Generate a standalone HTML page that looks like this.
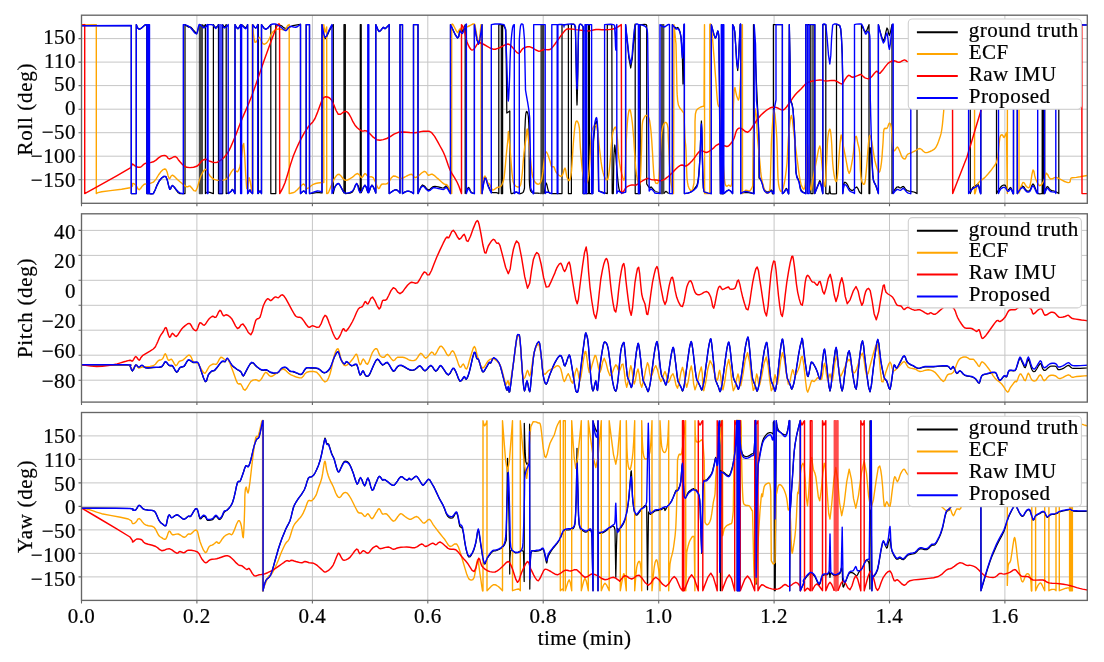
<!DOCTYPE html><html><head><meta charset="utf-8"><title>plot</title><style>html,body{margin:0;padding:0;background:#fff}svg{display:block;filter:blur(0.3px)}text{font-family:"Liberation Serif",serif;fill:#000;stroke:#000;stroke-width:0.22px;font-size:21px;letter-spacing:0.45px}</style></head><body>
<svg width="1104" height="662" viewBox="0 0 1104 662">
<rect width="1104" height="662" fill="#fff"/>
<clipPath id="c0"><rect x="81.5" y="15.2" width="1005.8" height="188.1"/></clipPath>
<path d="M81.5 15.2 V203.3 M196.9 15.2 V203.3 M312.4 15.2 V203.3 M427.8 15.2 V203.3 M543.2 15.2 V203.3 M658.7 15.2 V203.3 M774.1 15.2 V203.3 M889.5 15.2 V203.3 M1004.9 15.2 V203.3 M81.5 38.6 H1087.3 M81.5 62.1 H1087.3 M81.5 85.6 H1087.3 M81.5 109.2 H1087.3 M81.5 132.7 H1087.3 M81.5 156.2 H1087.3 M81.5 179.7 H1087.3" stroke="#c6c6c6" stroke-width="1.0" fill="none"/>
<g clip-path="url(#c0)">
<polyline points="81.7,25.7 131.3,25.5 131.3,193.6 136.3,193.6 136.3,24.6 136.9,26.2 137.9,28.2 139.2,29.3 141.1,28.4 143.3,26.5 145.0,25.0 146.0,24.6 146.5,24.6 146.8,24.6 146.8,193.6 147.5,193.6 148.6,193.6 149.7,193.6 150.8,193.8 151.9,193.8 153.3,193.6 155.1,190.0 157.1,185.1 159.2,181.0 161.4,178.3 163.8,176.4 165.8,176.5 167.3,180.1 168.6,185.6 169.7,189.3 170.6,188.9 171.4,186.6 172.5,185.5 174.3,187.4 176.4,190.4 178.3,192.8 179.9,193.6 181.3,193.6 182.5,193.6 183.6,193.7 184.4,193.6 185.0,193.6 185.0,24.6 185.9,25.3 187.1,26.3 188.3,27.0 189.1,27.0 189.7,26.8 190.8,27.3 192.7,29.3 195.0,32.0 196.7,34.0" fill="none" stroke="#000000" stroke-width="1.25" stroke-linejoin="round"/>
<polyline points="196.7,34.0 199.4,24.6 199.4,193.6 200.3,193.6 200.3,24.6 201.2,24.6 201.2,193.6 202.4,193.6 202.4,24.6" fill="none" stroke="#000000" stroke-width="1.25" stroke-linejoin="round" stroke-opacity="0.72"/>
<polyline points="202.4,24.6 202.8,25.2 203.4,26.1 204.0,26.5 204.5,26.1 205.0,25.2 205.4,24.6 205.4,193.6 206.0,193.1 206.8,192.4 208.0,192.0 209.8,192.4 211.9,193.1 213.4,193.6 213.4,24.6 214.0,25.6 214.9,26.9 215.8,27.5 216.8,26.9 217.8,25.6 218.5,24.6 218.5,193.6 222.7,193.6 222.7,24.6 223.2,25.4 223.8,26.5 224.5,27.0 225.1,26.5 225.8,25.4 226.2,24.6 226.2,193.6 227.6,193.1 229.5,192.3 231.0,191.5 231.7,190.6 232.0,189.7 232.5,189.5 233.4,190.6 234.3,192.3 235.0,193.6 235.0,24.6 235.7,26.0 236.8,27.8 237.9,28.7 238.9,27.7 239.8,25.7 241.0,24.6 242.5,25.3 244.2,26.9 245.6,27.7 246.5,27.0 247.2,25.6 247.6,24.6 247.6,193.6 248.3,192.5 249.2,190.9 250.0,190.0 250.4,190.3 250.7,191.2 251.0,192.0 251.5,192.6 252.2,193.2 252.6,193.6 252.6,24.6 253.4,25.7 254.6,27.2 255.7,28.0 256.7,27.2 257.6,25.7 258.3,24.6 258.3,193.6 258.7,192.7 259.4,191.6 260.0,191.0 260.6,191.6 261.1,192.7 261.5,193.6 261.5,24.6 262.6,26.2 264.2,28.3 265.8,29.3 267.6,28.3 269.5,26.2 270.8,24.6 270.8,193.6 275.8,193.6 275.8,24.6 277.2,24.8 279.1,25.0 281.0,25.5 282.5,26.6 284.0,27.9 285.8,28.5 288.0,27.9 290.5,26.7 293.0,25.7 295.8,25.1 298.5,24.6 300.5,24.3 300.5,193.6 301.4,192.7 302.6,191.6 303.7,191.0 304.7,191.6 305.6,192.7 306.2,193.6 306.2,24.6 309.5,24.6 309.5,193.6 311.7,193.3 314.8,192.8 317.5,192.5 319.4,192.6 321.0,192.8 322.0,193.0 322.0,24.6 322.7,29.1 323.8,35.2 325.0,38.8 326.3,37.8 327.8,34.3 329.2,31.0 330.7,28.5 332.2,26.2 333.3,24.6 333.3,193.6 333.7,191.7 334.3,189.1 335.0,186.8 336.0,185.2 337.2,184.0 338.3,183.5 339.2,184.0 339.9,185.2 340.8,186.8 341.9,188.9 343.1,191.3 344.0,193.0 344.0,24.6 345.3,24.6 345.3,193.6 347.3,193.4 350.1,193.1 352.5,192.0 354.1,189.0 355.5,185.3 356.7,183.5 358.1,185.6 359.4,189.7 360.3,192.7 360.3,24.6 361.2,24.6 361.2,192.7 362.2,190.2 363.6,186.9 365.0,185.2 366.1,187.1 367.2,190.8 368.3,192.7 369.5,190.7 370.7,187.1 372.0,185.2 373.4,187.0 374.8,190.4 375.8,193.0 375.8,24.6 376.7,26.8 377.9,29.8 379.2,31.5 380.6,30.7 382.1,28.7 383.3,27.3 384.0,27.6 384.3,28.4 385.0,28.7 386.4,27.6 388.0,25.9 389.2,24.6 389.2,193.6 391.0,192.3 393.5,190.6 395.8,189.7 397.5,190.4 399.0,191.9 400.0,193.0 400.0,24.6 402.5,24.6 402.5,193.6 403.6,192.9 405.2,191.9 406.7,191.3 408.1,191.2 409.5,191.4 410.8,191.8 411.9,192.4 412.9,193.1 413.5,193.6 413.5,24.6 418.0,24.6 418.0,193.6 419.1,190.9 420.7,187.2 422.5,185.0 424.4,186.0 426.4,188.5 428.3,190.0 430.0,189.3 431.7,187.7 433.3,186.5 435.0,186.3 436.6,186.5 438.3,186.8 440.1,187.3 441.9,187.8 443.5,188.0 444.6,187.3 445.5,186.2 446.5,186.0 447.7,187.6 449.0,190.0 450.0,192.0 450.4,192.9 450.5,193.3 450.5,193.6 450.5,24.6 452.5,28.9 455.2,34.6 457.5,38.0 458.7,36.7 459.4,33.0 460.0,30.0 460.6,28.7 461.1,28.0 461.5,28.0 461.9,29.3 462.3,31.3 462.8,32.0 463.6,30.1 464.5,26.9 465.2,24.6 465.2,193.6 466.1,191.6 467.3,189.0 468.5,187.5 469.4,188.3 470.1,190.3 471.0,192.0 472.2,192.8 473.5,193.3 474.4,193.6 474.4,24.6 475.5,31.1 477.0,39.7 478.5,44.0 479.8,39.7 481.1,31.1 482.0,24.6 482.0,193.6 482.8,188.4 483.9,181.3 485.0,177.0 486.0,177.9 487.0,181.5 488.0,185.0 489.0,187.6 490.1,190.2 491.3,192.0 492.8,192.6 494.5,192.5 496.0,192.5 497.2,192.9 498.1,193.3 498.8,193.6 498.8,24.6 501.3,24.6 501.3,193.6 502.6,193.6 502.6,24.6 502.8,24.5 503.1,24.5 503.5,25.0 504.2,26.5 505.2,28.5 505.8,30.0 506.5,80.0 506.8,113.0 509.8,111.0 509.9,179.0 510.1,182.7 510.4,187.9 510.8,191.8 511.1,193.3 511.4,193.7 512.0,193.6 513.2,193.2 514.6,192.4 516.0,192.0 517.0,192.4 518.0,193.1 519.0,193.6 520.4,193.6 521.8,193.2 523.0,192.5 523.7,191.1 524.2,189.3 524.5,188.0 524.9,129.0 525.1,125.3 525.3,120.2 525.6,116.0 525.9,113.5 526.3,112.0 526.7,111.5 527.2,112.0 527.8,113.5 528.3,116.0 528.6,120.5 528.9,126.0 529.0,130.0 529.3,179.0 529.4,181.5 529.6,185.0 529.9,188.0 530.3,190.0 530.8,191.4 532.0,192.5 534.4,193.1 537.5,193.2 539.7,193.3" fill="none" stroke="#000000" stroke-width="1.25" stroke-linejoin="round"/>
<polyline points="539.7,193.3 541.0,193.6 541.0,24.6 541.9,24.6 541.9,193.6 542.8,193.6 542.8,24.6 543.7,24.6 543.7,193.6 544.2,193.6" fill="none" stroke="#000000" stroke-width="1.25" stroke-linejoin="round" stroke-opacity="0.75"/>
<polyline points="544.2,193.6 544.7,190.1 545.4,185.5 546.2,183.0 546.9,184.8 547.8,188.8 548.7,192.0 549.7,193.1 550.8,193.5 552.5,193.6 555.6,193.7 559.3,193.7 562.0,193.6 562.0,24.6 568.4,24.6 568.4,193.6 571.4,193.6 571.4,24.6 572.3,24.3 573.5,24.1 574.5,24.6 575.0,26.8 575.3,29.8 575.5,32.0 576.5,85.0 576.6,91.7 576.8,100.6 577.0,105.0 577.2,100.6 577.4,91.7 577.6,85.0 578.5,32.0 578.7,29.9 579.0,27.1 579.4,25.0 580.0,24.3 580.8,24.3 581.5,24.6 582.1,25.3 582.6,26.3 583.0,27.0 583.0,193.6 588.4,193.6 588.4,24.6 589.4,24.6 589.4,193.6 592.8,193.6 593.5,142.0 593.8,138.1 594.3,132.7 594.8,128.0 595.3,124.6 595.9,122.0 596.4,121.0 596.8,121.9 597.2,124.4 597.5,128.0 597.7,133.6 597.9,140.2 598.0,145.0 598.6,191.0 607.3,193.6 607.3,24.6 611.8,24.6 612.2,193.6 613.3,193.6 613.8,160.0 614.0,154.8 614.4,148.0 614.8,145.0 615.3,149.0 615.9,156.8 616.5,165.0 617.2,173.1 618.0,181.6 618.8,188.0 619.7,191.1 620.7,192.1 621.8,192.5 623.1,192.7 624.6,192.3 625.6,192.0 625.6,24.6 627.0,39.0 628.9,58.2 630.7,68.0 632.2,59.2 633.7,40.9 634.7,27.0 635.1,24.0 635.2,24.0 635.2,24.6 635.2,193.6 640.2,193.6 640.2,24.6 642.0,24.5 644.4,24.4 646.2,24.6 646.7,25.3 646.7,26.3 646.7,27.0 646.7,184.0 647.5,185.2 648.7,186.9 649.7,188.0 650.2,187.9 650.6,187.1 651.2,187.0 652.3,188.1 653.7,189.8 654.7,191.0" fill="none" stroke="#000000" stroke-width="1.25" stroke-linejoin="round"/>
<polyline points="654.7,191.0 661.5,193.6 661.5,24.6 662.3,24.6 662.3,193.6 663.0,193.6 663.0,24.6 663.8,24.6 663.8,193.6" fill="none" stroke="#000000" stroke-width="1.25" stroke-linejoin="round" stroke-opacity="0.72"/>
<polyline points="663.8,193.6 664.4,192.9 665.2,191.9 666.0,191.4 666.6,191.7 667.2,192.4 668.0,193.0 669.5,193.3 671.2,193.5 672.4,193.6 672.4,24.6 673.4,25.6 674.8,27.0 676.0,28.0 676.9,27.9 677.6,27.5 678.4,28.0 679.3,29.9 680.2,32.8 681.0,37.0 681.6,43.9 682.1,52.1 682.4,58.0 683.0,84.0 684.0,24.6 684.4,24.6 684.4,193.6 685.9,193.4 688.0,193.1 690.0,192.4 691.8,191.3 693.5,189.8 695.0,188.0 696.2,186.5 697.1,184.8 698.0,181.0 698.8,174.4 699.4,165.7 700.0,156.0 700.5,142.4 701.0,127.7 701.4,121.0 701.8,128.3 702.1,143.5 702.4,158.0 702.7,169.5 703.0,180.2 703.4,188.0 704.0,191.5 704.7,192.1 705.8,192.4 707.6,193.1 709.8,193.4 711.3,193.6 711.3,24.6 712.4,28.8 713.9,34.5 715.3,38.0 716.3,36.7 717.1,33.2 717.8,31.0 718.3,32.0 718.6,34.3 718.8,36.0 719.8,100.0 720.4,193.6 721.2,193.7 722.4,193.8 723.8,193.6 725.4,192.4 727.2,190.8 728.8,190.0 730.3,190.8 731.7,192.4 732.6,193.6 732.6,24.6 733.1,25.4 733.9,27.0 734.8,32.0 735.7,45.7 736.7,62.8 737.7,70.5 738.6,59.8 739.5,39.6 740.2,24.6 740.5,24.0 740.6,24.0 740.7,24.6 740.7,193.6 741.9,193.2 743.6,192.7 745.7,192.4 748.4,192.7 751.4,193.2 753.5,193.6 753.5,24.6 753.7,26.7 754.0,30.5 754.5,40.0 755.4,59.4 756.5,84.3 757.5,106.0 758.2,121.6 758.7,133.8 759.0,142.0 759.0,178.0 759.6,178.6 760.6,179.5 761.5,181.0 762.3,183.5 763.1,186.5 764.0,189.0 765.0,190.6 766.2,191.6 767.4,192.0 768.8,191.5 770.3,190.4 771.4,190.0 772.0,190.9 772.2,192.5 772.4,193.6 772.8,193.8 773.1,193.7 773.4,193.6 773.4,24.6 782.4,24.6 782.4,193.6 782.8,193.4 783.3,193.1 784.0,192.4 784.8,190.9 785.6,189.2 786.4,188.4 787.2,189.6 787.9,191.9 788.4,193.6 788.6,193.8 788.7,193.8 788.7,193.6 789.3,24.6 790.2,70.0 790.4,100.0 791.1,101.5 792.1,104.0 793.0,109.0 793.7,118.0 794.4,129.6 795.0,141.0 795.3,152.2 795.6,163.3 796.0,172.0 796.9,176.6 798.0,178.8 799.0,181.0 799.6,184.2 800.2,187.4 801.0,190.0 802.6,191.7 804.5,192.9 805.8,193.6 805.8,24.6 810.8,24.6 810.8,193.6 813.0,193.6 813.0,24.6 814.8,24.6 814.8,193.6 815.9,190.5 817.5,186.3 818.8,183.0 819.4,181.3 819.8,180.7 820.3,181.5 821.2,185.0 822.1,190.0 822.8,193.6 822.8,24.6 825.8,24.6 825.8,193.6 826.0,193.6 826.3,193.6 826.8,193.6 827.5,193.8 828.3,193.8 829.0,193.6 829.4,191.1 829.6,187.7 829.8,186.0 829.9,187.7 830.0,191.1 830.6,193.6 832.4,193.8 834.8,193.8 836.5,193.6 836.5,24.6 836.7,24.4 837.1,24.3 837.7,24.6 838.6,25.0 839.7,25.8 840.7,29.0 841.4,36.7 841.9,46.8 842.2,54.0 842.7,80.0 842.7,193.6 843.1,190.4 843.6,186.1 844.2,183.0 844.9,182.2 845.8,182.6 846.7,183.5 847.7,185.1 848.7,187.3 849.7,189.0 850.7,189.9 851.6,190.4 852.7,190.4 854.0,189.3 855.4,187.7 856.7,187.0 857.8,188.3 858.8,190.6 859.7,192.4 860.5,193.2 861.1,193.4 861.5,193.6 861.5,24.6 862.6,27.1 864.1,30.4 865.5,32.0 866.8,30.4 868.1,27.1 869.0,24.6 869.0,193.6 869.8,193.6 870.0,148.0 870.2,147.9 870.6,148.1 871.0,150.0 871.5,155.0 871.9,161.9 872.4,168.0 872.7,172.7 873.0,176.7 873.4,180.0 874.2,182.4 875.1,184.1 876.0,186.0 876.9,188.7 877.8,191.6 878.4,193.6 878.4,24.6 879.7,29.9 881.7,37.1 883.4,41.0 884.7,38.1 885.9,31.9 887.0,28.0 887.9,29.6 888.6,33.5 889.4,35.4 890.3,32.7 891.3,28.1 892.0,24.6 892.0,193.6 893.4,191.6 895.3,188.9 897.0,187.0 898.3,186.9 899.4,187.6 900.4,188.0 901.4,187.5 902.4,186.7 903.4,186.5 904.4,187.5 905.5,189.1 907.0,190.5 909.2,191.2 911.8,191.6 914.0,192.0 915.4,192.6 916.4,193.2 917.0,193.6 917.0,24.6 970.3,24.6 970.3,193.6 970.8,192.1 971.5,189.9 972.5,188.0 973.8,186.7 975.3,185.7 976.6,185.0 977.3,184.4 977.8,184.0 978.3,184.5 979.0,186.6 979.7,189.6 980.3,192.0 980.6,193.0 980.7,193.4 980.8,193.6 980.8,24.6 996.5,24.6 996.5,193.6 997.6,191.7 999.2,189.1 1000.7,187.0 1002.1,185.7 1003.5,185.0 1004.8,185.0 1006.0,186.4 1007.0,188.6 1008.0,190.0 1009.0,189.4 1009.8,188.0 1010.7,187.5 1011.6,189.1 1012.4,191.7 1013.0,193.6 1013.3,193.8 1013.4,193.8 1013.5,193.6 1013.5,24.6 1017.3,24.6 1017.3,193.6 1018.6,191.2 1020.5,187.9 1022.3,186.0 1023.8,186.8 1025.1,188.9 1026.4,190.5 1027.6,191.1 1028.7,191.1 1029.8,190.5 1030.9,188.3 1031.9,185.4 1033.0,184.0 1034.2,185.5 1035.4,188.5 1036.4,191.0 1037.1,192.3 1037.7,193.1 1038.5,193.6 1039.8,193.8 1041.2,193.7 1042.2,193.6 1042.2,24.6 1043.0,24.6 1043.0,193.6 1043.8,193.6 1043.8,24.6 1044.7,24.6 1044.7,193.6 1045.3,191.4 1046.2,188.3 1047.2,186.5 1048.2,187.0 1049.2,188.6 1050.5,190.0 1052.1,190.6 1053.9,191.0 1055.5,191.5 1056.8,192.2 1058.0,193.0 1058.8,193.6 1058.8,24.6 1087.3,25.0" fill="none" stroke="#000000" stroke-width="1.25" stroke-linejoin="round"/>
<polyline points="81.7,25.0 96.3,24.6 96.3,193.6 96.9,193.2 98.0,192.6 101.7,191.8 110.4,190.6 121.6,189.2 130.0,187.7 132.5,186.1 132.5,184.5 132.5,183.5 133.5,183.5 134.7,184.2 135.8,185.2 136.9,186.9 137.9,188.8 139.2,189.7 140.6,188.5 142.2,186.2 144.2,184.3 147.0,183.7 150.2,183.4 153.3,182.2 156.0,179.1 158.5,175.0 160.8,171.8 162.7,169.9 164.3,169.0 165.8,169.3 167.1,172.0 168.1,175.9 169.2,178.5 170.2,178.0 171.1,176.0 172.5,175.2 174.7,176.7 177.4,179.4 180.0,181.8 182.4,183.8 184.7,185.6 186.7,186.8 188.0,186.7 188.8,186.1 190.0,186.0 191.8,188.0 193.8,190.6 195.8,191.0 197.5,187.2 199.2,181.1 200.8,176.0 202.5,172.7 204.2,170.2 205.8,169.3 207.2,170.6 208.4,173.5 210.0,176.0 211.9,177.8 214.1,179.3 216.7,180.2 219.9,180.4 223.5,180.1 226.7,178.8 229.2,175.8 231.4,171.9 233.3,169.3 234.9,169.7 236.3,171.4 237.5,171.8 238.7,170.0 239.8,166.9 240.8,162.7 241.8,154.7 242.7,145.5 243.7,143.5 244.7,155.8 245.7,175.3 246.7,188.5 247.6,188.1 248.4,181.6 249.2,177.7 250.1,180.7 251.0,186.5 251.7,191.0 252.1,192.8 252.2,193.3 252.3,193.6 252.3,24.6 252.9,30.0 253.9,37.4 255.0,42.3 256.3,41.9 257.8,39.0 259.2,37.3 260.4,38.6 261.5,41.2 262.5,43.2 263.4,44.0 264.1,44.2 265.0,44.0 266.0,43.4 267.1,42.3 268.3,40.7 269.6,38.1 270.9,34.9 272.5,32.3 274.3,30.7 276.2,29.6 278.3,29.0 280.6,29.1 283.0,29.7 285.0,29.8 286.2,28.7 286.9,27.0 287.5,25.7 288.2,25.1 288.8,24.8 289.2,24.6 289.2,193.6 290.7,193.3 292.8,192.8 295.0,191.8 297.3,189.7 299.7,187.2 301.7,185.2 302.8,184.3 303.5,184.0 304.2,184.3 305.1,185.6 306.2,187.5 307.5,188.5 309.2,187.6 311.2,185.8 313.3,184.3 315.6,183.5 317.9,183.0 320.0,182.7 321.6,182.5 322.9,182.5 323.8,182.5 323.8,24.6 324.1,27.0 324.5,30.2 325.0,32.0 325.6,31.1 326.2,28.8 326.7,27.0 326.7,193.6 327.1,193.6 327.6,193.4 328.3,192.7 329.0,191.2 329.8,189.2 330.8,186.8 332.1,183.8 333.5,180.4 335.0,177.7 336.3,175.8 337.7,174.5 339.2,174.3 341.0,175.9 342.9,178.5 345.0,180.2 347.2,180.1 349.5,179.0 351.7,177.7 353.8,176.1 355.7,174.3 357.5,173.5 359.1,174.6 360.4,176.6 361.7,177.7 362.9,176.6 363.9,174.7 365.0,173.5 366.0,174.1 367.1,175.6 368.3,176.8 369.8,176.9 371.6,176.8 373.3,177.7 375.0,181.1 376.8,185.6 378.3,188.5 379.5,188.1 380.4,186.0 381.7,184.3 383.5,184.0 385.5,184.1 387.5,183.5 389.4,181.1 391.2,178.0 393.3,176.0 395.7,176.3 398.4,177.7 400.8,178.5 402.9,178.0 404.9,177.0 406.7,176.0 408.5,175.2 410.1,174.5 411.7,174.3 413.0,175.4 414.1,177.1 415.8,177.7 418.4,175.9 421.6,173.0 424.2,171.3 425.9,172.0 427.1,173.9 428.3,175.2 429.6,175.0 430.9,174.3 432.5,174.3 434.9,175.9 437.6,178.4 440.0,180.5 441.6,182.0 442.9,183.1 444.0,184.0 445.1,184.4 446.0,184.5 447.0,185.0 448.0,186.4 449.1,188.3 450.0,190.0 450.7,191.4 451.3,192.7 451.7,193.6 451.7,24.6 451.9,24.3 452.3,24.0 453.0,24.5 454.3,27.0 456.0,30.4 457.5,32.5 458.3,32.1 458.8,30.5 460.0,29.0 462.4,28.1 465.4,27.3 468.0,26.5 470.0,25.5 471.7,24.6 473.0,24.0 473.8,24.0 474.3,24.0 475.0,25.0 476.1,31.1 477.4,39.1 478.5,43.0 479.5,38.9 480.4,30.7 481.0,24.6 481.0,193.6 481.4,190.4 481.9,185.9 482.5,182.0 483.3,179.1 484.2,176.9 485.0,176.0 485.7,177.3 486.3,179.9 487.0,182.0 487.8,182.8 488.6,183.2 489.5,184.0 490.4,186.0 491.4,188.5 492.5,190.0 493.9,189.8 495.5,188.6 497.0,187.5 498.4,187.2 499.8,186.9 501.0,186.0 502.1,184.3 503.1,181.8 504.0,178.0 504.7,172.2 505.4,165.1 506.0,158.0 506.7,150.8 507.5,143.7 508.0,138.0 508.2,134.4 508.3,132.2 508.4,131.5 508.6,132.6 508.8,135.1 509.0,138.0 509.3,140.5 509.6,143.4 510.0,148.0 510.6,155.7 511.3,165.1 512.0,173.0 512.6,178.0 513.1,181.4 514.0,184.0 515.5,186.0 517.4,187.0 519.0,187.0 520.0,186.1 520.8,184.2 521.5,180.0 522.4,172.0 523.2,161.9 524.0,153.0 524.7,146.9 525.4,142.1 526.0,138.0 526.5,133.9 526.8,130.4 527.2,129.0 527.6,130.6 527.9,134.3 528.3,138.0 528.6,140.7 529.0,143.5 529.5,148.0 530.2,155.8 531.1,165.3 532.0,173.0 532.9,177.4 533.9,180.1 535.0,182.0 536.3,183.5 537.7,184.2 539.0,184.0 540.1,183.1 541.1,181.3 542.0,178.0 542.9,171.9 543.7,164.1 544.5,158.0 545.1,154.4 545.7,152.4 546.5,152.0 547.6,154.0 548.9,157.7 550.0,161.0 550.6,163.3 551.0,165.2 551.5,166.5 552.3,166.9 553.2,166.7 554.0,167.0 554.6,168.4 555.2,170.2 556.0,172.0 557.2,173.6 558.7,175.1 560.0,176.0 560.9,176.3 561.7,176.0 562.5,175.0 563.4,172.5 564.2,169.4 565.0,168.0 565.7,170.0 566.3,173.8 567.0,177.0 567.8,179.1 568.7,180.5 569.5,180.5 570.2,178.8 570.9,175.6 571.5,171.0 572.0,164.3 572.5,156.1 573.0,148.0 573.6,140.0 574.3,132.0 575.0,126.0 575.7,122.6 576.3,121.1 577.0,121.0 577.8,122.0 578.7,124.3 579.4,128.0 579.8,133.6 580.0,140.6 580.4,148.0 581.0,155.9 581.7,164.1 582.4,171.0 583.2,176.0 584.1,179.6 585.0,182.0 585.8,183.3 586.6,183.4 587.4,182.0 588.1,179.0 588.8,174.4 589.4,168.0 590.0,158.4 590.5,147.0 591.0,138.0 591.4,133.3 591.8,130.9 592.4,129.0 593.5,126.8 594.8,125.2 596.0,125.0 596.8,126.9 597.4,130.1 598.0,134.0 598.5,138.1 598.9,142.7 599.4,148.0 600.2,154.6 601.1,161.9 602.0,168.0 603.0,172.4 604.0,175.7 605.0,178.0 606.0,179.5 607.1,179.9 608.0,178.5 608.7,174.9 609.4,169.5 610.0,163.0 610.7,154.8 611.3,145.5 612.0,138.0 612.7,133.5 613.3,130.8 614.0,129.0 614.7,127.6 615.4,127.1 616.0,128.0 616.5,130.8 617.0,135.1 617.5,140.0 617.9,145.6 618.2,151.9 618.8,158.0 619.7,163.9 620.7,169.6 621.8,174.0 622.9,177.8 623.9,180.2 624.8,178.0 625.4,167.9 625.9,153.0 626.3,140.0 626.8,131.0 627.3,123.7 627.8,118.0 628.4,113.5 629.0,110.5 629.7,109.4 630.4,110.6 631.0,113.7 631.7,118.0 632.4,123.5 633.0,130.2 633.7,138.0 634.3,147.8 635.0,158.7 635.7,168.0 636.5,174.7 637.4,179.7 638.2,183.0 638.9,185.0 639.6,185.2 640.2,182.0 640.7,173.4 641.1,161.3 641.5,150.0 641.7,140.5 641.9,131.7 642.2,125.0 642.7,121.2 643.3,119.3 644.0,118.0 644.8,116.5 645.7,115.5 646.7,115.4 647.7,116.2 648.8,117.8 649.7,121.0 650.4,125.8 651.1,132.1 651.7,140.0 652.4,150.9 653.1,163.4 653.7,173.0 654.1,177.4 654.3,178.9 654.7,180.0 655.2,181.7 655.8,183.1 656.5,183.4 657.3,183.5 658.2,182.5 659.0,178.0 659.7,166.9 660.4,152.1 661.0,140.0 661.6,133.2 662.3,129.0 663.0,126.0 664.0,123.7 665.0,122.5 666.0,122.4 666.8,123.3 667.5,125.3 668.0,128.0 668.2,130.7 668.2,134.2 668.4,140.0 668.9,150.2 669.4,162.8 670.0,173.0 670.5,178.7 670.9,182.0 671.4,185.0 672.1,188.4 672.9,191.5 673.5,193.6 674.0,24.6 676.0,44.0 677.0,91.0 677.2,94.9 677.6,100.3 678.4,105.0 679.8,108.0 681.6,110.1 683.0,112.0 683.6,112.9 683.8,113.4 684.0,116.0 684.3,122.4 684.7,130.7 685.0,138.0 685.3,142.1 685.7,145.2 686.0,150.0 686.3,158.8 686.6,169.4 687.0,178.0 687.6,182.9 688.2,185.9 689.0,188.0 690.0,189.8 691.0,190.7 692.0,190.5 692.8,188.5 693.5,185.3 694.0,183.0 695.0,138.0 695.0,131.1 695.0,121.6 695.4,114.0 696.3,110.5 697.6,109.0 699.0,108.0 700.7,107.0 702.7,106.4 704.0,106.0 704.5,24.6 704.6,193.6 709.8,193.6 709.8,24.6 710.1,24.0 710.5,24.0 711.3,25.0 712.7,40.4 714.4,61.9 715.8,80.0 716.6,91.0 717.2,98.5 717.8,104.0 718.6,106.4 719.5,106.9 720.3,110.0 720.9,117.9 721.4,128.5 722.0,140.0 722.7,153.2 723.5,167.3 724.3,178.0 725.0,183.2 725.6,185.1 726.3,186.0 727.1,186.2 728.0,185.5 728.8,185.0 729.5,185.5 730.2,186.2 730.8,186.4 731.2,185.5 731.6,184.1 731.8,183.0 732.5,140.0 732.9,124.8 733.5,104.0 734.2,89.5 735.0,87.6 735.8,92.1 736.7,96.0 737.5,98.3 738.4,100.1 739.2,97.5 740.0,87.8 740.8,73.8 741.5,60.0 741.9,46.7 742.2,33.7 742.4,24.6 742.5,193.6 743.3,192.6 744.5,191.2 745.7,190.3 747.0,190.4 748.4,191.0 749.7,191.0 750.9,189.6 752.0,187.5 752.7,186.0 753.3,140.0 753.9,129.7 754.7,116.0 755.5,109.0 756.2,114.6 756.8,126.8 757.5,138.0 758.2,145.3 758.8,151.7 759.5,158.0 760.1,164.9 760.7,171.9 761.5,178.0 762.6,183.3 763.8,187.7 765.0,191.0 766.1,192.7 767.1,193.3 768.0,193.0 768.8,192.8 769.4,191.8 770.0,188.0 770.4,179.5 770.7,168.2 771.0,158.0 771.2,150.9 771.3,144.9 771.6,138.0 772.3,127.2 773.1,115.5 774.0,110.0 775.0,114.7 776.0,125.7 776.8,138.0 777.3,151.5 777.6,166.3 778.0,178.0 778.6,184.5 779.3,187.9 780.0,190.0 780.7,191.3 781.3,191.3 782.0,190.4 782.8,189.0 783.6,186.7 784.4,183.0 785.3,177.5 786.2,170.5 787.0,163.0 787.5,154.9 787.9,146.3 788.4,138.0 789.3,128.6 790.3,119.5 791.4,115.4 792.4,119.7 793.4,129.0 794.4,138.0 795.3,144.8 796.1,151.3 797.0,158.0 798.0,165.7 799.0,173.6 800.0,180.0 801.0,184.2 802.1,186.9 803.0,188.4 803.8,189.2 804.4,188.7 805.0,186.0 805.5,179.7 806.0,171.1 806.4,163.0 806.8,155.1 807.1,147.6 807.4,144.0 807.7,146.7 807.9,153.2 808.2,160.0 808.4,166.1 808.6,172.4 809.0,178.0 809.6,183.3 810.3,187.9 811.0,190.0 811.6,188.2 812.3,183.9 813.0,179.0 813.9,174.1 814.9,168.6 816.0,163.0 817.3,156.1 818.6,149.2 819.8,146.0 820.6,149.0 821.2,155.9 821.8,163.0 822.5,170.1 823.2,177.6 823.8,183.0 824.3,185.7 824.8,186.4 825.3,184.0 825.8,177.1 826.3,167.2 826.8,158.0 827.1,150.5 827.4,143.6 827.8,138.0 828.4,133.5 829.1,130.3 829.8,129.0 830.3,130.1 830.8,133.1 831.3,138.0 831.8,145.5 832.2,154.8 832.7,163.0 833.3,169.2 834.0,174.3 834.7,178.0 835.4,180.5 836.1,181.6 836.7,181.0 837.2,178.1 837.7,173.4 838.2,168.0 838.7,161.6 839.2,154.4 839.7,148.0 840.2,142.4 840.7,137.5 841.2,135.0 841.6,135.9 842.1,139.0 842.7,143.0 843.6,147.5 844.6,152.7 845.7,158.0 846.8,164.2 848.0,170.5 849.2,173.4 850.4,170.6 851.6,164.4 852.7,158.0 853.5,152.0 854.1,145.8 854.7,141.0 855.2,138.1 855.7,136.6 856.2,136.3 856.7,137.6 857.2,140.1 857.7,143.0 858.4,145.5 859.1,148.4 859.7,153.0 860.1,160.9 860.4,170.5 861.0,178.0 862.1,182.2 863.4,184.3 864.5,184.0 865.3,180.6 865.9,174.8 866.5,168.0 867.2,159.7 867.9,150.4 868.5,143.0 869.0,138.6 869.5,136.1 870.0,135.3 870.6,136.3 871.2,139.1 872.0,143.0 872.9,148.5 873.9,155.1 875.0,161.0 876.3,166.1 877.7,170.4 879.0,172.4 879.9,171.2 880.7,167.7 881.4,163.0 882.0,156.9 882.5,149.6 883.0,143.0 883.3,137.5 883.5,132.7 884.0,129.3 884.9,128.2 886.0,128.5 887.0,128.3 887.9,126.5 888.7,124.2 889.4,123.0 890.1,123.6 890.8,125.3 891.4,128.0 891.8,132.2 892.1,137.4 892.4,142.0 892.8,145.9 893.3,149.1 894.0,151.0 895.0,150.3 896.3,148.1 897.4,147.0 898.3,148.0 899.2,150.0 900.0,152.0 900.7,153.8 901.3,155.6 902.0,157.0 902.9,158.1 904.0,158.9 905.0,159.0 905.8,157.9 906.5,156.0 907.4,154.5 908.4,153.8 909.6,153.4 910.8,153.0 912.1,152.4 913.5,151.7 915.0,151.0 916.6,150.0 918.3,148.9 920.0,148.5 921.7,149.5 923.3,151.3 925.0,152.5 926.6,152.6 928.3,152.2 930.0,151.5 931.9,150.6 934.0,149.4 935.8,147.5 937.3,144.7 938.6,141.3 939.7,138.0 940.5,135.6 941.1,133.4 941.7,130.0 942.4,124.9 943.0,118.6 943.7,111.0 944.3,101.5 944.9,90.7 945.5,80.0 946.0,69.8 946.5,59.6 947.0,50.0 947.0,40.3 947.0,31.0 948.5,24.6 956.3,24.0 966.9,24.0 974.5,24.6 974.6,193.6 974.6,193.8 974.6,193.8 975.0,193.6 975.8,190.7 976.8,186.6 978.3,183.0 980.2,180.9 982.5,179.4 985.0,177.4 987.8,174.3 990.7,170.8 993.2,167.4 995.0,165.0 996.3,162.7 997.4,159.0 998.4,152.1 999.1,143.7 999.9,137.5 1000.8,135.1 1001.6,134.8 1002.4,135.0 1003.0,135.7 1003.4,137.0 1004.0,137.5 1004.9,136.2 1005.8,134.1 1006.5,132.5 1007.3,193.6 1007.5,24.6 1019.0,24.6 1019.0,193.0 1020.1,189.7 1021.6,185.2 1023.0,182.4 1024.2,182.8 1025.3,184.9 1026.4,186.5 1027.5,187.4 1028.7,187.9 1029.8,186.5 1030.9,181.3 1032.0,174.2 1033.0,170.0 1033.9,171.2 1034.6,175.2 1035.6,179.0 1036.9,181.8 1038.3,184.4 1039.7,185.7 1041.2,185.0 1042.6,183.0 1043.9,180.7 1044.8,177.9 1045.5,174.8 1046.4,173.2 1047.6,174.4 1048.9,177.1 1050.5,179.0 1052.2,178.8 1054.1,177.8 1056.3,177.4 1059.0,178.5 1062.0,180.2 1064.6,181.5 1066.6,182.2 1068.3,182.6 1069.6,182.4 1070.2,181.3 1070.4,179.5 1071.0,178.2 1072.3,177.7 1074.0,177.6 1076.3,177.4 1080.0,176.8 1084.2,176.0 1087.3,175.5" fill="none" stroke="#FFA500" stroke-width="1.4" stroke-linejoin="round"/>
<polyline points="81.7,25.0 84.7,24.6 84.7,193.6 98.3,186.1 117.1,175.6 130.8,167.7 132.0,164.6 132.0,163.9 132.0,164.0 133.3,164.5 135.0,165.8 136.7,166.8 138.1,167.2 139.4,167.3 140.8,167.0 142.0,166.0 143.3,164.7 145.0,163.5 147.5,162.9 150.4,162.6 153.3,161.8 156.0,160.1 158.5,157.9 160.8,156.3 162.7,155.6 164.3,155.4 165.8,155.7 167.0,156.7 167.9,158.2 169.2,159.0 171.1,158.3 173.3,157.0 175.3,156.5 176.9,157.7 178.3,159.7 180.0,161.8 182.0,163.9 184.1,165.9 186.7,167.3 190.0,167.6 193.6,167.2 196.7,166.3 198.8,164.7 200.3,162.7 201.7,161.0 203.1,160.0 204.5,159.5 205.8,159.3 207.1,159.7 208.4,160.6 210.0,161.3 212.2,162.0 214.8,162.6 217.5,162.2 220.5,160.4 223.8,157.7 226.7,154.3 229.0,150.6 231.0,146.4 233.3,141.0 236.2,133.9 239.3,125.7 242.5,117.7 245.5,110.9 248.4,104.2 251.7,96.0 255.6,85.2 259.8,72.9 264.0,60.7 268.6,48.0 273.2,35.5 276.7,26.5 278.5,24.0 279.2,24.0 279.6,24.6 279.7,193.6 281.0,191.4 282.8,187.9 285.0,182.7 287.5,174.7 290.4,164.9 293.3,156.0 296.2,149.0 299.0,142.9 301.7,137.7 304.0,133.4 306.2,130.0 308.3,126.8 310.5,124.2 312.8,121.9 315.0,118.5 317.3,112.9 319.7,106.2 321.7,101.0 323.2,98.3 324.4,97.1 325.8,96.8 327.6,97.0 329.6,98.0 331.7,100.2 333.8,104.7 336.1,110.5 338.3,114.3 340.6,114.3 342.9,112.5 345.0,111.3 346.5,111.6 347.8,112.5 349.2,114.3 351.0,117.5 352.9,121.7 355.0,125.2 357.2,127.7 359.6,129.7 361.7,131.0 363.3,131.1 364.7,130.6 366.7,131.0 369.7,133.6 373.2,137.2 376.7,139.7 380.0,140.2 383.2,139.6 386.7,138.5 390.3,136.6 394.0,134.1 398.3,132.3 403.8,132.0 409.9,132.5 415.0,132.7 418.4,132.3 420.8,131.6 423.3,131.3 426.1,131.1 428.9,131.2 431.7,132.7 434.6,136.4 437.5,141.4 440.0,146.0 441.9,149.4 443.5,152.5 445.0,156.0 446.6,160.4 448.2,165.3 450.0,170.0 452.3,174.2 454.8,178.1 457.0,182.0 458.9,186.3 460.4,190.6 461.5,193.6 461.5,24.6 462.1,25.4 463.0,26.7 464.0,29.0 464.9,32.9 465.9,37.8 467.0,42.0 468.3,45.2 469.7,47.8 471.0,49.5 472.0,50.1 472.9,49.9 474.0,49.0 475.4,47.1 476.9,44.6 478.5,43.0 480.1,42.8 481.9,43.5 484.0,44.5 486.8,46.1 490.0,48.0 493.0,49.2 495.4,49.2 497.7,48.4 500.0,47.5 502.7,46.2 505.5,44.7 508.0,44.0 509.9,44.7 511.4,46.3 513.0,48.0 514.8,50.1 516.7,52.4 518.5,53.5 520.0,52.5 521.4,50.3 523.0,48.5 525.1,47.5 527.5,46.8 530.0,46.8 532.8,48.0 535.8,50.0 538.5,51.2 540.5,51.0 542.2,50.2 544.0,49.5 546.0,49.6 548.1,49.8 550.0,49.5 551.6,48.4 553.0,46.6 555.0,44.0 558.1,39.6 561.9,34.4 565.0,30.5 566.9,29.0 568.2,28.9 570.0,29.0 572.7,29.1 575.9,29.6 579.0,30.0 582.0,30.4 585.1,30.9 588.0,31.0 590.7,30.6 593.3,30.0 596.0,29.5 598.9,29.5 601.9,29.8 605.0,29.8 608.4,29.6 611.9,29.2 615.0,28.5 617.6,27.2 619.8,25.7 621.3,24.6 621.6,193.6 622.1,193.0 622.9,192.1 623.8,191.0 624.7,189.7 625.6,188.2 626.8,187.0 628.3,186.1 630.0,185.4 631.7,185.0 633.2,185.0 634.7,185.1 636.2,185.0 637.6,184.2 639.1,183.2 640.7,182.0 642.8,180.7 645.2,179.3 647.2,178.4 648.6,178.4 649.6,178.9 650.7,179.4 652.1,179.7 653.5,179.9 654.7,180.0 655.1,180.0 655.3,180.0 656.0,180.0 657.7,180.3 660.1,180.7 662.5,180.4 664.9,179.1 667.4,177.2 670.0,175.0 672.8,172.3 675.6,169.3 678.0,167.0 679.6,165.8 680.8,165.2 682.0,165.0 683.3,165.3 684.5,166.0 686.0,166.0 687.9,164.9 689.9,163.1 692.0,161.0 694.1,158.4 696.2,155.4 698.0,153.0 699.3,151.6 700.3,150.8 701.4,150.5 702.9,151.0 704.6,152.0 706.3,152.5 708.0,152.0 709.8,150.9 711.8,149.5 714.0,147.6 716.3,145.3 718.8,144.0 721.5,144.4 724.4,145.8 726.8,146.5 728.5,146.0 729.7,144.9 730.8,143.5 732.0,141.9 733.2,140.1 734.2,138.0 735.0,135.4 735.8,132.5 736.7,130.3 737.8,128.9 739.1,128.1 740.7,128.0 742.8,129.4 745.3,131.5 747.7,132.3 749.9,130.5 752.1,127.5 753.7,125.0 754.3,124.2 754.4,123.9 755.0,123.0 756.5,120.7 758.6,117.8 761.0,115.0 763.9,112.4 767.1,109.8 770.0,108.0 772.2,107.2 774.0,107.1 776.0,107.4 778.3,108.3 780.8,109.6 783.0,110.0 784.7,109.1 786.3,107.3 788.0,105.0 790.2,101.9 792.7,98.2 795.0,95.0 797.0,92.7 799.0,90.9 801.0,89.0 803.0,86.7 805.1,84.4 807.8,82.5 811.6,81.2 816.1,80.4 819.8,80.0 822.1,80.1 823.8,80.6 825.8,81.0 828.6,80.8 831.8,80.4 834.7,80.5 837.3,81.6 839.7,83.2 841.7,84.0 843.0,83.2 843.8,81.7 844.7,80.0 846.0,78.2 847.3,76.4 848.7,75.3 849.9,75.6 851.1,76.7 852.7,77.3 855.0,76.7 857.6,75.6 859.7,74.8 860.6,74.5 861.0,74.5 861.5,74.8 862.5,75.7 863.7,76.9 865.0,77.8 866.5,78.4 868.2,78.8 870.0,78.3 872.1,76.2 874.4,73.2 876.4,71.3 877.6,71.7 878.6,73.2 880.0,73.3 882.4,70.6 885.3,66.6 888.0,63.4 890.2,61.8 892.1,61.0 894.0,60.7 895.7,61.1 897.3,62.0 899.0,62.4 900.8,61.7 902.7,60.6 904.4,59.9 905.7,60.4 906.9,61.4 908.8,61.9 911.9,61.7 915.7,61.0 920.0,60.0 924.9,58.9 930.2,57.5 935.0,55.0 938.8,50.8 942.0,45.4 945.0,40.0 947.9,34.3 950.6,28.6 952.4,24.6 952.7,193.6 956.2,184.6 961.1,172.1 965.0,162.0 966.4,158.4 966.9,157.2 968.3,152.5 971.3,142.7 975.3,129.3 980.8,111.0 988.2,82.3 997.1,48.6 1006.8,24.6 1017.0,24.0 1028.0,24.0 1040.0,26.0 1054.8,25.7 1070.6,25.1 1081.8,24.6 1082.0,193.6 1087.3,193.6" fill="none" stroke="#FF0000" stroke-width="1.45" stroke-linejoin="round"/>
<polyline points="81.7,25.7 131.3,25.5 131.3,193.6 136.3,193.6 136.3,24.6 136.9,26.2 137.9,28.2 139.2,29.3 141.1,28.4 143.2,26.5 145.0,25.0 146.0,24.6 146.6,24.6 146.9,24.6 146.9,193.6 147.6,193.6 147.6,24.6 148.3,24.6 148.3,193.6 148.9,193.6 148.9,24.6 149.5,24.6 149.5,193.6 150.4,193.8 151.7,193.8 153.3,193.6 155.1,190.0 157.1,185.1 159.2,181.0 161.4,178.3 163.8,176.4 165.8,176.5 167.3,180.1 168.6,185.6 169.7,189.3 170.6,188.9 171.4,186.6 172.5,185.5 174.3,187.0 176.4,189.7 178.3,191.8 179.9,192.8 181.4,193.3 182.5,193.6 183.0,193.7 183.2,193.7 183.3,193.6 183.3,24.6 184.2,24.7 185.4,24.9 186.7,25.3 188.0,25.9 189.3,26.8 190.8,28.0 192.7,30.3 194.8,33.0 196.5,34.0 197.5,31.5 198.3,27.3 199.2,24.5 200.7,25.0 202.4,26.9 204.0,28.0 205.3,27.2 206.5,25.7 207.3,24.5 207.3,193.6 208.0,193.6 208.0,24.6 209.4,24.6 211.3,24.6 213.0,25.0 214.1,26.2 215.0,27.8 215.8,28.5 216.8,27.6 217.8,25.9 218.5,24.6" fill="none" stroke="#0000FF" stroke-width="1.4" stroke-linejoin="round"/>
<polyline points="218.5,24.6 219.3,24.6 219.3,193.6 220.1,193.6 220.1,24.6 221.0,24.6 221.0,193.6 221.9,193.6 221.9,24.6" fill="none" stroke="#0000FF" stroke-width="1.4" stroke-linejoin="round" stroke-opacity="0.72"/>
<polyline points="221.9,24.6 222.5,25.7 223.5,27.2 224.5,28.0 225.8,27.2 227.2,25.7 228.2,24.6 228.2,193.6 229.0,193.1 230.1,192.3 231.0,191.5 231.6,190.6 232.0,189.7 232.5,189.5 233.4,190.6 234.3,192.3 235.0,193.6 235.0,24.6 235.8,26.0 236.8,27.8 237.9,28.7 238.9,27.8 239.9,26.0 240.6,24.6 240.6,193.6 241.6,193.6 241.6,24.6 242.7,26.0 244.3,27.8 245.6,28.7 246.5,27.8 247.2,26.0 247.6,24.6 247.6,193.6 248.3,192.5 249.2,190.9 250.0,190.0 250.4,190.3 250.7,191.2 251.0,192.0 251.5,192.6 252.2,193.2 252.6,193.6 252.6,24.6 253.4,25.7 254.6,27.2 255.7,28.0 256.5,27.2 257.2,25.7 257.7,24.6 257.7,193.6 258.3,192.7 259.2,191.6 260.0,191.0 260.6,191.6 261.1,192.7 261.5,193.6 261.5,24.6 262.6,26.2 264.1,28.3 265.8,29.3 267.7,28.2 269.7,25.9 271.7,24.3 273.4,24.0 275.1,24.0 276.7,24.5 278.4,25.4 280.1,26.5 281.7,27.7 283.1,29.0 284.5,30.2 285.8,30.7 287.1,29.6 288.5,27.8 290.0,26.5 291.9,26.5 293.9,27.1 295.8,27.3 297.6,26.5 299.3,25.2 300.5,24.3 300.5,193.6 301.4,192.7 302.6,191.6 303.7,191.0 304.7,191.6 305.6,192.7 306.2,193.6 306.2,24.6 309.5,24.6 309.5,193.6 311.7,192.8 314.8,191.7 317.5,191.0 319.4,191.1 321.0,191.6 322.0,192.0 322.0,24.6 322.7,28.6 323.8,34.1 325.0,37.3 326.4,36.2 327.9,32.9 329.2,29.8 330.3,27.7 331.3,25.9 332.0,24.6 332.0,193.6 332.8,191.7 333.9,189.1 335.0,186.8 336.1,185.2 337.2,184.0 338.3,183.5 339.1,184.0 339.9,185.2 340.8,186.8 342.0,189.0 343.3,191.4 345.0,193.0 347.4,193.1 350.1,192.4 352.5,191.0 354.2,188.3 355.5,185.0 356.7,183.5 357.8,185.9 358.8,190.3 360.0,192.7 361.6,190.9 363.4,187.2 365.0,185.2 366.2,186.8 367.2,190.1 367.8,192.5 367.8,24.6 368.8,24.6 368.8,192.7 369.6,190.2 370.8,186.8 372.0,185.2 373.4,187.0 374.8,190.4 375.8,193.0 375.8,24.6 376.7,26.8 377.9,29.8 379.2,31.5 380.6,30.7 382.1,28.7 383.3,27.3 384.0,27.6 384.3,28.4 385.0,28.7 386.4,27.6 388.0,25.9 389.2,24.6 389.2,193.6 391.0,192.3 393.5,190.6 395.8,189.7 397.5,190.4 399.0,191.9 400.0,193.0 400.0,24.6 402.5,24.6 402.5,193.6 403.6,192.9 405.2,191.9 406.7,191.3 408.1,191.2 409.5,191.4 410.8,191.8 411.9,192.4 412.9,193.1 413.5,193.6 413.5,24.6 418.0,24.6 418.0,193.6 419.1,191.2 420.7,187.9 422.5,186.0 424.4,187.0 426.4,189.5 428.3,191.0 430.0,190.4 431.7,188.8 433.3,187.7 435.0,187.7 436.6,188.1 438.3,188.5 440.1,188.9 441.9,189.4 443.5,189.5 444.6,188.8 445.5,187.7 446.5,187.5 447.7,189.0 449.0,191.3 450.0,193.0 450.4,193.6 450.5,193.6 450.5,193.6 450.5,24.6 452.5,28.8 455.2,34.5 457.5,38.0 458.7,36.8 459.3,33.4 460.0,31.0 460.8,31.6 461.6,33.2 462.5,33.5 463.7,31.0 465.0,27.3 466.0,24.6 466.4,24.0 466.4,24.3 466.4,24.6 466.4,193.6 466.9,191.9 467.7,189.7 468.5,188.5 469.3,189.3 470.1,191.0 471.0,192.5 472.2,193.1 473.5,193.4 474.4,193.6 474.4,24.6 475.5,31.1 477.0,39.7 478.5,44.0 479.8,39.7 481.1,31.1 482.0,24.6 482.0,193.6 482.8,188.7 483.9,182.0 485.0,178.0 486.0,179.0 487.0,182.5 488.0,186.0 489.2,188.7 490.4,191.2 491.3,193.0 491.3,24.6 495.0,24.0 500.1,24.0 504.0,24.6 505.5,28.8 505.8,35.2 506.0,44.0 506.6,57.0 507.1,72.4 507.5,85.0 507.8,93.4 508.0,99.0 508.3,101.0 508.6,98.7 508.9,92.9 509.3,85.0 509.7,74.3 510.0,61.4 510.5,50.0 511.1,41.0 511.8,33.5 512.5,28.0 513.2,25.4 513.8,24.8 514.3,24.6 514.3,193.6 514.8,193.1 515.5,192.4 516.3,192.0 517.3,192.4 518.5,193.1 519.3,193.6 519.3,40.0 519.6,35.9 520.0,30.3 520.5,26.0 521.3,24.0 522.2,24.0 523.0,24.6 523.6,29.1 524.1,35.4 524.5,40.0 525.5,90.0 526.4,95.3 527.7,102.7 528.7,109.0 529.2,113.1 529.5,116.0 529.7,118.0 530.3,150.0 530.7,188.0 531.4,189.7 532.4,191.9 533.2,193.6 533.5,193.8 533.6,193.8 533.7,193.6 533.7,24.6 545.2,24.6 545.2,193.6 545.6,193.1 546.1,192.4 547.0,192.0 548.6,192.4 550.4,193.1 551.8,193.6 551.8,24.6 557.2,24.6 557.2,193.6 557.9,193.6 557.9,24.6 559.5,24.5 561.7,24.4 563.4,24.6 563.9,25.4 564.0,26.5 564.0,27.0 564.0,26.5 564.0,25.4 565.0,24.6 567.9,24.1 571.6,24.0 574.5,24.6 575.5,26.8 575.5,29.8 575.5,32.0 576.5,75.0 576.6,79.7 576.8,85.9 577.0,89.0 577.2,85.9 577.4,79.7 577.6,75.0 578.5,32.0 578.7,29.9 579.0,27.1 579.4,25.0 580.0,24.3 580.8,24.3 581.5,24.6 582.2,25.3 582.9,26.3 583.4,27.0 583.4,193.6 585.0,193.6 585.0,24.6 586.2,24.6 586.2,193.6 586.6,193.6 586.6,24.6 591.6,24.6 591.6,193.6 592.8,193.6 593.3,140.0 593.6,135.8 594.0,130.0 594.5,125.0 595.1,121.4 595.8,118.6 596.4,117.5 596.8,118.4 597.2,121.0 597.5,125.0 597.8,131.5 598.0,139.4 598.2,145.0 598.8,191.0 604.6,193.6 604.6,24.6 607.2,24.4 610.8,24.2 613.5,24.6 614.5,25.5 614.7,26.9 614.8,30.0 615.2,37.1 615.5,45.9 615.8,50.0 616.1,45.1 616.3,35.5 616.5,28.0 616.6,25.4 616.7,24.8 616.8,24.6 616.8,193.6 617.1,192.8 617.6,191.6 618.3,191.0 619.3,191.4 620.5,192.4 621.8,193.0 623.2,192.9 624.6,192.4 625.6,192.0 625.6,24.6 627.0,37.6 628.9,55.1 630.7,64.0 632.1,56.0 633.4,39.6 634.7,27.0 636.1,24.0 637.5,24.0 638.4,24.6 638.4,193.6 639.3,193.6 639.3,24.6 640.8,24.9 642.9,25.3 644.7,26.0 645.8,26.9 646.6,28.1 647.2,30.0 647.5,33.3 647.6,37.2 647.7,40.0 648.3,100.0 649.2,191.0 649.7,190.3 650.3,189.3 651.2,189.0 652.4,189.9 653.7,191.4 654.7,192.5 654.9,192.9 654.7,192.9 655.0,193.0 656.5,193.2 658.5,193.4 660.0,193.6 660.0,24.6 661.0,25.4 662.5,26.5 664.0,27.0 665.4,26.5 666.9,25.4 668.0,24.6 668.7,24.4 669.2,24.5 669.5,24.6 669.5,193.6 672.4,193.6 672.4,24.6 673.4,25.9 674.8,27.7 676.0,29.0 676.9,29.0 677.6,28.6 678.4,29.0 679.3,30.6 680.2,33.1 681.0,37.0 681.5,45.1 682.0,54.5 682.4,58.0 683.0,49.7 683.5,35.3 684.0,24.6 684.2,24.0 684.3,24.0 684.4,24.6 684.4,193.6 685.9,193.4 688.0,193.0 690.0,192.4 691.8,191.5 693.5,190.4 695.0,189.0 696.2,187.9 697.1,186.5 698.0,183.0 698.8,176.4 699.4,167.7 700.0,158.0 700.5,144.8 701.0,130.6 701.4,124.0 701.8,130.4 702.1,144.4 702.4,158.0 702.7,169.2 703.0,180.0 703.4,188.0 704.0,191.5 704.7,192.1 705.8,192.4 707.6,193.1 709.8,193.4 711.3,193.6 711.3,24.6 712.4,28.8 713.9,34.5 715.3,38.0 716.3,36.7 717.1,33.2 717.8,31.0 718.3,32.0 718.6,34.3 718.8,36.0 719.6,112.0 720.4,193.6 721.3,193.6 721.3,24.6 722.2,24.6 722.2,193.6 723.0,193.6 723.0,24.6 723.8,24.6 723.8,193.6 725.1,192.4 727.0,190.8 728.8,190.0 730.3,190.8 731.7,192.4 732.6,193.6 732.6,24.6 733.1,25.5 733.9,27.1 734.8,32.0 735.7,44.8 736.7,60.8 737.7,68.0 738.6,57.8 739.5,38.8 740.2,24.6 740.5,24.0 740.6,24.0 740.7,24.6 740.7,193.6 741.9,192.9 743.6,191.9 745.7,191.4 748.4,191.9 751.5,192.9 753.7,193.6 754.2,193.8 754.2,193.7 754.2,193.6 754.2,24.6 755.5,44.0 756.5,101.0 756.9,104.5 757.5,109.6 758.0,116.0 758.4,124.8 758.8,134.9 759.0,142.0 759.5,177.0 760.2,178.5 761.1,180.7 762.0,183.0 762.7,185.4 763.2,187.9 764.0,190.0 765.0,191.5 766.2,192.5 767.4,193.0 768.8,192.5 770.2,191.5 771.4,191.0 772.3,191.6 772.9,192.8 773.4,193.6 773.7,193.8 773.9,193.7 774.0,193.6 774.0,110.0 776.0,100.0 776.0,24.6 782.4,24.6 782.4,193.6 782.8,193.4 783.3,193.0 784.0,192.4 784.8,191.3 785.6,189.9 786.4,189.4 787.2,190.4 787.9,192.2 788.4,193.6 788.6,193.8 788.7,193.8 788.7,193.6 789.3,24.6 790.2,70.0 790.4,101.0 791.1,102.5 792.1,105.0 793.0,110.0 793.7,119.0 794.4,130.6 795.0,142.0 795.3,153.2 795.6,164.3 796.0,173.0 796.9,177.6 798.0,179.8 799.0,182.0 799.6,185.2 800.2,188.5 801.0,191.0 802.6,192.4 804.5,193.2 805.8,193.6 805.8,24.6 807.6,24.6 807.6,193.6 809.2,193.6 809.2,24.6 814.8,24.6 814.8,193.6 815.9,190.8 817.5,186.9 818.8,184.0 819.4,182.6 819.8,182.2 820.3,183.0 821.2,186.1 822.1,190.4 822.8,193.6 822.8,24.6 823.5,24.0 824.6,24.0 825.8,24.6 827.1,37.7 828.5,55.2 829.8,64.0 830.8,55.4 831.6,38.0 832.7,25.0 834.3,24.0 836.1,24.0 837.7,24.6 838.9,24.9 839.9,25.8 840.7,29.0 841.4,36.7 841.9,46.8 842.2,54.0 842.7,80.0 842.7,193.6 843.1,191.0 843.6,187.5 844.2,185.0 844.9,184.5 845.8,185.0 846.7,186.0 847.6,187.5 848.6,189.4 849.7,191.0 851.2,191.9 853.0,192.5 854.2,193.0 854.5,193.3 854.5,193.5 854.5,193.6 854.5,24.6 856.4,24.1 859.1,24.0 861.5,24.0 863.1,27.0 864.4,31.2 865.5,34.0 866.3,33.9 866.9,32.4 867.5,31.5 868.2,31.8 868.9,32.7 869.5,34.0 869.8,36.0 869.9,38.3 870.0,40.0 870.3,100.0 870.5,106.1 870.7,115.2 871.0,126.0 871.4,139.9 871.9,155.6 872.4,168.0 872.7,174.4 873.0,177.6 873.4,180.0 874.2,182.4 875.1,184.1 876.0,186.0 876.9,188.7 877.8,191.6 878.4,193.6 878.4,24.6 879.7,30.4 881.7,38.3 883.4,43.0 884.7,40.8 885.9,35.4 887.0,33.0 887.9,38.0 888.6,46.0 889.4,49.4 890.4,43.3 891.5,32.6 892.4,24.6 892.9,24.0 893.1,24.0 893.2,24.6 893.2,193.6 894.2,192.3 895.6,190.6 897.0,189.4 898.2,189.5 899.3,190.1 900.4,190.4 901.4,189.7 902.4,188.7 903.4,188.4 904.6,189.4 905.8,191.1 907.0,192.4 908.3,193.1 909.5,193.4 910.4,193.6 910.8,193.7 910.8,193.6 910.8,193.6 910.8,24.6 968.6,24.6 968.6,193.6 969.6,192.3 971.0,190.5 972.5,189.0 973.9,187.9 975.4,187.1 976.6,186.5 977.3,185.8 977.8,185.3 978.3,185.7 979.0,187.8 979.7,190.8 980.3,193.0 980.6,193.7 980.7,193.7 980.8,193.6 980.8,24.6 998.5,24.6 998.5,193.6 999.0,192.3 999.7,190.5 1000.7,189.0 1002.0,188.0 1003.4,187.4 1004.8,187.4 1006.0,188.6 1007.0,190.4 1008.0,191.5 1009.0,190.9 1009.8,189.6 1010.7,189.0 1011.6,190.2 1012.4,192.1 1013.0,193.6 1013.3,193.8 1013.4,193.8 1013.5,193.6 1013.5,24.6 1017.3,24.6 1017.3,193.6 1018.6,191.6 1020.5,188.9 1022.3,187.4 1023.8,188.2 1025.1,190.1 1026.4,191.5 1027.6,192.0 1028.7,192.1 1029.8,191.5 1030.9,189.5 1031.9,186.9 1033.0,185.7 1034.2,187.2 1035.4,190.0 1036.4,192.3 1037.0,193.2 1037.4,193.5 1037.7,193.6 1037.7,24.6 1044.5,24.6 1044.5,193.6 1045.2,191.9 1046.2,189.6 1047.2,188.2 1048.2,188.7 1049.3,190.3 1050.5,191.5 1052.2,191.9 1054.1,192.1 1055.5,192.3 1055.8,192.7 1055.8,193.2 1055.8,193.6 1055.8,24.6 1087.3,25.0" fill="none" stroke="#0000FF" stroke-width="1.4" stroke-linejoin="round"/>
</g>
<path d="M81.5 203.3 v3 M196.9 203.3 v3 M312.4 203.3 v3 M427.8 203.3 v3 M543.2 203.3 v3 M658.7 203.3 v3 M774.1 203.3 v3 M889.5 203.3 v3 M1004.9 203.3 v3 M81.5 38.6 h-3 M81.5 62.1 h-3 M81.5 85.6 h-3 M81.5 109.2 h-3 M81.5 132.7 h-3 M81.5 156.2 h-3 M81.5 179.7 h-3" stroke="#666" stroke-width="1.1" fill="none"/>
<rect x="81.5" y="15.2" width="1005.8" height="188.1" fill="none" stroke="#666" stroke-width="1.35"/>
<text x="76" y="43.7" text-anchor="end">150</text>
<text x="76" y="67.5" text-anchor="end">110</text>
<text x="76" y="91.4" text-anchor="end">50</text>
<text x="76" y="115.2" text-anchor="end">0</text>
<text x="76" y="139.0" text-anchor="end">−50</text>
<text x="76" y="162.8" text-anchor="end">−100</text>
<text x="76" y="186.7" text-anchor="end">−150</text>
<text transform="translate(32,109.2) rotate(-90)" text-anchor="middle" style="letter-spacing:0.68px">Roll (deg)</text>
<rect x="908.3" y="19.0" width="173.1" height="90.3" rx="4" fill="#fff" fill-opacity="1" stroke="#d0d0d0" stroke-width="1.1"/>
<path d="M916.9 32.2 H957.8" stroke="#000000" stroke-width="2"/>
<text x="968.8" y="36.9">ground truth</text>
<path d="M916.9 54.1 H957.8" stroke="#FFA500" stroke-width="2"/>
<text x="968.8" y="58.8">ECF</text>
<path d="M916.9 76.0 H957.8" stroke="#FF0000" stroke-width="2"/>
<text x="968.8" y="80.7">Raw IMU</text>
<path d="M916.9 97.9 H957.8" stroke="#0000FF" stroke-width="2"/>
<text x="968.8" y="102.6">Proposed</text>
<clipPath id="c1"><rect x="81.5" y="213.8" width="1005.8" height="188.3"/></clipPath>
<path d="M81.5 213.8 V402.1 M196.9 213.8 V402.1 M312.4 213.8 V402.1 M427.8 213.8 V402.1 M543.2 213.8 V402.1 M658.7 213.8 V402.1 M774.1 213.8 V402.1 M889.5 213.8 V402.1 M1004.9 213.8 V402.1 M81.5 230.4 H1087.3 M81.5 255.4 H1087.3 M81.5 280.3 H1087.3 M81.5 305.3 H1087.3 M81.5 330.2 H1087.3 M81.5 355.2 H1087.3 M81.5 380.2 H1087.3" stroke="#c6c6c6" stroke-width="1.0" fill="none"/>
<g clip-path="url(#c1)">
<polyline points="81.7,365.1 94.9,365.1 113.1,365.0 126.7,365.1 130.9,365.3 130.5,365.6 130.0,366.3 130.9,368.0 131.6,370.1 132.5,371.0 133.6,369.5 134.7,366.8 135.8,365.1 136.8,365.5 137.7,366.8 138.7,367.6 139.8,367.1 140.8,366.0 142.0,365.5 143.1,366.1 144.2,367.2 145.8,368.0 148.0,368.1 150.6,367.9 153.3,367.6 156.2,367.5 159.2,367.4 161.7,366.8 163.2,365.1 164.3,363.0 165.3,361.8 166.6,362.5 167.9,364.3 169.2,365.6 170.3,365.8 171.4,365.6 172.5,366.0 173.9,368.1 175.3,370.8 176.7,372.3 177.8,371.4 178.9,369.3 180.0,367.6 181.3,367.1 182.8,367.0 184.2,366.3 185.5,364.3 186.9,361.7 188.3,360.1 189.9,360.4 191.7,361.6 193.3,362.6 194.8,362.6 196.3,362.3 197.5,362.6 198.4,363.6 199.0,365.1 200.0,367.6 201.6,372.4 203.6,378.3 205.3,381.8 206.5,381.0 207.4,377.9 208.3,375.1 209.4,373.5 210.6,372.3 211.7,371.3 212.7,371.0 213.7,370.9 215.0,370.1 217.1,367.6 219.6,364.2 221.7,361.8 223.1,361.3 224.1,361.7 225.0,361.8 225.8,360.6 226.6,359.0 227.5,358.5 228.7,360.1 230.2,362.7 231.7,365.1 233.3,366.7 235.1,368.1 236.7,369.3 238.2,370.2 239.6,370.9 240.8,371.8 241.7,373.4 242.5,375.3 243.3,376.0 244.3,374.8 245.4,372.6 246.7,370.1 248.2,367.3 250.0,364.3 251.7,362.6 253.4,363.2 255.0,365.0 256.7,366.8 258.4,368.1 260.0,369.3 261.7,370.1 263.4,370.3 265.1,370.0 266.7,370.1 268.0,370.8 269.3,371.8 270.8,372.6 272.9,373.1 275.4,373.3 277.5,373.0 279.1,371.7 280.4,369.9 281.7,368.5 283.1,367.8 284.4,367.4 285.8,367.6 287.2,368.6 288.7,370.1 290.0,371.3 291.1,371.7 292.2,371.7 293.3,371.8 294.6,372.3 296.1,373.0 297.5,373.5 298.9,374.1 300.3,374.6 301.7,374.3 303.1,372.7 304.4,370.3 305.8,368.5 307.0,367.9 308.3,367.9 310.0,368.0 312.6,368.0 315.6,368.2 318.3,368.8 320.4,370.3 322.3,372.1 324.2,373.0 326.2,372.4 328.2,370.8 330.0,368.5 331.5,365.2 332.9,361.1 334.2,357.6 335.5,354.8 336.8,352.6 338.0,351.8 339.0,353.4 339.9,356.5 340.8,359.3 341.9,361.4 343.1,363.3 344.2,364.3 345.0,363.8 345.7,362.4 346.7,361.8 348.2,362.9 349.9,364.8 351.7,366.0 353.4,365.5 355.2,364.4 356.7,364.6 357.9,367.8 359.0,372.2 360.0,375.1 361.0,374.5 362.0,372.2 363.0,371.0 363.9,372.2 364.8,374.4 365.8,376.0 366.9,376.4 368.0,376.2 369.2,375.1 370.5,372.6 371.9,369.2 373.3,366.0 374.7,363.1 376.0,360.5 377.5,359.3 379.1,360.6 380.8,363.3 382.5,365.1 384.1,364.5 385.8,362.9 387.5,362.6 389.4,365.2 391.5,369.0 393.3,371.3 394.8,370.7 396.2,368.5 397.5,366.8 398.7,365.9 400.0,365.5 401.7,365.6 404.3,366.9 407.3,368.8 410.0,370.1 411.9,370.4 413.5,370.2 415.0,369.6 416.7,368.3 418.3,366.7 420.0,366.0 421.6,367.4 423.3,369.8 425.0,371.0 426.9,369.6 428.9,367.0 430.8,365.6 432.6,367.1 434.2,369.8 435.8,371.3 437.3,370.1 438.8,367.7 440.0,366.0 440.8,365.8 441.5,366.4 442.5,367.6 444.2,370.2 446.3,373.4 448.3,375.1 450.0,373.6 451.6,370.5 453.0,368.5 454.0,368.6 454.8,369.9 455.8,371.8 457.1,375.0 458.5,378.9 460.0,381.3 461.5,380.6 463.0,378.3 464.2,376.8 465.0,377.5 465.6,378.9 466.3,379.3 467.1,378.2 468.0,376.2 469.2,372.6 470.8,366.0 472.6,357.8 474.2,352.6 475.2,352.8 476.0,355.9 476.7,358.5 477.3,359.0 477.9,359.0 478.7,360.1 479.9,363.8 481.2,368.6 482.5,371.8 483.6,371.9 484.7,370.3 485.8,368.5 487.0,366.5 488.2,364.2 489.2,362.6 489.8,362.5 490.2,363.0 490.8,363.0 491.6,361.3 492.5,359.1 493.7,358.0 495.4,358.9 497.4,360.9 499.2,363.5 500.4,366.5 501.4,370.1 502.5,374.3 503.9,379.9 505.5,386.1 506.7,390.1 507.4,390.1 507.9,388.0 508.3,386.8 508.7,389.1 509.1,392.2 509.7,391.8 510.7,385.0 512.0,374.5 513.3,364.3 514.5,354.7 515.7,345.4 516.7,338.5 517.4,335.4 517.8,334.8 518.3,335.1 518.8,334.8 519.4,335.3 520.0,339.3 520.8,349.4 521.7,362.8 522.5,374.3 523.2,382.2 523.8,388.1 524.5,391.0 525.3,388.9 526.1,383.8 527.0,381.0 527.9,384.1 528.8,389.5 529.7,391.8 530.4,388.2 531.0,381.5 531.7,374.3 532.4,367.0 533.2,359.2 534.2,352.6 535.6,347.4 537.3,343.4 538.7,341.8 539.6,343.3 540.2,347.3 540.8,352.6 541.6,360.0 542.4,368.9 543.3,376.0 544.2,380.6 545.2,383.4 546.2,384.3 547.4,382.4 548.6,378.4 550.0,374.3 551.6,370.4 553.3,366.2 555.0,362.6 556.8,359.5 558.5,357.0 560.0,355.6 561.0,355.9 561.8,357.4 562.5,359.3 563.3,362.0 564.0,365.0 565.0,366.0 566.3,362.9 567.9,357.8 569.2,355.1 570.1,356.6 570.8,360.5 571.7,366.0 573.0,374.2 574.5,384.1 575.8,391.0 576.7,392.2 577.5,392.2 578.3,390.1 579.4,382.3 580.5,371.4 581.7,361.0 582.9,351.5 584.1,342.5 585.0,336.0 585.6,333.3 585.9,333.1 586.3,334.3 586.9,335.9 587.6,338.8 588.3,344.3 589.1,354.4 590.0,367.1 590.8,377.6 591.5,384.4 592.2,389.0 593.0,391.0 593.9,388.7 594.9,383.7 595.8,381.0 596.4,384.0 596.9,389.2 597.5,390.6 598.2,384.8 599.1,375.2 600.0,366.0 601.1,358.1 602.3,350.6 603.3,345.1 604.1,342.6 604.8,342.1 605.5,342.6 606.3,343.2 607.2,344.9 608.3,349.3 609.6,358.8 611.1,371.1 612.5,381.0 613.7,386.9 614.8,390.4 615.8,391.3 616.7,389.0 617.5,384.0 618.3,377.6 619.1,369.0 619.9,359.0 620.8,351.0 621.8,346.4 622.9,343.8 623.7,342.6 624.1,343.0 624.3,344.8 624.5,346.9 624.7,349.1 625.0,351.6 625.2,354.2 625.5,357.0 625.7,359.9 626.0,362.8 626.2,365.6 626.5,368.4 626.7,370.9 627.0,373.2 627.2,375.2 627.5,376.9 627.8,378.0 628.0,378.7 628.3,379.3 628.5,380.0 628.8,380.5 629.0,381.1 629.3,381.8 629.5,382.5 629.8,383.2 630.0,383.9 630.3,384.6 630.5,385.3 630.8,386.2 631.1,387.2 631.3,387.6 631.5,387.3 631.8,386.6 632.0,385.7 632.2,384.7 632.5,383.5 632.7,382.2 632.9,380.8 633.2,379.2 633.4,377.5 633.6,375.7 633.9,373.7 634.1,371.8 634.3,369.7 634.6,367.6 634.8,365.6 635.0,363.5 635.3,361.4 635.5,359.3 635.7,357.4 636.0,355.4 636.2,353.6 636.4,351.9 636.7,350.3 636.9,348.9 637.1,347.6 637.4,346.4 637.6,345.4 637.8,344.4 638.0,343.6 638.3,343.5 638.6,344.4 638.9,346.1 639.3,348.1 639.6,350.5 639.9,353.1 640.2,356.0 640.6,358.9 640.9,362.1 641.2,365.1 641.5,368.2 641.9,371.1 642.2,373.9 642.5,376.3 642.8,378.5 643.1,380.3 643.5,381.5 643.8,382.2 644.1,382.9 644.4,383.6 644.8,384.2 645.1,384.9 645.4,385.6 645.7,386.3 646.1,387.1 646.4,387.8 646.7,388.6 647.0,389.4 647.4,390.3 647.7,391.3 648.0,391.8 648.3,391.5 648.6,390.7 648.9,389.6 649.2,388.5 649.5,387.2 649.8,385.7 650.1,384.1 650.4,382.3 650.7,380.3 651.0,378.3 651.3,376.1 651.6,373.8 651.9,371.5 652.2,369.2 652.5,366.8 652.8,364.4 653.1,362.1 653.4,359.8 653.7,357.5 654.0,355.3 654.3,353.3 654.6,351.3 654.9,349.5 655.2,347.9 655.5,346.4 655.8,345.1 656.1,344.0 656.4,342.9 656.7,342.0 657.0,341.8 657.3,342.6 657.6,344.1 657.9,346.0 658.2,348.0 658.5,350.4 658.8,353.0 659.1,355.6 659.3,358.4 659.6,361.2 659.9,363.9 660.2,366.6 660.5,369.0 660.8,371.2 661.1,373.2 661.4,374.8 661.7,375.9 662.0,376.5 662.3,377.1 662.6,377.8 662.9,378.3 663.2,378.9 663.5,379.5 663.7,380.2 664.0,380.8 664.3,381.5 664.6,382.2 664.9,382.9 665.2,383.8 665.5,384.7 665.8,385.1 666.1,384.9 666.3,384.3 666.5,383.5 666.8,382.6 667.0,381.6 667.3,380.5 667.5,379.3 667.8,377.9 668.0,376.5 668.3,374.9 668.5,373.3 668.8,371.6 669.0,369.9 669.3,368.1 669.5,366.4 669.8,364.6 670.0,362.8 670.3,361.1 670.5,359.4 670.8,357.8 671.0,356.2 671.3,354.8 671.5,353.4 671.8,352.2 672.0,351.1 672.3,350.1 672.5,349.2 672.8,348.4 673.0,347.7 673.3,347.6 673.6,348.5 673.9,350.0 674.2,351.8 674.5,353.9 674.8,356.3 675.1,358.8 675.4,361.5 675.8,364.3 676.1,367.0 676.4,369.8 676.7,372.4 677.0,374.9 677.3,377.1 677.6,379.1 677.9,380.7 678.2,381.7 678.5,382.4 678.8,383.0 679.1,383.6 679.4,384.2 679.7,384.8 680.0,385.4 680.4,386.1 680.7,386.7 681.0,387.4 681.3,388.1 681.6,388.8 681.9,389.7 682.2,390.6 682.5,391.0 682.8,390.7 683.1,389.9 683.4,388.9 683.7,387.8 684.0,386.5 684.3,385.0 684.6,383.4 684.8,381.6 685.1,379.7 685.4,377.7 685.7,375.5 686.0,373.3 686.3,371.1 686.6,368.7 686.9,366.4 687.2,364.1 687.5,361.7 687.8,359.5 688.1,357.3 688.4,355.1 688.7,353.1 689.0,351.2 689.2,349.4 689.5,347.8 689.8,346.3 690.1,345.0 690.4,343.9 690.7,342.8 691.0,341.9 691.3,341.8 691.6,342.7 692.0,344.4 692.3,346.4 692.7,348.8 693.0,351.4 693.4,354.3 693.7,357.2 694.1,360.4 694.4,363.4 694.8,366.5 695.1,369.4 695.5,372.2 695.8,374.6 696.2,376.8 696.5,378.6 696.8,379.8 697.2,380.5 697.5,381.2 697.9,381.9 698.2,382.5 698.6,383.2 698.9,383.9 699.3,384.6 699.6,385.4 700.0,386.1 700.3,386.9 700.7,387.7 701.0,388.6 701.4,389.6 701.7,390.1 702.0,389.8 702.3,388.9 702.6,387.9 702.9,386.7 703.2,385.4 703.5,383.9 703.8,382.2 704.1,380.3 704.4,378.4 704.7,376.3 705.0,374.0 705.3,371.7 705.6,369.4 705.9,367.0 706.2,364.6 706.6,362.1 706.9,359.7 707.2,357.4 707.5,355.1 707.8,352.8 708.1,350.7 708.4,348.8 708.7,346.9 709.0,345.2 709.3,343.7 709.6,342.4 709.9,341.2 710.2,340.1 710.5,339.1 710.8,339.0 711.1,340.0 711.4,341.9 711.7,344.1 712.0,346.6 712.3,349.5 712.6,352.6 712.9,355.9 713.3,359.3 713.6,362.7 713.9,366.0 714.2,369.2 714.5,372.2 714.8,374.9 715.1,377.3 715.4,379.3 715.7,380.5 716.0,381.3 716.3,382.1 716.6,382.8 716.9,383.5 717.2,384.2 717.5,385.0 717.9,385.8 718.2,386.6 718.5,387.4 718.8,388.3 719.1,389.1 719.4,390.2 719.7,391.3 720.0,391.8 720.3,391.5 720.6,390.7 720.9,389.7 721.2,388.5 721.5,387.2 721.8,385.8 722.1,384.1 722.3,382.4 722.6,380.4 722.9,378.4 723.2,376.2 723.5,374.0 723.8,371.7 724.1,369.4 724.4,367.1 724.7,364.7 725.0,362.4 725.3,360.1 725.6,357.9 725.9,355.7 726.2,353.7 726.5,351.7 726.7,350.0 727.0,348.3 727.3,346.9 727.6,345.6 727.9,344.4 728.2,343.4 728.5,342.5 728.8,342.3 729.1,343.2 729.4,344.8 729.8,346.8 730.1,349.1 730.4,351.7 730.7,354.4 731.0,357.3 731.3,360.4 731.6,363.4 732.0,366.3 732.3,369.2 732.6,371.8 732.9,374.2 733.2,376.4 733.5,378.1 733.9,379.3 734.2,380.0 734.5,380.7 734.8,381.3 735.1,381.9 735.4,382.6 735.8,383.2 736.1,384.0 736.4,384.7 736.7,385.4 737.0,386.2 737.3,386.9 737.7,387.9 738.0,388.9 738.3,389.3 738.6,389.0 738.9,388.1 739.3,387.0 739.6,385.9 739.9,384.5 740.2,383.0 740.6,381.3 740.9,379.4 741.2,377.4 741.5,375.2 741.9,373.0 742.2,370.6 742.5,368.2 742.8,365.8 743.1,363.3 743.5,360.8 743.8,358.4 744.1,356.0 744.4,353.6 744.8,351.4 745.1,349.2 745.4,347.2 745.7,345.3 746.1,343.6 746.4,342.1 746.7,340.7 747.0,339.6 747.4,338.4 747.7,337.4 748.0,337.3 748.3,338.3 748.6,340.2 748.9,342.5 749.2,345.1 749.5,348.1 749.8,351.2 750.1,354.6 750.4,358.1 750.7,361.5 751.0,364.9 751.3,368.2 751.6,371.2 751.9,374.0 752.2,376.5 752.5,378.5 752.8,379.8 753.1,380.6 753.4,381.4 753.7,382.1 754.0,382.8 754.3,383.6 754.6,384.3 754.9,385.2 755.2,386.0 755.5,386.8 755.8,387.7 756.1,388.6 756.4,389.7 756.7,390.7 757.0,391.3 757.3,391.0 757.6,390.2 758.0,389.2 758.3,388.1 758.6,386.8 758.9,385.4 759.3,383.8 759.6,382.0 759.9,380.1 760.2,378.1 760.6,376.0 760.9,373.8 761.2,371.6 761.5,369.3 761.9,367.0 762.2,364.6 762.5,362.3 762.8,360.1 763.1,357.9 763.5,355.8 763.8,353.8 764.1,351.9 764.4,350.1 764.8,348.5 765.1,347.1 765.4,345.8 765.7,344.7 766.1,343.6 766.4,342.7 766.7,342.6 767.0,343.5 767.3,345.2 767.5,347.3 767.8,349.6 768.1,352.3 768.4,355.2 768.6,358.2 768.9,361.3 769.2,364.4 769.5,367.5 769.7,370.5 770.0,373.2 770.3,375.7 770.6,377.9 770.9,379.7 771.1,380.9 771.4,381.7 771.7,382.3 772.0,383.0 772.2,383.7 772.5,384.3 772.8,385.0 773.1,385.8 773.3,386.5 773.6,387.3 773.9,388.1 774.2,388.9 774.4,389.8 774.7,390.8 775.0,391.3 775.3,391.0 775.5,390.1 775.8,389.0 776.0,387.9 776.2,386.5 776.5,385.0 776.8,383.3 777.0,381.4 777.2,379.4 777.5,377.2 777.8,375.0 778.0,372.6 778.2,370.2 778.5,367.8 778.8,365.3 779.0,362.8 779.2,360.4 779.5,358.0 779.8,355.6 780.0,353.4 780.2,351.2 780.5,349.2 780.8,347.3 781.0,345.6 781.2,344.1 781.5,342.7 781.8,341.6 782.0,340.4 782.2,339.5 782.5,339.3 782.8,340.3 783.1,342.0 783.4,344.1 783.7,346.5 784.0,349.3 784.3,352.2 784.6,355.3 785.0,358.5 785.3,361.7 785.6,364.8 785.9,367.9 786.2,370.7 786.5,373.3 786.8,375.6 787.1,377.4 787.4,378.6 787.7,379.4 788.0,380.1 788.3,380.8 788.6,381.5 788.9,382.1 789.2,382.9 789.6,383.6 789.9,384.4 790.2,385.2 790.5,386.0 790.8,386.8 791.1,387.8 791.4,388.8 791.7,389.3 792.0,389.0 792.4,388.2 792.8,387.1 793.1,386.0 793.5,384.7 793.9,383.3 794.2,381.6 794.6,379.8 794.9,377.9 795.3,375.8 795.7,373.7 796.0,371.5 796.4,369.2 796.7,366.8 797.1,364.5 797.5,362.1 797.8,359.7 798.2,357.4 798.5,355.2 798.9,353.1 799.3,351.0 799.6,349.1 800.0,347.3 800.3,345.6 800.7,344.2 801.1,342.9 801.4,341.8 801.7,340.0 802.0,338.5 802.5,339.6 803.2,345.2 804.1,353.5 805.0,361.0 805.9,367.2 806.7,372.6 807.5,376.0 808.1,376.5 808.6,374.9 809.2,372.6 809.8,369.1 810.5,364.9 811.3,362.3 812.5,362.7 813.8,364.7 815.0,366.8 815.9,368.6 816.7,370.6 817.5,372.6 818.4,375.7 819.4,378.9 820.3,379.3 821.1,374.8 821.8,367.5 822.5,361.0 823.2,355.6 823.8,350.9 824.5,349.3 825.2,352.5 825.9,358.8 826.7,366.0 827.7,375.6 828.9,386.1 830.0,391.0 831.1,386.1 832.2,375.7 833.3,366.0 834.3,357.9 835.3,350.5 836.2,347.6 837.0,351.9 837.8,360.6 838.7,369.3 839.8,378.3 841.0,387.2 842.2,391.0 843.4,385.8 844.6,375.3 845.8,366.0 847.0,358.9 848.1,352.9 849.2,351.0 850.3,355.7 851.4,364.4 852.5,372.6 853.7,380.2 855.0,387.2 856.2,389.3 857.2,382.9 858.2,371.5 859.2,361.0 860.3,352.1 861.4,344.0 862.5,341.0 863.6,346.0 864.6,355.9 865.8,366.0 867.1,376.6 868.6,387.4 870.0,391.8 871.4,385.4 872.8,372.7 874.2,361.0 875.5,351.6 876.7,343.2 877.8,339.6 878.8,343.7 879.8,352.6 880.8,361.0 881.9,367.4 883.1,373.2 884.2,377.6 885.1,379.5 885.8,380.0 886.7,381.0 887.8,384.3 888.9,388.1 890.0,389.3 890.9,385.8 891.8,379.7 892.5,374.3 893.1,370.3 893.6,367.0 894.2,365.1 894.9,365.6 895.8,367.6 896.7,368.5 897.7,367.2 898.8,365.0 900.0,362.6 901.4,360.0 902.8,357.2 904.2,356.0 905.3,357.3 906.2,360.1 907.5,362.6 909.3,364.0 911.3,365.1 913.3,366.0 915.0,367.1 916.5,368.0 918.3,368.5 920.3,368.2 922.6,367.4 925.0,366.8 927.5,366.7 930.1,366.8 933.3,366.8 937.7,366.4 942.7,366.0 946.7,366.0 948.8,367.0 949.9,368.5 950.8,369.3 951.7,368.6 952.5,367.2 953.3,366.8 954.4,368.7 955.5,371.6 956.7,373.5 957.7,373.1 958.8,371.7 960.0,371.0 961.5,372.1 963.1,374.0 965.0,375.5 967.2,376.1 969.6,376.4 971.7,376.8 973.3,377.5 974.6,378.3 975.8,379.3 977.0,380.9 978.2,382.7 979.2,383.3 980.0,381.5 980.7,378.5 981.7,376.0 983.1,374.9 984.7,374.4 986.7,374.0 989.4,373.3 992.5,372.6 995.0,372.6 996.3,373.6 996.9,375.2 997.5,376.8 998.3,378.4 999.0,380.0 1000.0,380.6 1001.3,379.5 1002.9,377.4 1004.2,376.0 1005.2,376.1 1005.9,376.9 1006.7,376.8 1007.4,375.0 1008.1,372.5 1009.2,370.6 1011.0,370.4 1013.2,370.8 1015.0,370.6 1016.1,369.1 1016.8,366.9 1017.5,364.7 1018.3,362.1 1019.2,359.5 1020.0,358.1 1020.8,358.9 1021.6,361.0 1022.5,363.0 1023.4,365.0 1024.3,367.1 1025.3,367.6 1026.3,365.2 1027.3,361.3 1028.3,359.4 1029.4,361.6 1030.6,365.8 1031.7,369.2 1032.7,370.9 1033.8,371.7 1035.0,371.4 1036.7,369.0 1038.7,365.5 1040.3,363.4 1041.3,364.2 1041.9,366.5 1042.5,368.4 1043.2,369.5 1044.0,370.3 1045.0,370.4 1046.5,369.4 1048.2,367.7 1050.0,366.4 1052.0,366.0 1054.1,366.0 1055.8,366.4 1056.8,367.4 1057.4,368.8 1058.3,369.7 1059.8,369.7 1061.5,369.1 1063.3,368.4 1065.0,367.3 1066.8,366.0 1068.3,365.4 1069.5,365.9 1070.5,367.1 1071.7,368.0 1073.0,368.3 1074.6,368.4 1076.7,368.4 1080.2,368.3 1084.3,368.1 1087.3,368.0" fill="none" stroke="#000000" stroke-width="1.25" stroke-linejoin="round"/>
<polyline points="81.7,364.8 94.9,364.8 113.1,364.7 126.7,364.8 130.9,365.0 130.5,365.4 130.0,366.0 130.9,367.4 131.6,369.0 132.5,369.7 133.6,368.4 134.7,366.2 135.8,364.8 136.7,365.4 137.6,367.0 138.7,368.0 139.9,367.9 141.3,367.4 143.3,366.8 146.4,366.6 150.1,366.4 153.3,365.7 155.4,364.2 156.9,362.3 158.3,360.7 159.8,360.0 161.2,359.7 162.5,359.0 163.5,357.1 164.4,354.7 165.3,353.7 166.3,355.3 167.3,358.2 168.3,360.3 169.4,360.3 170.5,359.4 171.7,359.3 173.0,361.3 174.5,364.1 175.8,365.7 177.0,365.0 178.0,363.1 179.2,361.5 180.5,360.9 181.8,360.5 183.3,359.8 185.0,358.3 186.8,356.5 188.3,355.3 189.3,355.1 190.1,355.6 190.8,356.5 191.6,358.0 192.3,359.9 193.3,361.5 194.6,362.1 196.0,362.4 197.5,363.2 198.9,365.2 200.4,367.7 201.7,369.8 202.8,371.5 203.9,372.9 205.0,373.2 206.3,371.6 207.8,368.8 209.2,366.5 210.6,365.3 212.0,364.5 213.3,364.0 214.5,364.1 215.5,364.4 216.7,364.0 218.0,361.9 219.4,359.1 220.8,357.3 222.2,357.5 223.7,358.8 225.0,359.8 226.1,359.5 227.1,359.0 228.3,359.8 229.9,363.1 231.6,367.8 233.3,372.3 234.8,376.4 236.2,380.4 237.5,383.2 238.6,384.0 239.7,383.7 240.8,384.0 242.1,386.3 243.4,389.1 245.0,390.3 246.8,388.2 248.9,384.5 250.8,381.5 252.6,380.3 254.3,379.9 255.8,379.8 257.1,380.1 258.2,380.8 259.2,381.0 260.1,380.4 261.0,379.4 262.0,378.0 263.1,375.9 264.4,373.6 265.8,372.3 267.3,373.2 269.0,375.3 270.8,376.5 272.7,376.0 274.6,374.6 276.7,373.2 278.9,371.5 281.1,369.8 283.3,369.0 285.3,370.0 287.3,371.9 289.2,373.7 291.1,374.8 293.0,375.7 295.0,376.5 297.2,377.3 299.6,377.9 301.7,377.8 303.3,376.3 304.7,374.0 306.7,372.3 309.7,371.5 313.3,371.4 316.7,372.3 319.7,375.5 322.5,379.7 325.0,382.0 326.9,381.0 328.5,378.1 330.0,374.0 331.5,368.2 332.9,361.3 334.2,355.7 335.5,351.9 336.8,349.4 338.0,348.7 339.0,350.7 339.9,354.6 340.8,358.2 341.9,361.1 343.0,363.6 344.2,365.3 345.5,365.7 346.8,365.1 348.3,364.0 350.0,362.3 351.7,360.2 353.3,358.2 354.6,356.2 355.6,354.5 356.7,354.3 357.8,357.3 358.9,362.0 360.0,364.8 361.1,363.7 362.1,360.7 363.3,359.0 364.6,360.6 366.0,363.4 367.5,364.3 369.1,361.3 370.9,356.3 372.5,352.3 374.0,350.1 375.4,348.8 376.7,348.7 377.8,350.4 378.9,353.4 380.0,355.7 381.4,356.8 382.8,357.3 384.2,357.3 385.3,356.3 386.2,354.8 387.5,354.3 389.3,356.1 391.4,358.9 393.3,360.7 394.7,360.1 395.9,358.5 397.5,357.3 399.8,357.1 402.6,357.3 405.0,357.8 406.8,358.6 408.4,359.6 410.0,360.3 411.9,360.6 413.9,360.5 415.8,359.8 417.5,357.6 419.2,354.8 420.8,353.2 422.4,354.4 424.1,356.9 425.8,358.2 427.8,356.6 429.9,353.8 431.7,352.0 432.9,352.7 433.9,354.4 435.0,354.8 436.6,352.5 438.4,348.9 440.0,346.5 441.2,346.1 442.1,346.8 443.3,348.2 444.9,350.7 446.6,353.9 448.3,355.7 449.8,354.6 451.2,352.0 452.5,350.7 453.6,351.6 454.7,353.8 455.8,356.5 457.2,360.3 458.6,364.6 460.0,367.3 461.2,366.9 462.2,365.0 463.3,364.0 464.4,365.7 465.5,368.4 466.7,369.0 468.0,365.8 469.4,360.5 470.8,355.7 472.1,351.6 473.3,348.0 474.5,346.5 475.5,348.3 476.4,352.3 477.5,356.5 479.0,361.0 480.7,365.7 482.5,368.2 484.4,366.9 486.4,363.5 488.3,360.7 490.1,359.4 491.8,358.8 493.7,359.0 495.8,360.1 498.0,362.0 500.0,364.8 501.7,369.2 503.1,374.6 504.2,379.0 504.9,381.9 505.3,383.9 505.8,384.8 506.5,383.9 507.3,381.8 508.0,380.7 508.5,382.4 509.0,385.0 509.7,384.8 510.8,379.9 512.0,372.2 513.3,364.0 514.5,355.2 515.7,345.9 516.7,339.0 517.4,336.1 517.8,335.7 518.3,336.0 518.8,335.9 519.4,336.6 520.0,340.0 520.7,348.2 521.4,359.2 522.0,368.0 522.5,372.8 522.9,375.6 523.3,377.3 523.8,378.2 524.4,378.2 525.0,377.3 525.8,375.0 526.7,372.0 527.5,370.3 528.3,371.8 529.0,374.7 529.7,376.0 530.4,374.4 531.0,371.2 531.7,367.3 532.4,362.5 533.2,357.0 534.2,352.3 535.5,348.4 537.0,345.2 538.3,344.0 539.2,345.6 540.0,349.3 540.8,354.0 541.7,360.7 542.6,368.5 543.7,373.7 545.1,374.4 546.7,372.5 548.3,370.7 550.0,369.8 551.7,369.0 553.3,368.2 554.8,367.2 556.2,366.1 557.5,365.7 558.7,366.0 559.7,367.0 560.8,369.0 561.9,373.2 563.0,378.5 564.2,381.5 565.5,379.8 566.9,375.8 568.3,373.7 569.7,376.5 571.1,381.2 572.5,383.2 573.9,379.0 575.4,372.1 576.7,368.2 577.9,371.5 578.9,377.9 580.0,380.7 581.1,376.0 582.3,367.8 583.3,360.7 584.2,355.7 584.9,351.9 585.8,351.5 586.8,357.4 588.0,366.7 589.2,372.3 590.6,370.6 592.0,365.3 593.3,360.7 594.2,357.7 594.9,355.5 595.8,355.7 597.1,360.8 598.5,368.2 600.0,372.3 601.3,368.7 602.7,361.7 604.2,358.2 606.0,362.7 608.0,370.8 610.0,375.7 612.0,373.5 614.0,368.2 615.8,364.8 617.1,366.3 618.1,369.7 619.2,371.5 620.4,368.9 621.7,364.7 623.0,364.0 624.2,371.1 625.4,381.7 626.7,387.3 628.1,381.9 629.5,371.6 630.8,365.7 632.0,370.1 633.1,378.9 634.2,384.0 635.4,380.2 636.7,372.8 638.0,369.0 639.2,374.2 640.3,383.1 641.7,387.3 643.6,380.8 645.7,369.6 647.5,362.7 648.7,365.6 649.7,372.9 650.8,377.3 652.3,374.4 654.1,368.5 655.8,365.7 657.5,369.9 659.2,377.1 660.8,381.5 662.3,379.3 663.7,374.2 665.0,371.5 666.1,374.3 667.1,379.4 668.3,382.3 669.8,380.0 671.4,375.6 673.0,373.7 674.5,378.1 676.0,385.1 677.5,388.2 679.2,382.3 680.9,372.5 682.5,367.3 683.9,372.5 685.3,382.2 686.7,387.3 688.2,381.6 689.8,371.3 691.3,366.0 692.5,372.3 693.6,383.6 695.0,389.8 697.0,383.9 699.4,372.9 701.3,367.0 702.3,373.4 702.8,385.1 703.8,390.7 705.6,382.8 707.8,369.0 710.0,360.7 712.3,364.8 714.7,374.4 716.7,380.7 718.0,378.4 718.8,372.7 719.7,370.3 720.7,376.4 721.7,385.9 723.0,389.8 724.8,381.1 726.8,366.9 728.7,359.5 730.3,367.1 731.8,381.6 733.3,390.7 734.9,387.6 736.6,379.2 738.0,374.0 738.9,377.5 739.6,384.1 740.8,385.7 742.8,375.4 745.2,360.1 747.5,352.7 749.6,362.0 751.6,379.1 753.3,390.3 754.6,387.9 755.7,379.4 756.7,374.0 757.6,377.0 758.4,383.1 759.7,384.8 761.7,376.1 764.1,363.1 766.3,357.0 768.1,365.5 769.8,380.9 771.3,390.7 772.7,388.1 773.9,380.1 775.0,374.8 775.8,377.5 776.5,383.0 777.5,384.0 779.0,374.2 780.7,360.0 782.5,352.7 784.4,360.2 786.5,374.6 788.3,384.0 789.9,381.9 791.3,374.7 792.5,369.8 793.4,370.8 794.1,374.0 795.0,375.7 796.3,374.0 797.8,370.8 799.2,367.3 800.3,362.2 801.4,356.9 802.5,356.5 803.9,365.6 805.4,379.7 806.7,389.8 807.7,392.1 808.4,390.5 809.2,388.2 810.0,385.8 810.9,382.8 811.7,380.7 812.5,380.5 813.2,381.3 814.2,381.5 815.5,380.3 816.9,378.4 818.3,377.3 819.5,378.1 820.6,379.5 821.7,379.0 822.7,373.8 823.6,366.7 824.5,363.2 825.5,367.2 826.5,374.7 827.5,379.8 828.4,379.1 829.2,375.8 830.0,374.0 830.8,376.5 831.6,380.3 832.5,380.7 833.6,373.3 834.9,362.5 836.2,356.5 837.5,360.6 838.8,369.5 840.0,375.7 841.0,376.1 842.0,373.7 843.3,370.7 845.1,366.5 847.3,361.5 849.2,359.3 850.7,362.4 852.1,368.3 853.3,372.3 854.4,372.9 855.4,371.6 856.7,369.0 858.5,363.2 860.6,356.1 862.5,353.2 864.0,359.3 865.3,369.6 866.7,375.7 868.3,373.2 869.9,366.5 871.7,359.8 873.6,352.8 875.7,345.9 877.5,344.8 879.0,354.9 880.4,370.8 881.7,381.5 883.1,381.9 884.4,377.1 885.8,372.3 887.2,368.2 888.7,364.1 890.0,362.0 891.1,363.9 892.1,368.0 893.3,370.7 894.8,370.6 896.5,369.1 898.3,367.3 900.3,365.1 902.3,362.7 904.2,361.5 905.6,362.7 906.8,365.2 908.3,367.3 910.4,368.1 912.8,368.5 915.0,369.0 916.7,369.9 918.2,370.9 920.0,371.5 922.6,371.1 925.5,370.2 928.3,369.8 930.6,370.1 932.7,370.8 935.0,372.3 937.8,375.5 940.8,379.4 943.3,381.5 944.9,380.3 946.1,377.3 947.5,374.8 949.3,374.0 951.4,373.7 953.3,372.3 955.1,368.8 956.7,364.3 958.3,360.7 959.8,358.8 961.1,357.9 962.5,357.3 963.9,357.0 965.4,357.0 966.7,357.3 967.9,357.9 968.9,358.7 970.0,359.3 971.1,359.3 972.2,359.1 973.3,359.3 974.5,360.3 975.6,361.8 976.7,363.2 977.6,364.6 978.4,366.0 979.2,366.5 980.0,365.3 980.8,363.3 981.7,362.0 982.7,362.0 983.7,362.7 985.0,364.0 986.5,365.9 988.3,368.2 990.0,370.7 991.6,373.2 993.2,375.8 995.0,378.2 997.1,380.2 999.5,382.0 1001.7,384.0 1003.8,386.9 1005.8,390.1 1007.5,392.0 1008.5,391.7 1009.1,390.1 1010.0,388.2 1011.6,385.9 1013.5,383.3 1015.0,381.5 1015.8,381.3 1016.1,381.8 1016.7,381.5 1017.7,379.2 1018.9,376.0 1020.0,374.0 1020.9,374.0 1021.7,375.2 1022.5,376.5 1023.4,378.2 1024.3,380.1 1025.3,380.7 1026.3,378.5 1027.3,375.1 1028.3,373.2 1029.4,374.6 1030.5,377.5 1031.7,379.8 1033.0,380.8 1034.4,381.1 1035.8,380.7 1037.3,378.8 1038.8,376.1 1040.3,374.8 1041.6,376.3 1042.8,379.1 1044.2,380.7 1045.8,379.7 1047.4,377.4 1049.2,375.7 1051.1,375.2 1053.1,375.3 1055.0,375.7 1056.6,376.7 1058.1,378.1 1060.0,378.7 1062.7,377.7 1065.8,375.9 1068.3,374.8 1069.8,375.3 1070.9,376.5 1072.0,377.3 1073.3,377.3 1074.7,376.9 1076.7,376.5 1080.2,376.2 1084.3,375.9 1087.3,375.7" fill="none" stroke="#FFA500" stroke-width="1.4" stroke-linejoin="round"/>
<polyline points="81.7,364.8 85.5,365.4 91.0,366.1 96.7,366.5 102.4,366.2 108.2,365.6 113.3,364.8 117.2,363.9 120.5,362.9 123.3,362.0 125.9,361.3 128.2,360.6 130.0,360.3 131.1,360.5 131.8,361.1 132.5,361.0 133.5,359.6 134.7,357.6 135.8,356.5 136.9,357.5 138.1,359.3 139.2,360.3 140.0,359.5 140.8,357.7 142.5,355.7 145.8,353.6 150.0,351.2 153.3,349.0 155.0,347.3 155.8,345.8 156.7,344.0 157.8,341.6 158.9,338.9 160.0,336.5 161.1,334.6 162.3,333.0 163.3,331.5 164.1,330.0 164.7,328.6 165.3,327.8 165.8,327.6 166.2,327.9 166.7,329.0 167.5,331.7 168.5,335.2 169.5,337.3 170.5,336.6 171.4,334.5 172.5,333.2 173.6,334.2 174.9,335.9 176.3,336.5 178.0,334.7 179.9,331.7 181.7,329.0 183.5,327.1 185.2,325.6 186.7,324.5 187.9,323.7 189.0,323.4 190.0,323.7 191.1,325.2 192.2,327.3 193.3,329.0 194.4,330.1 195.6,330.7 196.7,330.3 197.8,328.0 198.8,324.8 200.0,322.7 201.3,323.1 202.8,324.7 204.2,325.3 205.6,324.0 206.9,321.8 208.3,319.8 209.7,318.3 211.2,317.0 212.5,316.2 213.6,316.5 214.7,317.4 215.8,317.3 217.2,315.1 218.6,312.0 220.0,310.3 221.2,311.4 222.2,313.9 223.3,315.7 224.4,315.7 225.4,315.0 226.7,314.8 228.2,315.5 229.9,316.8 231.7,318.7 233.6,322.1 235.6,326.1 237.5,328.5 239.3,327.5 241.0,324.9 243.0,324.0 245.5,327.4 248.3,332.5 250.8,334.8 252.7,331.4 254.3,325.2 255.8,320.3 257.3,318.8 258.7,318.5 260.0,317.3 261.1,313.9 262.2,309.5 263.3,305.7 264.7,302.7 266.1,300.2 267.5,298.7 268.6,298.9 269.7,300.1 270.8,300.7 272.2,299.7 273.6,298.1 275.0,297.0 276.2,297.0 277.2,297.6 278.3,297.7 279.5,296.7 280.7,295.4 282.0,294.8 283.1,295.2 284.2,296.3 285.8,298.7 288.4,303.4 291.6,309.4 294.2,314.0 295.6,316.0 296.5,316.6 297.5,317.0 298.7,317.3 300.1,317.3 301.7,318.2 303.8,320.9 306.2,324.5 308.3,327.0 309.8,327.2 311.0,326.3 312.5,325.7 314.6,326.4 316.9,327.4 319.2,327.0 321.3,323.3 323.2,318.2 325.0,315.3 326.5,316.4 327.9,319.6 329.2,323.2 330.6,326.8 332.0,330.7 333.3,334.0 334.5,336.5 335.6,338.4 336.7,339.3 337.8,338.9 338.9,337.5 340.0,335.7 341.1,333.3 342.2,330.5 343.3,328.7 344.2,329.2 345.1,330.8 346.3,331.0 348.1,328.8 350.3,325.3 352.5,321.5 354.5,317.2 356.5,312.5 358.3,309.0 359.9,307.5 361.3,307.1 362.5,306.5 363.5,304.7 364.4,302.7 365.3,301.5 366.1,302.1 367.0,303.6 368.0,304.0 369.3,301.7 370.8,298.3 372.5,297.0 374.7,300.3 377.1,305.8 379.2,309.0 380.5,307.5 381.5,303.7 382.5,300.7 383.7,300.1 385.1,300.3 386.7,299.3 388.7,295.5 391.0,290.6 393.3,287.7 395.5,288.9 397.7,292.1 400.0,293.7 402.6,291.8 405.2,288.2 407.5,285.3 409.1,283.8 410.3,282.8 411.7,282.3 413.5,282.6 415.4,283.3 417.5,282.8 419.7,279.5 422.1,275.0 424.2,272.0 425.9,272.7 427.4,274.9 429.2,274.8 431.5,270.5 434.0,264.0 436.7,257.3 439.8,250.4 443.2,243.2 445.8,238.2 447.2,236.9 447.8,237.8 448.7,237.8 450.1,235.2 451.6,231.8 453.3,230.3 455.2,232.6 457.3,236.7 459.2,239.3 461.0,238.2 462.7,235.6 464.2,234.3 465.4,236.8 466.5,240.6 468.0,241.5 470.5,236.3 473.4,228.1 475.8,222.3 477.2,220.6 478.1,221.3 479.2,224.8 480.9,233.5 482.9,245.0 484.7,252.7 486.0,253.0 487.1,249.5 488.3,246.0 489.9,243.4 491.7,240.7 493.3,239.3 494.6,239.9 495.6,241.6 496.7,243.2 497.6,243.2 498.5,243.0 500.0,245.7 502.5,255.1 505.6,267.3 508.3,273.7 510.2,268.9 511.7,258.4 513.3,249.8 514.9,244.4 516.6,240.9 518.7,243.2 521.5,257.1 524.7,276.7 527.5,288.2 529.7,283.3 531.5,270.3 533.3,259.8 535.1,254.9 536.8,252.5 538.7,254.3 541.1,264.0 543.7,277.9 546.2,287.0 548.7,286.6 551.2,281.4 553.3,276.5 554.7,273.4 555.7,270.6 556.7,268.2 558.0,265.8 559.4,263.8 560.8,263.2 562.1,265.6 563.4,269.6 564.7,271.5 566.2,268.6 567.8,263.7 569.2,262.0 570.3,266.0 571.3,273.1 572.5,280.7 574.0,289.8 575.7,299.4 577.2,303.7 578.4,299.3 579.5,289.5 580.8,279.0 582.5,266.2 584.5,252.6 586.2,247.0 587.5,255.4 588.6,271.9 590.0,287.3 591.8,301.0 593.9,313.7 595.8,318.5 597.5,309.8 599.2,293.3 600.8,279.0 602.4,270.2 603.9,263.7 605.3,259.8 606.4,258.5 607.3,259.8 608.3,264.0 609.4,272.5 610.5,283.9 611.7,294.0 613.0,302.8 614.4,310.2 615.8,312.0 617.2,304.1 618.6,290.6 620.0,279.0 621.3,271.1 622.6,265.1 623.8,263.5 624.8,268.4 625.6,277.6 626.7,287.3 628.1,298.6 629.7,310.3 631.2,315.3 632.5,308.2 633.8,294.2 635.0,282.3 636.3,274.4 637.5,268.5 638.7,267.3 639.7,273.7 640.7,284.8 641.7,294.0 642.8,298.6 643.9,301.2 645.0,304.0 645.9,309.0 646.7,314.1 647.8,314.5 649.2,306.3 650.9,293.4 652.5,282.3 654.1,274.6 655.6,268.8 657.0,266.5 658.0,269.2 658.9,275.4 660.0,282.3 661.5,290.7 663.3,299.9 665.0,304.5 666.5,300.9 667.9,292.7 669.2,285.7 670.3,281.1 671.4,277.6 672.5,277.3 673.8,282.3 675.1,290.4 676.7,297.3 678.6,302.2 680.6,305.9 682.5,306.5 684.0,301.7 685.4,293.8 686.7,287.3 688.1,283.5 689.4,281.1 690.8,280.7 692.2,283.6 693.6,288.4 695.0,292.3 696.3,294.0 697.6,294.7 699.2,294.8 701.6,293.8 704.3,292.1 706.7,291.5 708.4,292.6 709.6,294.7 710.8,297.3 711.8,301.6 712.7,306.5 713.7,308.2 714.9,304.0 716.3,296.6 717.5,290.7 718.4,287.9 719.2,286.6 720.0,286.2 720.7,286.9 721.4,288.5 722.5,289.5 724.3,288.9 726.5,287.7 728.3,287.0 729.0,287.4 729.3,288.4 730.0,289.0 731.5,289.2 733.3,289.1 735.0,288.2 736.3,285.1 737.3,281.1 738.5,280.0 739.8,284.1 741.2,290.9 742.7,297.3 744.4,303.3 746.2,308.8 748.0,309.8 749.6,303.1 751.2,292.0 752.7,282.3 754.2,275.0 755.8,269.0 757.2,267.0 758.5,270.8 759.6,278.6 761.0,287.3 762.7,298.9 764.7,311.4 766.5,316.0 768.1,306.1 769.6,288.4 771.0,274.0 772.3,265.9 773.6,261.1 774.8,261.5 776.0,269.9 777.3,283.6 778.5,295.7 779.7,305.7 781.0,314.1 782.3,316.5 783.7,308.9 785.2,295.1 786.8,282.3 788.5,271.8 790.3,262.2 791.8,256.5 792.8,256.3 793.5,260.0 794.3,265.7 795.3,273.8 796.4,283.8 797.7,292.3 799.2,298.9 800.8,304.1 802.3,305.2 803.4,299.6 804.3,290.1 805.2,282.3 806.0,278.3 806.8,276.1 807.7,275.3 809.0,276.6 810.5,279.3 811.8,281.5 812.7,282.1 813.5,282.1 814.3,282.3 815.3,283.4 816.3,284.7 817.3,285.3 818.2,283.9 819.1,281.8 820.2,281.5 821.4,285.7 822.8,291.6 824.3,294.0 826.1,288.1 828.2,278.6 830.2,274.3 832.1,281.8 834.1,294.5 836.0,301.5 837.9,295.5 839.9,283.8 841.8,277.7 843.5,284.3 845.2,296.4 847.3,303.7 850.1,299.8 853.2,291.2 856.0,286.5 858.2,291.3 860.1,300.1 861.8,305.3 863.2,302.6 864.4,296.3 865.7,291.5 867.1,289.2 868.6,288.3 870.2,290.7 872.1,300.5 874.1,313.7 876.3,319.8 878.7,311.6 881.2,296.4 883.2,285.7 884.3,284.9 884.9,288.7 886.0,292.3 888.0,294.0 890.5,295.5 892.7,297.3 894.3,299.8 895.5,302.7 896.8,304.8 898.2,305.6 899.7,305.7 901.0,306.0 902.1,307.2 903.0,308.7 904.0,309.5 905.1,309.0 906.2,307.9 907.7,307.3 909.7,308.0 912.1,309.3 914.3,310.2 916.2,310.1 918.0,309.7 920.0,309.8 922.5,311.1 925.2,312.8 927.5,314.0 928.9,313.9 929.8,313.1 930.8,312.7 932.0,313.3 933.4,314.2 935.0,314.3 937.1,313.0 939.4,310.9 941.7,309.0 943.8,307.3 945.9,305.7 948.0,305.0 950.2,305.6 952.4,307.1 954.2,309.0 955.4,311.4 956.3,314.3 957.5,317.3 959.3,320.6 961.5,324.0 963.3,326.5 964.6,327.7 965.5,328.0 966.7,328.2 968.2,328.3 970.0,328.3 971.7,328.5 973.5,329.5 975.2,330.7 976.7,331.5 977.7,330.9 978.5,329.8 979.2,329.8 980.0,332.0 980.9,335.3 981.7,337.7 982.4,338.4 983.1,338.3 984.2,337.3 985.9,335.4 987.9,332.7 990.0,329.8 992.3,326.5 994.7,323.1 996.7,320.7 998.0,320.4 998.9,321.2 1000.0,321.5 1001.6,320.6 1003.3,319.1 1005.0,317.3 1006.4,314.9 1007.7,312.3 1009.2,310.3 1011.1,309.7 1013.3,309.8 1015.0,309.8 1015.9,309.4 1016.5,308.9 1017.5,308.2 1019.4,307.0 1021.7,305.6 1024.0,305.0 1026.4,305.7 1028.8,307.1 1030.8,308.7 1031.9,310.7 1032.4,312.9 1033.3,314.0 1034.8,313.2 1036.7,311.3 1038.3,309.8 1039.6,309.0 1040.6,308.6 1041.7,309.0 1042.7,310.9 1043.7,313.6 1045.0,315.3 1046.8,314.8 1048.9,313.4 1050.8,312.3 1052.3,312.2 1053.7,312.5 1055.0,313.2 1056.3,314.5 1057.7,316.2 1059.2,317.3 1061.1,317.4 1063.2,317.0 1065.0,316.5 1066.3,316.0 1067.3,315.4 1068.3,315.3 1069.3,316.0 1070.3,317.2 1071.7,318.2 1073.6,318.8 1075.8,319.1 1078.3,319.5 1081.5,320.0 1084.9,320.4 1087.3,320.7" fill="none" stroke="#FF0000" stroke-width="1.45" stroke-linejoin="round"/>
<polyline points="81.7,364.8 94.9,364.8 113.1,364.7 126.7,364.8 130.9,365.0 130.5,365.3 130.0,366.0 130.9,367.7 131.6,369.8 132.5,370.7 133.6,369.2 134.7,366.5 135.8,364.8 136.8,365.2 137.7,366.5 138.7,367.3 139.8,366.8 140.8,365.7 142.0,365.2 143.1,365.8 144.2,366.9 145.8,367.7 148.0,367.8 150.6,367.6 153.3,367.3 156.2,367.2 159.2,367.1 161.7,366.5 163.2,364.8 164.3,362.7 165.3,361.5 166.6,362.2 167.9,364.0 169.2,365.3 170.3,365.5 171.4,365.3 172.5,365.7 173.9,367.8 175.3,370.5 176.7,372.0 177.8,371.1 178.9,369.0 180.0,367.3 181.3,366.8 182.8,366.7 184.2,366.0 185.5,364.0 186.9,361.4 188.3,359.8 189.9,360.1 191.7,361.3 193.3,362.3 194.8,362.3 196.3,362.0 197.5,362.3 198.4,363.3 199.0,364.8 200.0,367.3 201.6,372.1 203.6,378.0 205.3,381.5 206.5,380.7 207.4,377.6 208.3,374.8 209.4,373.2 210.6,372.0 211.7,371.0 212.7,370.7 213.7,370.6 215.0,369.8 217.1,367.3 219.6,363.9 221.7,361.5 223.1,361.0 224.1,361.4 225.0,361.5 225.8,360.3 226.6,358.7 227.5,358.2 228.7,359.8 230.2,362.4 231.7,364.8 233.3,366.4 235.1,367.8 236.7,369.0 238.2,369.9 239.6,370.6 240.8,371.5 241.7,373.1 242.5,375.0 243.3,375.7 244.3,374.5 245.4,372.3 246.7,369.8 248.2,367.0 250.0,364.0 251.7,362.3 253.4,362.9 255.0,364.7 256.7,366.5 258.4,367.8 260.0,369.0 261.7,369.8 263.4,370.0 265.1,369.7 266.7,369.8 268.0,370.5 269.3,371.5 270.8,372.3 272.9,372.8 275.4,373.0 277.5,372.7 279.1,371.4 280.4,369.6 281.7,368.2 283.1,367.5 284.4,367.1 285.8,367.3 287.2,368.3 288.7,369.8 290.0,371.0 291.1,371.4 292.2,371.4 293.3,371.5 294.6,372.0 296.1,372.7 297.5,373.2 298.9,373.8 300.3,374.3 301.7,374.0 303.1,372.4 304.4,370.0 305.8,368.2 307.0,367.6 308.3,367.6 310.0,367.7 312.6,367.7 315.6,367.9 318.3,368.5 320.4,370.0 322.3,371.8 324.2,372.7 326.2,372.1 328.2,370.5 330.0,368.2 331.5,364.9 332.9,360.8 334.2,357.3 335.5,354.5 336.8,352.3 338.0,351.5 339.0,353.1 339.9,356.2 340.8,359.0 341.9,361.1 343.1,363.0 344.2,364.0 345.0,363.5 345.7,362.1 346.7,361.5 348.2,362.6 349.9,364.5 351.7,365.7 353.4,365.2 355.2,364.1 356.7,364.3 357.9,367.5 359.0,371.9 360.0,374.8 361.0,374.2 362.0,371.9 363.0,370.7 363.9,371.9 364.8,374.1 365.8,375.7 366.9,376.1 368.0,375.9 369.2,374.8 370.5,372.3 371.9,368.9 373.3,365.7 374.7,362.8 376.0,360.2 377.5,359.0 379.1,360.3 380.8,363.0 382.5,364.8 384.1,364.2 385.8,362.6 387.5,362.3 389.4,364.9 391.5,368.7 393.3,371.0 394.8,370.4 396.2,368.2 397.5,366.5 398.7,365.6 400.0,365.2 401.7,365.3 404.3,366.6 407.3,368.5 410.0,369.8 411.9,370.1 413.5,369.9 415.0,369.3 416.7,368.0 418.3,366.4 420.0,365.7 421.6,367.1 423.3,369.5 425.0,370.7 426.9,369.3 428.9,366.7 430.8,365.3 432.6,366.8 434.2,369.5 435.8,371.0 437.3,369.8 438.8,367.4 440.0,365.7 440.8,365.5 441.5,366.1 442.5,367.3 444.2,369.9 446.3,373.1 448.3,374.8 450.0,373.3 451.6,370.2 453.0,368.2 454.0,368.3 454.8,369.6 455.8,371.5 457.1,374.7 458.5,378.6 460.0,381.0 461.5,380.3 463.0,378.0 464.2,376.5 465.0,377.2 465.6,378.6 466.3,379.0 467.1,377.9 468.0,375.9 469.2,372.3 470.8,365.7 472.6,357.5 474.2,352.3 475.2,352.5 476.0,355.6 476.7,358.2 477.3,358.7 477.9,358.7 478.7,359.8 479.9,363.5 481.2,368.3 482.5,371.5 483.6,371.6 484.7,370.0 485.8,368.2 487.0,366.2 488.2,363.9 489.2,362.3 489.8,362.2 490.2,362.7 490.8,362.7 491.6,361.0 492.5,358.8 493.7,357.7 495.4,358.6 497.4,360.6 499.2,363.2 500.4,366.2 501.4,369.8 502.5,374.0 503.9,379.6 505.5,385.8 506.7,389.8 507.4,389.8 507.9,387.7 508.3,386.5 508.7,388.8 509.1,391.9 509.7,391.5 510.7,384.7 512.0,374.2 513.3,364.0 514.5,354.4 515.7,345.1 516.7,338.2 517.4,335.1 517.8,334.5 518.3,334.8 518.8,334.5 519.4,335.0 520.0,339.0 520.8,349.1 521.7,362.5 522.5,374.0 523.2,381.9 523.8,387.8 524.5,390.7 525.3,388.6 526.1,383.5 527.0,380.7 527.9,383.8 528.8,389.2 529.7,391.5 530.4,387.9 531.0,381.2 531.7,374.0 532.4,366.7 533.2,358.9 534.2,352.3 535.6,347.1 537.3,343.1 538.7,341.5 539.6,343.0 540.2,347.0 540.8,352.3 541.6,359.7 542.4,368.6 543.3,375.7 544.2,380.3 545.2,383.1 546.2,384.0 547.4,382.1 548.6,378.1 550.0,374.0 551.6,370.1 553.3,365.9 555.0,362.3 556.8,359.2 558.5,356.7 560.0,355.3 561.0,355.6 561.8,357.1 562.5,359.0 563.3,361.7 564.0,364.7 565.0,365.7 566.3,362.6 567.9,357.5 569.2,354.8 570.1,356.3 570.8,360.2 571.7,365.7 573.0,373.9 574.5,383.8 575.8,390.7 576.7,392.2 577.5,392.2 578.3,389.8 579.4,382.0 580.5,371.1 581.7,360.7 582.9,351.2 584.1,342.2 585.0,335.7 585.6,333.0 585.9,332.8 586.3,334.0 586.9,335.6 587.6,338.5 588.3,344.0 589.1,354.1 590.0,366.8 590.8,377.3 591.5,384.1 592.2,388.7 593.0,390.7 593.9,388.4 594.9,383.4 595.8,380.7 596.4,383.7 596.9,388.9 597.5,390.3 598.2,384.5 599.1,374.9 600.0,365.7 601.1,357.8 602.3,350.3 603.3,344.8 604.1,342.3 604.8,341.8 605.5,342.3 606.3,342.9 607.2,344.6 608.3,349.0 609.6,358.5 611.1,370.8 612.5,380.7 613.7,386.6 614.8,390.1 615.8,391.0 616.7,388.7 617.5,383.7 618.3,377.3 619.1,368.7 619.9,358.7 620.8,350.7 621.8,346.1 622.9,343.5 623.7,342.3 624.1,342.7 624.3,344.5 624.5,346.6 624.7,348.8 625.0,351.3 625.2,353.9 625.5,356.7 625.7,359.6 626.0,362.5 626.2,365.3 626.5,368.1 626.7,370.6 627.0,372.9 627.2,374.9 627.5,376.6 627.8,377.7 628.0,378.4 628.3,379.0 628.5,379.7 628.8,380.2 629.0,380.8 629.3,381.5 629.5,382.2 629.8,382.9 630.0,383.6 630.3,384.3 630.5,385.0 630.8,385.9 631.1,386.9 631.3,387.3 631.5,387.0 631.8,386.3 632.0,385.4 632.2,384.4 632.5,383.2 632.7,381.9 632.9,380.5 633.2,378.9 633.4,377.2 633.6,375.4 633.9,373.4 634.1,371.5 634.3,369.4 634.6,367.3 634.8,365.2 635.0,363.2 635.3,361.1 635.5,359.0 635.7,357.1 636.0,355.1 636.2,353.3 636.4,351.6 636.7,350.0 636.9,348.6 637.1,347.3 637.4,346.1 637.6,345.1 637.8,344.1 638.0,343.3 638.3,343.2 638.6,344.1 638.9,345.8 639.3,347.8 639.6,350.2 639.9,352.8 640.2,355.7 640.6,358.6 640.9,361.8 641.2,364.8 641.5,367.9 641.9,370.8 642.2,373.6 642.5,376.0 642.8,378.2 643.1,380.0 643.5,381.2 643.8,381.9 644.1,382.6 644.4,383.3 644.8,383.9 645.1,384.6 645.4,385.3 645.7,386.0 646.1,386.8 646.4,387.5 646.7,388.3 647.0,389.1 647.4,390.0 647.7,391.0 648.0,391.5 648.3,391.2 648.6,390.4 648.9,389.3 649.2,388.2 649.5,386.9 649.8,385.4 650.1,383.8 650.4,382.0 650.7,380.0 651.0,378.0 651.3,375.8 651.6,373.5 651.9,371.2 652.2,368.9 652.5,366.5 652.8,364.1 653.1,361.8 653.4,359.5 653.7,357.2 654.0,355.0 654.3,353.0 654.6,351.0 654.9,349.2 655.2,347.6 655.5,346.1 655.8,344.8 656.1,343.7 656.4,342.6 656.7,341.7 657.0,341.5 657.3,342.3 657.6,343.8 657.9,345.7 658.2,347.7 658.5,350.1 658.8,352.7 659.1,355.3 659.3,358.1 659.6,360.9 659.9,363.6 660.2,366.3 660.5,368.7 660.8,370.9 661.1,372.9 661.4,374.5 661.7,375.6 662.0,376.2 662.3,376.8 662.6,377.5 662.9,378.0 663.2,378.6 663.5,379.2 663.7,379.9 664.0,380.5 664.3,381.2 664.6,381.9 664.9,382.6 665.2,383.5 665.5,384.4 665.8,384.8 666.1,384.6 666.3,384.0 666.5,383.2 666.8,382.3 667.0,381.3 667.3,380.2 667.5,379.0 667.8,377.6 668.0,376.2 668.3,374.6 668.5,373.0 668.8,371.3 669.0,369.6 669.3,367.8 669.5,366.1 669.8,364.3 670.0,362.5 670.3,360.8 670.5,359.1 670.8,357.5 671.0,355.9 671.3,354.5 671.5,353.1 671.8,351.9 672.0,350.8 672.3,349.8 672.5,348.9 672.8,348.1 673.0,347.4 673.3,347.3 673.6,348.2 673.9,349.7 674.2,351.5 674.5,353.6 674.8,356.0 675.1,358.5 675.4,361.2 675.8,364.0 676.1,366.7 676.4,369.5 676.7,372.1 677.0,374.6 677.3,376.8 677.6,378.8 677.9,380.4 678.2,381.4 678.5,382.1 678.8,382.7 679.1,383.3 679.4,383.9 679.7,384.5 680.0,385.1 680.4,385.8 680.7,386.4 681.0,387.1 681.3,387.8 681.6,388.5 681.9,389.4 682.2,390.3 682.5,390.7 682.8,390.4 683.1,389.6 683.4,388.6 683.7,387.5 684.0,386.2 684.3,384.7 684.6,383.1 684.8,381.3 685.1,379.4 685.4,377.4 685.7,375.2 686.0,373.0 686.3,370.8 686.6,368.4 686.9,366.1 687.2,363.8 687.5,361.4 687.8,359.2 688.1,357.0 688.4,354.8 688.7,352.8 689.0,350.9 689.2,349.1 689.5,347.5 689.8,346.0 690.1,344.7 690.4,343.6 690.7,342.5 691.0,341.6 691.3,341.5 691.6,342.4 692.0,344.1 692.3,346.1 692.7,348.5 693.0,351.1 693.4,354.0 693.7,356.9 694.1,360.1 694.4,363.1 694.8,366.2 695.1,369.1 695.5,371.9 695.8,374.3 696.2,376.5 696.5,378.3 696.8,379.5 697.2,380.2 697.5,380.9 697.9,381.6 698.2,382.2 698.6,382.9 698.9,383.6 699.3,384.3 699.6,385.1 700.0,385.8 700.3,386.6 700.7,387.4 701.0,388.3 701.4,389.3 701.7,389.8 702.0,389.5 702.3,388.6 702.6,387.6 702.9,386.4 703.2,385.1 703.5,383.6 703.8,381.9 704.1,380.0 704.4,378.1 704.7,376.0 705.0,373.7 705.3,371.4 705.6,369.1 705.9,366.7 706.2,364.2 706.6,361.8 706.9,359.4 707.2,357.1 707.5,354.8 707.8,352.5 708.1,350.4 708.4,348.5 708.7,346.6 709.0,344.9 709.3,343.4 709.6,342.1 709.9,340.9 710.2,339.8 710.5,338.8 710.8,338.7 711.1,339.7 711.4,341.6 711.7,343.8 712.0,346.3 712.3,349.2 712.6,352.3 712.9,355.6 713.3,359.0 713.6,362.4 713.9,365.7 714.2,368.9 714.5,371.9 714.8,374.6 715.1,377.0 715.4,379.0 715.7,380.2 716.0,381.0 716.3,381.8 716.6,382.5 716.9,383.2 717.2,383.9 717.5,384.7 717.9,385.5 718.2,386.3 718.5,387.1 718.8,388.0 719.1,388.8 719.4,389.9 719.7,391.0 720.0,391.5 720.3,391.2 720.6,390.4 720.9,389.4 721.2,388.2 721.5,386.9 721.8,385.5 722.1,383.8 722.3,382.1 722.6,380.1 722.9,378.1 723.2,375.9 723.5,373.7 723.8,371.4 724.1,369.1 724.4,366.8 724.7,364.4 725.0,362.1 725.3,359.8 725.6,357.6 725.9,355.4 726.2,353.4 726.5,351.4 726.7,349.7 727.0,348.0 727.3,346.6 727.6,345.3 727.9,344.1 728.2,343.1 728.5,342.2 728.8,342.0 729.1,342.9 729.4,344.5 729.8,346.5 730.1,348.8 730.4,351.4 730.7,354.1 731.0,357.0 731.3,360.1 731.6,363.1 732.0,366.0 732.3,368.9 732.6,371.5 732.9,373.9 733.2,376.1 733.5,377.8 733.9,379.0 734.2,379.7 734.5,380.4 734.8,381.0 735.1,381.6 735.4,382.3 735.8,382.9 736.1,383.7 736.4,384.4 736.7,385.1 737.0,385.9 737.3,386.6 737.7,387.6 738.0,388.6 738.3,389.0 738.6,388.7 738.9,387.8 739.3,386.7 739.6,385.6 739.9,384.2 740.2,382.7 740.6,381.0 740.9,379.1 741.2,377.1 741.5,374.9 741.9,372.7 742.2,370.3 742.5,367.9 742.8,365.5 743.1,363.0 743.5,360.5 743.8,358.1 744.1,355.7 744.4,353.3 744.8,351.1 745.1,348.9 745.4,346.9 745.7,345.0 746.1,343.3 746.4,341.8 746.7,340.4 747.0,339.3 747.4,338.1 747.7,337.1 748.0,337.0 748.3,338.0 748.6,339.9 748.9,342.2 749.2,344.8 749.5,347.8 749.8,350.9 750.1,354.3 750.4,357.8 750.7,361.2 751.0,364.6 751.3,367.9 751.6,370.9 751.9,373.7 752.2,376.2 752.5,378.2 752.8,379.5 753.1,380.3 753.4,381.1 753.7,381.8 754.0,382.5 754.3,383.3 754.6,384.0 754.9,384.9 755.2,385.7 755.5,386.5 755.8,387.4 756.1,388.3 756.4,389.4 756.7,390.4 757.0,391.0 757.3,390.7 757.6,389.9 758.0,388.9 758.3,387.8 758.6,386.5 758.9,385.1 759.3,383.5 759.6,381.7 759.9,379.8 760.2,377.8 760.6,375.7 760.9,373.5 761.2,371.3 761.5,369.0 761.9,366.7 762.2,364.3 762.5,362.0 762.8,359.8 763.1,357.6 763.5,355.5 763.8,353.5 764.1,351.6 764.4,349.8 764.8,348.2 765.1,346.8 765.4,345.5 765.7,344.4 766.1,343.3 766.4,342.4 766.7,342.3 767.0,343.2 767.3,344.9 767.5,347.0 767.8,349.3 768.1,352.0 768.4,354.9 768.6,357.9 768.9,361.0 769.2,364.1 769.5,367.2 769.7,370.2 770.0,372.9 770.3,375.4 770.6,377.6 770.9,379.4 771.1,380.6 771.4,381.4 771.7,382.0 772.0,382.7 772.2,383.4 772.5,384.0 772.8,384.7 773.1,385.5 773.3,386.2 773.6,387.0 773.9,387.8 774.2,388.6 774.4,389.5 774.7,390.5 775.0,391.0 775.3,390.7 775.5,389.8 775.8,388.7 776.0,387.6 776.2,386.2 776.5,384.7 776.8,383.0 777.0,381.1 777.2,379.1 777.5,376.9 777.8,374.7 778.0,372.3 778.2,369.9 778.5,367.5 778.8,365.0 779.0,362.5 779.2,360.1 779.5,357.7 779.8,355.3 780.0,353.1 780.2,350.9 780.5,348.9 780.8,347.0 781.0,345.3 781.2,343.8 781.5,342.4 781.8,341.3 782.0,340.1 782.2,339.2 782.5,339.0 782.8,340.0 783.1,341.7 783.4,343.8 783.7,346.2 784.0,349.0 784.3,351.9 784.6,355.0 785.0,358.2 785.3,361.4 785.6,364.5 785.9,367.6 786.2,370.4 786.5,373.0 786.8,375.3 787.1,377.1 787.4,378.3 787.7,379.1 788.0,379.8 788.3,380.5 788.6,381.2 788.9,381.8 789.2,382.6 789.6,383.3 789.9,384.1 790.2,384.9 790.5,385.7 790.8,386.5 791.1,387.5 791.4,388.5 791.7,389.0 792.0,388.7 792.4,387.9 792.8,386.8 793.1,385.7 793.5,384.4 793.9,383.0 794.2,381.3 794.6,379.5 794.9,377.6 795.3,375.5 795.7,373.4 796.0,371.2 796.4,368.9 796.7,366.5 797.1,364.2 797.5,361.8 797.8,359.4 798.2,357.1 798.5,354.9 798.9,352.8 799.3,350.7 799.6,348.8 800.0,347.0 800.3,345.3 800.7,343.9 801.1,342.6 801.4,341.5 801.7,339.7 802.0,338.2 802.5,339.3 803.2,344.9 804.1,353.2 805.0,360.7 805.9,366.9 806.7,372.3 807.5,375.7 808.1,376.2 808.6,374.6 809.2,372.3 809.8,368.8 810.5,364.6 811.3,362.0 812.5,362.4 813.8,364.4 815.0,366.5 815.9,368.3 816.7,370.3 817.5,372.3 818.4,375.4 819.4,378.6 820.3,379.0 821.1,374.5 821.8,367.2 822.5,360.7 823.2,355.3 823.8,350.6 824.5,349.0 825.2,352.2 825.9,358.5 826.7,365.7 827.7,375.3 828.9,385.8 830.0,390.7 831.1,385.8 832.2,375.4 833.3,365.7 834.3,357.6 835.3,350.2 836.2,347.3 837.0,351.6 837.8,360.3 838.7,369.0 839.8,378.0 841.0,386.9 842.2,390.7 843.4,385.5 844.6,375.0 845.8,365.7 847.0,358.6 848.1,352.6 849.2,350.7 850.3,355.4 851.4,364.1 852.5,372.3 853.7,379.9 855.0,386.9 856.2,389.0 857.2,382.6 858.2,371.2 859.2,360.7 860.3,351.8 861.4,343.7 862.5,340.7 863.6,345.7 864.6,355.6 865.8,365.7 867.1,376.3 868.6,387.1 870.0,391.5 871.4,385.1 872.8,372.4 874.2,360.7 875.5,351.3 876.7,342.9 877.8,339.3 878.8,343.4 879.8,352.3 880.8,360.7 881.9,367.1 883.1,372.9 884.2,377.3 885.1,379.2 885.8,379.7 886.7,380.7 887.8,384.0 888.9,387.8 890.0,389.0 890.9,385.5 891.8,379.4 892.5,374.0 893.1,370.0 893.6,366.7 894.2,364.8 894.9,365.3 895.8,367.3 896.7,368.2 897.7,366.9 898.8,364.7 900.0,362.3 901.4,359.7 902.8,356.9 904.2,355.7 905.3,357.0 906.2,359.8 907.5,362.3 909.3,363.7 911.3,364.8 913.3,365.7 915.0,366.8 916.5,367.7 918.3,368.2 920.3,367.9 922.6,367.1 925.0,366.5 927.5,366.4 930.1,366.5 933.3,366.5 937.7,366.1 942.7,365.7 946.7,365.7 948.8,366.7 949.9,368.2 950.8,369.0 951.7,368.3 952.5,366.9 953.3,366.5 954.4,368.4 955.5,371.3 956.7,373.2 957.7,372.8 958.8,371.4 960.0,370.7 961.5,371.8 963.1,373.7 965.0,375.2 967.2,375.8 969.6,376.1 971.7,376.5 973.3,377.2 974.6,378.0 975.8,379.0 977.0,380.6 978.2,382.4 979.2,383.0 980.0,381.2 980.7,378.2 981.7,375.7 983.1,374.6 984.7,374.1 986.7,373.7 989.4,373.0 992.5,372.3 995.0,372.3 996.3,373.3 996.9,374.9 997.5,376.5 998.3,378.1 999.0,379.7 1000.0,380.3 1001.3,379.2 1002.9,377.1 1004.2,375.7 1005.2,375.8 1005.9,376.6 1006.7,376.5 1007.4,374.7 1008.1,372.2 1009.2,370.3 1011.0,370.1 1013.2,370.5 1015.0,370.3 1016.1,368.7 1016.8,366.4 1017.5,364.0 1018.3,361.3 1019.2,358.5 1020.0,357.0 1020.8,357.7 1021.6,359.6 1022.5,361.5 1023.4,363.4 1024.3,365.3 1025.3,365.7 1026.3,363.1 1027.3,359.0 1028.3,357.0 1029.4,359.1 1030.6,363.2 1031.7,366.5 1032.7,368.2 1033.8,369.0 1035.0,368.7 1036.7,366.3 1038.7,362.8 1040.3,360.7 1041.3,361.5 1041.9,363.8 1042.5,365.7 1043.2,366.8 1044.0,367.6 1045.0,367.7 1046.5,366.7 1048.2,365.0 1050.0,363.7 1052.0,363.3 1054.1,363.3 1055.8,363.7 1056.8,364.7 1057.4,366.1 1058.3,367.0 1059.8,367.0 1061.5,366.4 1063.3,365.7 1065.0,364.6 1066.8,363.3 1068.3,362.7 1069.5,363.2 1070.5,364.4 1071.7,365.3 1073.0,365.6 1074.6,365.7 1076.7,365.7 1080.2,365.6 1084.3,365.4 1087.3,365.3" fill="none" stroke="#0000FF" stroke-width="1.4" stroke-linejoin="round"/>
</g>
<path d="M81.5 402.1 v3 M196.9 402.1 v3 M312.4 402.1 v3 M427.8 402.1 v3 M543.2 402.1 v3 M658.7 402.1 v3 M774.1 402.1 v3 M889.5 402.1 v3 M1004.9 402.1 v3 M81.5 230.4 h-3 M81.5 255.4 h-3 M81.5 280.3 h-3 M81.5 305.3 h-3 M81.5 330.2 h-3 M81.5 355.2 h-3 M81.5 380.2 h-3" stroke="#666" stroke-width="1.1" fill="none"/>
<rect x="81.5" y="213.8" width="1005.8" height="188.3" fill="none" stroke="#666" stroke-width="1.35"/>
<text x="76" y="238.5" text-anchor="end">40</text>
<text x="76" y="268.4" text-anchor="end">20</text>
<text x="76" y="298.2" text-anchor="end">0</text>
<text x="76" y="328.1" text-anchor="end">−20</text>
<text x="76" y="358.0" text-anchor="end">−60</text>
<text x="76" y="387.9" text-anchor="end">−80</text>
<text transform="translate(32,308.0) rotate(-90)" text-anchor="middle" style="letter-spacing:0.68px">Pitch (deg)</text>
<rect x="908.3" y="217.6" width="173.1" height="90.3" rx="4" fill="#fff" fill-opacity="1" stroke="#d0d0d0" stroke-width="1.1"/>
<path d="M916.9 230.8 H957.8" stroke="#000000" stroke-width="2"/>
<text x="968.8" y="235.5">ground truth</text>
<path d="M916.9 252.7 H957.8" stroke="#FFA500" stroke-width="2"/>
<text x="968.8" y="257.4">ECF</text>
<path d="M916.9 274.6 H957.8" stroke="#FF0000" stroke-width="2"/>
<text x="968.8" y="279.3">Raw IMU</text>
<path d="M916.9 296.5 H957.8" stroke="#0000FF" stroke-width="2"/>
<text x="968.8" y="301.2">Proposed</text>
<clipPath id="c2"><rect x="81.5" y="412.5" width="1005.8" height="187.9"/></clipPath>
<path d="M81.5 412.5 V600.4 M196.9 412.5 V600.4 M312.4 412.5 V600.4 M427.8 412.5 V600.4 M543.2 412.5 V600.4 M658.7 412.5 V600.4 M774.1 412.5 V600.4 M889.5 412.5 V600.4 M1004.9 412.5 V600.4 M81.5 435.9 H1087.3 M81.5 459.4 H1087.3 M81.5 482.9 H1087.3 M81.5 506.4 H1087.3 M81.5 529.9 H1087.3 M81.5 553.4 H1087.3 M81.5 576.9 H1087.3" stroke="#c6c6c6" stroke-width="1.0" fill="none"/>
<g clip-path="url(#c2)">
<polyline points="81.7,508.2 95.9,508.2 115.5,508.3 130.0,508.5 133.0,509.0 133.0,509.7 133.0,510.2 133.9,510.4 134.8,510.3 135.8,509.8 136.9,508.3 138.0,506.3 139.2,505.3 140.5,506.0 141.8,507.6 143.3,509.0 144.9,509.6 146.6,509.9 148.3,510.2 150.1,510.3 151.8,510.4 153.3,510.7 154.3,511.2 155.0,511.9 155.8,513.2 156.9,515.5 158.0,518.3 159.2,520.7 160.3,522.2 161.4,523.2 162.5,524.0 163.7,525.0 164.8,525.8 165.8,525.7 166.5,524.0 167.0,521.4 167.5,519.0 168.0,517.1 168.6,515.6 169.2,514.8 169.9,515.5 170.7,517.0 171.7,517.8 173.2,517.0 175.0,515.6 176.7,514.8 178.2,515.2 179.5,516.3 180.8,517.3 182.0,518.2 183.0,519.0 184.2,519.3 185.6,518.5 187.0,517.2 188.3,516.2 189.2,516.2 189.9,516.6 190.8,516.2 192.1,514.1 193.7,511.3 195.0,509.3 196.0,508.6 196.7,508.7 197.5,509.8 198.3,512.6 199.1,516.3 200.0,518.8 201.1,518.6 202.2,517.2 203.3,516.2 204.2,516.3 205.1,516.8 205.8,517.5 206.3,518.4 206.7,519.6 207.5,520.3 209.0,520.5 210.8,520.2 212.5,519.7 213.7,518.5 214.8,517.0 215.8,516.2 217.0,517.0 218.1,518.5 219.2,519.5 220.1,519.3 220.9,518.6 221.7,517.5 222.5,515.9 223.3,513.9 224.2,512.2 225.2,511.3 226.3,510.7 227.5,509.8 228.9,508.3 230.4,506.4 231.7,504.3 232.6,502.2 233.4,499.8 234.2,496.7 235.3,492.0 236.4,486.5 237.5,482.5 238.4,481.3 239.2,481.6 240.0,481.3 240.8,479.7 241.6,477.5 242.5,475.0 243.6,471.8 244.7,468.2 245.8,465.8 246.7,465.6 247.5,466.6 248.3,466.7 249.1,465.3 249.9,463.1 250.8,460.0 251.9,455.5 253.1,450.2 254.2,445.8 255.1,442.9 255.9,440.8 256.7,439.2 257.5,438.5 258.3,438.3 259.2,436.7 260.3,432.0 261.6,425.8 262.5,421.3 262.9,420.5 263.0,420.5 263.0,420.8 263.0,590.7 263.0,591.0 263.0,591.0 263.0,590.7 263.6,588.0 264.6,584.1 265.8,580.7 267.3,578.7 269.1,577.2 270.8,574.8 272.2,570.8 273.6,565.9 275.0,560.7 276.6,555.3 278.2,549.5 280.0,544.0 281.9,538.6 284.0,533.4 285.8,529.0 287.4,525.9 288.7,523.5 290.0,520.7 291.1,516.9 292.1,512.6 293.0,509.0 293.7,506.7 294.5,504.9 295.8,502.5 298.3,498.7 301.5,494.3 304.2,490.0 305.9,485.7 307.1,481.4 308.3,478.3 309.5,477.1 310.6,477.0 311.7,476.7 312.7,475.9 313.8,474.9 315.0,473.0 316.6,469.8 318.3,465.7 320.0,460.8 321.6,454.1 323.1,446.6 324.2,441.0 324.8,438.6 325.0,438.1 325.3,438.5 325.7,439.8 326.2,441.9 326.7,443.5 327.3,443.8 327.9,443.6 328.7,444.3 329.6,446.9 330.7,450.4 331.7,453.5 332.6,455.5 333.4,457.2 334.2,459.2 335.0,462.2 335.9,465.5 336.7,468.3 337.4,470.3 338.1,471.7 338.8,472.0 339.7,470.7 340.7,468.3 341.7,466.0 342.6,464.1 343.6,462.3 344.7,461.3 346.1,461.2 347.7,461.9 349.2,463.5 350.6,466.2 352.0,469.7 353.3,473.3 354.6,477.5 356.0,481.8 357.2,484.2 358.3,482.7 359.4,479.3 360.5,477.5 361.9,479.8 363.3,483.7 364.7,485.8 365.8,483.6 366.9,479.7 368.0,478.0 369.4,481.3 370.8,486.9 372.2,490.3 373.5,489.4 374.6,486.3 375.8,483.3 377.0,480.6 378.1,477.8 379.2,476.3 380.3,476.9 381.5,478.7 382.5,480.0 383.2,480.0 383.8,479.5 385.0,479.7 387.3,481.4 390.1,483.8 392.5,485.3 393.8,485.4 394.7,484.6 395.8,483.3 397.4,481.1 399.1,478.4 400.8,476.7 402.3,476.9 403.8,478.2 405.0,479.2 406.0,479.7 406.8,480.0 407.5,480.0 408.1,479.5 408.6,478.7 409.2,478.3 409.8,478.7 410.4,479.5 411.3,479.7 412.7,478.7 414.4,477.2 415.8,476.3 416.7,476.4 417.4,477.1 418.3,478.3 419.6,480.5 421.2,483.2 422.5,485.0 423.4,485.1 424.1,484.4 425.0,483.3 426.2,481.8 427.5,480.0 428.7,479.2 429.7,479.9 430.7,481.5 431.7,483.3 432.7,485.0 433.8,486.9 435.0,489.2 436.3,492.1 437.8,495.3 439.2,498.3 440.6,500.8 441.9,503.1 443.3,505.7 444.7,509.2 446.0,513.1 447.5,516.0 449.1,517.6 450.9,518.2 452.5,518.0 454.0,516.0 455.4,513.2 456.7,512.5 457.8,516.0 458.8,521.6 459.7,526.0 460.6,527.2 461.5,527.2 462.5,529.0 463.6,534.5 464.7,541.8 465.8,548.0 466.8,552.2 467.7,555.3 468.7,557.0 469.9,556.9 471.2,555.3 472.5,553.0 473.7,550.2 474.8,546.8 475.8,543.0 476.7,537.9 477.5,532.4 478.3,530.0 479.1,532.8 479.9,538.7 480.8,545.0 481.9,552.0 483.0,559.4 484.2,564.0 485.2,563.9 486.3,561.0 487.5,558.0 489.1,555.7 490.8,553.3 492.5,551.5 493.9,550.9 495.2,550.9 496.7,550.5 498.9,549.5 501.3,548.1 503.3,546.5 504.7,544.3 505.7,541.8 506.3,540.0 507.0,494.0 507.5,458.3 508.5,494.0 509.7,550.7 509.7,558.5 509.7,568.8 509.7,574.0 509.7,568.8 509.9,558.5 510.5,551.0 511.9,550.0 513.8,551.7 515.8,553.0 517.9,552.4 520.0,551.2 521.7,550.5 522.7,550.8 523.2,551.5 523.5,552.0 524.2,581.5 524.3,423.3 524.6,434.7 525.1,450.4 525.8,461.7 526.9,464.3 528.2,462.6 529.2,461.0 529.6,424.2 529.8,589.0 529.9,578.7 530.2,564.6 530.8,554.0 531.9,550.7 533.4,551.0 535.0,551.5 536.7,551.1 538.5,550.8 540.0,550.5 541.2,549.7 542.1,548.9 543.0,549.0 543.8,550.7 544.4,553.4 545.0,556.0 545.6,558.9 546.2,561.7 546.7,563.0 547.1,561.7 547.5,558.9 548.3,556.0 549.7,553.4 551.4,550.7 553.3,548.0 555.3,545.5 557.3,543.1 559.2,540.5 560.7,537.3 562.1,534.0 563.3,531.5 564.4,530.4 565.4,530.2 566.7,530.0 568.8,529.8 571.3,529.5 573.3,528.5 574.3,526.8 574.9,524.4 575.3,520.0 575.7,511.7 576.1,501.4 576.3,494.0 577.0,448.3 578.0,494.0 578.2,503.0 578.5,515.4 579.2,525.0 580.4,529.0 581.9,530.3 583.3,531.0 584.5,531.8 585.5,532.1 586.7,532.0 588.1,531.2 589.6,530.0 590.8,530.0 591.5,532.2 591.8,535.6 592.0,538.0 593.0,590.7 593.0,420.8 594.0,424.4 595.5,429.2 596.7,431.7 597.4,429.8 597.8,425.8 598.0,422.5 598.0,421.3 598.0,421.0 598.0,420.8 598.0,590.7 598.3,533.0 599.3,533.1 600.8,533.3 602.5,533.0 604.3,531.9 606.4,530.4 608.3,529.0 610.1,527.7 611.9,526.4 613.3,526.0 614.2,527.0 614.7,528.7 615.0,530.0 615.8,577.3 616.1,563.9 616.5,545.5 617.0,532.0 617.7,528.4 618.5,529.8 619.2,531.0 619.4,530.7 619.5,530.2 620.0,529.0 621.4,526.8 623.3,523.9 625.0,520.0 626.3,515.0 627.4,509.1 628.3,503.0 629.0,496.6 629.5,490.0 630.0,484.0 630.5,477.7 630.9,472.1 631.3,470.8 631.7,477.0 632.1,487.5 632.5,496.7 633.0,502.7 633.6,507.4 634.2,511.0 634.9,513.5 635.7,514.9 636.7,515.2 637.9,514.2 639.4,512.2 640.8,510.2 642.3,508.4 643.8,506.6 645.0,505.5 645.8,505.5 646.4,506.2 646.7,506.7 647.5,589.8 648.5,512.0 649.0,512.8 649.8,513.9 650.8,514.3 652.0,513.5 653.5,512.1 655.0,511.0 656.6,510.6 658.4,510.5 660.0,510.2 661.6,509.4 663.1,508.4 664.2,508.0 664.7,508.7 664.7,510.0 665.0,510.5 665.6,509.6 666.5,508.0 667.5,506.3 668.8,504.7 670.2,503.0 671.7,500.8 673.1,497.5 674.6,493.6 675.8,490.7 676.8,489.7 677.5,489.7 678.3,489.0 679.2,487.4 680.0,485.2 680.8,481.7 681.4,474.5 682.0,466.0 682.5,463.3 683.0,472.0 683.5,486.4 684.2,496.7 685.4,498.0 686.8,495.1 688.3,492.3 689.9,490.8 691.7,489.4 693.3,488.7 694.8,488.9 696.3,489.9 697.5,491.5 698.4,493.2 699.1,495.6 699.7,500.0 700.2,507.8 700.5,517.6 700.8,527.3 701.1,537.0 701.5,546.6 701.7,553.3 702.5,510.7 702.6,502.4 702.8,490.9 703.3,482.3 704.2,479.7 705.4,480.0 706.7,479.8 708.3,478.0 710.2,475.7 711.7,473.2 712.8,470.2 713.5,467.0 714.2,464.0 714.8,461.1 715.3,458.4 715.8,457.3 716.4,460.2 716.9,464.5 717.5,464.0 718.1,453.7 718.7,438.4 719.2,426.7 719.5,422.2 719.8,421.2 719.9,420.8 720.4,590.7 721.2,470.7 721.6,470.9 722.3,471.3 723.3,472.0 724.8,473.3 726.7,474.9 728.3,475.7 729.3,475.3 730.1,474.2 730.8,472.3 731.6,469.8 732.5,466.5 733.3,462.3 734.2,456.8 735.1,450.2 735.8,443.3 736.2,435.2 736.5,426.8 736.7,420.8 736.9,420.5 737.1,420.5 737.2,420.8 737.2,590.7 739.6,590.7 739.6,420.8 739.7,426.6 739.9,434.8 740.3,442.0 740.8,447.0 741.6,451.0 742.5,454.0 743.7,455.7 745.2,456.4 746.7,456.5 748.4,456.1 750.2,455.1 751.7,454.0 752.8,453.7 753.6,453.3 754.2,450.0 754.7,441.1 755.0,429.3 755.3,420.8 755.5,420.5 755.7,420.5 755.8,420.8 756.2,584.0 757.0,500.0 757.3,490.3 757.6,476.9 758.0,466.3 758.3,462.0 758.6,460.4 759.2,458.0 760.1,452.7 761.3,446.5 762.5,441.3 763.8,438.0 765.3,435.8 766.7,434.2 768.1,433.1 769.6,432.7 770.8,432.5 771.8,433.0 772.7,433.8 773.3,433.3 773.3,430.2 773.3,425.7 773.3,422.5 773.6,421.7 773.9,422.1 774.2,422.5 774.4,590.7 775.2,590.7 776.3,420.8 776.6,423.3 777.2,426.9 778.3,430.0 780.3,432.3 782.9,434.2 785.0,435.0 786.2,434.5 786.9,432.9 787.5,430.7 788.2,427.4 788.8,423.6 789.2,420.8 789.5,420.5 789.6,420.5 789.7,420.8 789.7,590.7 790.0,514.0 790.7,503.9 791.6,489.6 792.5,476.7 793.1,467.1 793.6,459.0 794.2,451.7 794.9,445.4 795.8,440.0 796.7,435.0 797.9,429.9 799.1,425.1 800.0,421.7 800.3,420.5 800.3,420.6 800.3,420.8 800.3,590.7 801.4,588.2 803.0,584.8 804.0,582.3 803.9,581.7 803.4,581.9 803.3,581.7 804.1,580.3 805.4,578.4 806.7,576.7 808.0,575.2 809.4,573.9 810.8,573.3 812.2,573.7 813.6,575.0 815.0,576.7 816.4,579.8 817.9,583.3 819.2,585.0 820.3,582.9 821.3,578.9 822.5,575.8 824.2,574.9 826.0,574.9 827.5,574.7 828.3,573.6 828.8,572.4 829.2,572.0 829.5,573.5 829.8,575.9 830.0,577.3 830.1,576.4 830.3,574.5 830.8,573.3 831.9,573.8 833.4,575.1 835.0,575.8 836.7,575.4 838.6,574.5 840.0,573.3 840.7,571.6 841.0,569.6 841.3,568.3 841.6,567.8 841.9,568.1 842.2,570.0 842.4,575.1 842.6,581.9 843.0,586.5 843.5,587.1 844.1,585.6 845.0,583.3 846.2,580.1 847.7,576.2 849.2,573.3 850.6,572.4 852.0,572.7 853.3,573.2 854.5,574.1 855.7,575.2 856.7,575.7 857.5,574.9 858.2,573.4 859.0,572.0 859.8,571.1 860.7,570.4 861.7,569.0 863.1,566.3 864.6,563.0 865.8,560.7 866.3,560.0 866.4,560.1 866.7,560.7 867.5,560.8 868.4,561.2 869.2,564.0 869.6,571.7 869.8,581.7 869.9,589.0 870.0,420.8 870.4,420.8 871.9,590.7 872.0,586.7 872.3,581.3 872.5,577.3 872.6,576.5 872.8,577.1 873.3,577.0 874.5,575.6 876.0,573.4 877.5,570.0 878.7,564.4 879.8,557.6 880.8,551.7 881.7,547.1 882.4,543.5 883.3,541.7 884.4,543.1 885.7,546.3 886.7,548.2 887.4,547.3 887.8,545.1 888.3,543.0 888.9,541.1 889.5,539.3 890.0,539.0 890.4,541.2 890.8,545.0 891.3,548.3 891.9,550.6 892.5,552.4 893.3,554.2 894.3,556.2 895.5,558.0 896.7,559.2 897.8,559.2 898.9,558.4 900.0,558.0 901.0,558.6 902.1,559.5 903.3,559.7 904.8,558.5 906.4,556.6 908.3,555.0 910.5,554.3 912.8,554.0 915.0,553.3 916.7,551.8 918.3,549.9 920.0,548.7 922.2,548.8 924.5,549.6 926.7,549.7 928.6,548.5 930.2,546.7 931.7,545.3 932.9,545.1 933.9,545.2 935.0,544.7 936.4,542.9 937.8,540.3 939.2,537.5 940.4,534.7 941.5,531.6 942.5,528.3 943.4,524.4 944.3,520.2 945.0,516.7 945.6,514.5 946.0,513.0 946.7,511.7 947.7,510.9 948.9,510.3 950.0,509.0 950.9,506.9 951.9,504.0 953.0,500.0 954.4,494.3 956.1,487.4 958.0,480.0 960.2,471.9 962.6,463.1 965.0,455.0 967.4,447.6 969.7,440.8 972.0,435.0 974.2,430.4 976.3,426.8 978.0,424.0 979.3,422.2 980.2,421.3 980.8,420.8 981.0,590.7 981.4,589.2 982.1,586.9 983.3,583.0 985.2,576.6 987.6,568.7 990.0,561.5 992.1,555.9 994.3,550.9 996.5,546.0 999.0,541.0 1001.7,536.0 1004.0,531.2 1005.6,526.6 1006.9,522.1 1008.2,518.0 1009.9,514.1 1011.7,510.5 1013.2,507.8 1014.1,506.2 1014.7,505.6 1015.3,505.5 1016.0,506.1 1016.6,507.2 1017.3,508.6 1018.1,510.2 1018.9,512.0 1019.8,513.6 1020.7,515.0 1021.7,516.1 1022.8,516.4 1024.0,515.1 1025.2,512.8 1026.4,511.1 1027.6,510.1 1028.7,509.6 1029.8,510.3 1030.9,513.3 1032.1,517.5 1033.1,520.2 1033.9,519.8 1034.7,517.9 1035.6,516.1 1036.8,515.1 1038.3,514.3 1039.7,513.6 1041.1,512.7 1042.6,511.9 1043.9,511.9 1045.1,513.5 1046.1,515.9 1047.2,517.4 1048.2,517.1 1049.3,515.8 1050.5,514.8 1052.1,514.5 1053.8,514.4 1055.5,514.1 1056.9,513.4 1058.3,512.6 1059.7,511.9 1061.2,511.4 1062.9,511.0 1064.6,510.6 1066.6,510.2 1068.7,509.9 1070.5,509.8 1071.1,510.1 1071.4,510.7 1073.0,511.1 1077.4,511.3 1083.2,511.4 1087.3,511.4" fill="none" stroke="#000000" stroke-width="1.25" stroke-linejoin="round"/>
<polyline points="81.7,508.2 83.7,508.5 86.7,509.0 90.0,509.8 93.1,510.9 96.6,512.2 101.7,513.7 110.3,515.4 120.5,517.2 128.3,519.0 131.4,520.8 132.0,522.5 132.5,523.5 133.7,523.6 134.7,523.1 135.8,522.3 136.9,520.9 137.9,519.2 139.2,518.5 140.8,519.8 142.5,522.1 144.2,524.0 145.6,524.9 146.8,525.3 148.3,525.7 150.2,526.0 152.3,526.3 154.2,527.3 155.7,529.5 157.1,532.4 158.3,534.8 159.5,536.2 160.5,537.0 161.7,537.7 163.0,538.6 164.5,539.3 165.8,539.0 167.0,536.6 168.1,533.1 169.2,531.0 170.2,531.6 171.2,533.4 172.5,534.8 174.2,534.7 176.3,534.1 178.3,534.0 180.3,535.0 182.4,536.5 184.2,537.3 185.8,536.6 187.1,535.1 188.3,534.0 189.2,533.9 189.9,534.2 190.8,534.0 192.1,532.9 193.7,531.3 195.0,530.3 196.0,530.0 196.7,530.3 197.5,531.5 198.2,534.1 199.0,537.8 200.0,541.5 201.6,545.8 203.5,550.2 205.3,552.7 206.7,551.8 207.9,548.9 209.2,546.5 210.6,545.5 212.0,545.1 213.3,544.5 214.5,543.5 215.7,542.4 216.7,541.8 217.5,542.3 218.2,543.2 219.2,543.2 220.7,541.4 222.4,538.7 224.2,536.5 225.9,535.2 227.7,534.3 229.2,533.7 230.3,534.1 231.3,534.8 232.5,534.0 234.4,529.9 236.5,524.3 238.3,520.7 239.5,520.8 240.5,522.8 241.3,525.7 242.1,530.7 242.7,536.4 243.3,537.7 243.8,531.0 244.3,519.9 244.6,510.0 244.8,503.2 244.8,497.7 245.0,493.3 245.3,490.0 245.7,487.8 246.2,487.0 246.7,488.7 247.4,491.8 248.0,493.0 248.6,491.1 249.2,487.4 250.0,481.7 251.0,473.0 252.2,462.5 253.3,453.3 254.2,446.6 255.0,441.3 255.8,437.5 256.6,436.3 257.4,436.8 258.3,435.8 259.5,431.5 260.7,425.9 261.7,421.7 262.2,420.5 262.5,420.5 262.6,420.8 262.6,590.7 264.2,586.6 266.4,580.9 268.3,576.5 269.5,575.1 270.5,575.0 271.7,574.0 273.2,571.3 275.0,567.8 276.7,564.0 278.4,559.9 280.1,555.4 281.7,551.5 283.2,548.3 284.5,545.5 285.8,543.2 287.0,541.8 288.0,540.9 289.2,539.0 290.5,535.2 291.9,530.5 293.3,526.5 294.7,524.0 296.1,522.3 297.5,520.7 298.9,519.0 300.4,517.5 301.7,515.7 302.9,513.7 303.9,511.4 305.0,509.0 306.1,506.0 307.2,502.9 308.3,500.7 309.4,500.3 310.5,500.8 311.7,500.7 313.1,499.5 314.5,497.7 315.8,495.7 316.7,493.5 317.5,491.0 318.3,488.3 319.4,485.3 320.6,482.1 321.7,478.3 322.7,473.2 323.5,467.5 324.2,463.3 324.7,461.5 325.0,461.2 325.3,462.0 325.7,464.0 326.1,467.0 326.7,470.0 327.4,472.7 328.2,475.5 329.2,478.3 330.5,481.1 331.9,483.9 333.3,486.7 334.5,489.7 335.6,492.7 336.7,495.0 337.7,496.5 338.7,497.4 339.7,497.5 340.9,496.5 342.1,494.7 343.3,493.3 344.4,492.6 345.5,492.4 346.7,492.8 348.0,494.1 349.4,496.0 350.8,498.3 352.2,501.0 353.7,504.0 355.0,506.7 356.2,509.0 357.2,511.0 358.3,512.5 359.4,513.0 360.6,513.0 361.7,513.3 362.8,514.4 363.9,515.8 365.0,516.5 366.0,515.7 366.9,514.3 368.0,513.7 369.3,515.2 370.6,517.5 372.0,518.7 373.3,517.6 374.6,515.3 375.8,513.2 377.0,511.3 378.1,509.4 379.2,508.7 380.3,509.9 381.3,512.3 382.5,514.0 383.7,514.1 385.1,513.7 386.7,514.0 388.8,516.3 391.2,519.4 393.3,521.2 394.9,520.6 396.3,518.8 397.5,517.0 398.6,515.6 399.7,514.3 400.8,513.7 402.2,514.2 403.6,515.4 405.0,516.5 406.2,517.3 407.3,518.1 408.3,518.7 409.1,519.1 409.7,519.4 410.8,519.3 412.6,518.4 414.7,517.1 416.7,516.5 418.2,517.3 419.6,518.9 420.8,520.3 421.9,521.6 423.0,522.8 424.2,523.2 425.8,522.1 427.5,520.2 429.2,519.3 430.6,520.4 431.9,522.5 433.3,524.8 434.8,526.9 436.5,529.1 438.3,531.5 440.5,534.2 442.8,537.1 445.0,539.8 446.7,542.5 448.3,545.0 450.0,546.5 452.2,545.8 454.5,544.0 456.7,544.0 458.5,547.1 460.1,552.0 461.7,557.3 463.4,563.0 465.2,569.1 466.7,574.0 467.9,577.0 468.9,578.9 470.0,579.8 471.4,580.1 472.8,579.6 474.2,577.3 475.4,571.4 476.5,563.8 477.5,559.8 478.4,562.1 479.2,567.9 480.0,574.0 480.9,580.0 481.8,586.3 482.5,590.7 482.8,591.0 482.9,591.0 483.0,590.7 483.0,420.8 483.4,422.5 484.0,424.7 484.7,425.8 485.5,424.7 486.4,422.5 487.0,420.8 487.0,590.7 488.7,588.9 491.1,586.4 493.3,584.8 495.1,584.7 496.7,585.5 498.3,586.5 499.9,587.9 501.4,589.5 502.5,590.7 502.5,420.8 503.8,437.8 505.6,460.4 507.5,471.7 509.4,460.4 511.2,437.8 512.5,420.8 512.5,590.7 514.1,590.1 516.4,589.4 518.3,589.0 519.3,589.4 519.9,590.1 520.3,590.7 520.3,420.8 522.0,439.7 524.5,465.1 526.7,478.3 528.1,467.4 529.3,444.4 530.8,426.7 533.2,421.6 536.0,421.9 538.3,423.0 539.5,423.0 540.2,423.9 540.8,426.7 541.6,433.0 542.5,441.4 543.3,448.3 544.1,453.2 544.8,456.6 545.8,457.5 547.1,454.3 548.5,448.5 550.0,443.3 551.5,440.1 552.9,437.5 554.2,435.0 555.1,432.1 555.9,429.3 556.7,426.7 557.8,424.3 558.9,422.2 559.7,420.8 560.1,420.5 560.2,420.6 560.3,420.8 560.3,590.7 560.9,590.1 561.8,589.4 562.5,589.0 562.9,589.4 563.1,590.1 563.3,590.7 563.3,420.8 565.3,420.8 565.3,590.7 566.4,587.1 567.9,582.2 569.2,579.8 570.2,582.2 571.1,587.1 571.7,590.7 571.7,420.8 572.7,436.6 574.2,457.7 575.8,468.3 577.7,457.7 579.8,436.6 581.3,420.8 581.3,590.7 582.3,586.5 583.7,581.0 585.0,578.2 586.3,581.0 587.5,586.5 588.3,590.7 588.3,420.8 590.3,436.4 593.2,457.1 595.8,467.5 598.0,457.1 599.9,436.4 601.3,420.8 601.3,590.7 602.2,588.2 603.6,584.9 605.0,583.2 606.5,584.9 608.1,588.2 609.2,590.7 609.2,420.8 611.0,435.3 613.5,454.6 615.8,464.2 617.6,454.6 619.2,435.3 620.3,420.8 620.3,590.7 620.9,587.4 621.7,582.8 622.5,579.0 623.1,576.0 623.6,573.8 624.2,574.0 624.9,578.6 625.7,585.6 626.3,590.7 626.3,420.8 626.6,432.1 626.9,447.7 627.5,460.0 628.3,466.3 629.3,469.2 630.3,469.2 631.2,465.8 632.2,459.5 633.0,451.7 633.7,441.2 634.3,429.3 634.7,420.8 634.7,590.7 635.2,584.0 635.9,574.7 636.7,567.3 637.7,563.4 638.8,561.4 639.7,561.5 640.4,564.2 640.9,568.8 641.3,574.0 641.5,579.9 641.6,586.2 641.7,590.7 641.7,420.8 642.0,429.7 642.4,442.0 643.0,451.7 643.8,456.5 644.7,458.7 645.8,459.2 647.2,458.7 648.7,456.5 650.0,451.7 650.9,442.0 651.6,429.7 652.0,420.8 652.0,590.7 652.6,584.0 653.4,574.8 654.2,567.3 655.0,562.8 655.9,560.1 656.7,559.8 657.6,562.8 658.5,568.3 659.2,574.0 659.6,580.0 659.9,586.3 660.0,590.7 660.0,420.8 660.4,428.3 661.0,438.6 661.7,446.7 662.7,450.7 663.9,452.4 665.0,452.5 665.9,451.0 666.8,447.9 667.5,443.3 668.0,436.0 668.4,427.1 668.7,420.8 668.7,590.7 669.0,583.3 669.4,573.0 670.0,564.0 671.0,558.4 672.2,554.1 673.3,549.0 674.2,542.7 675.1,535.6 675.8,527.3 676.3,515.8 676.7,503.1 677.0,494.0 677.5,460.0 677.9,458.3 678.5,456.0 679.2,454.2 680.0,454.3 680.8,454.8 681.7,453.0 682.7,446.4 683.7,437.5 684.5,430.0 685.0,425.6 685.4,422.7 685.6,420.8 685.8,590.7 686.7,552.3 687.3,549.6 688.2,545.7 689.2,542.3 690.3,539.8 691.5,537.8 692.5,536.5 693.2,536.3 693.8,536.8 694.2,537.3 694.9,590.7 695.0,420.8 695.1,426.4 695.3,434.2 695.8,440.0 696.7,442.0 698.0,442.0 699.2,441.7 700.4,440.8 701.5,439.7 702.5,440.8 703.2,446.4 703.8,454.3 704.2,460.0 704.7,494.0 705.0,522.3 705.6,523.3 706.5,524.5 707.5,524.8 708.6,523.9 709.7,522.0 710.8,519.0 711.7,513.9 712.6,507.6 713.3,502.3 714.0,499.2 714.5,497.1 715.0,494.0 715.3,488.9 715.5,482.8 715.8,476.7 716.2,471.5 716.8,466.3 717.5,460.0 718.6,451.3 719.8,441.5 720.8,433.3 721.3,427.6 721.6,423.5 721.8,420.8 722.1,420.5 722.3,420.5 722.5,420.8 722.7,535.7 723.1,533.8 723.6,531.2 724.2,529.0 724.9,527.6 725.8,526.6 726.7,525.7 727.8,525.0 729.0,524.5 730.0,524.0 730.8,523.8 731.4,523.6 732.0,522.3 732.5,518.7 733.0,514.1 733.3,510.7 734.2,445.0 734.4,437.8 734.7,428.0 735.5,420.8 737.2,420.5 739.4,420.5 741.0,420.8 741.3,427.5 741.3,436.6 741.3,443.3 742.0,476.7 742.2,483.4 742.6,492.7 743.0,500.0 743.5,503.2 744.1,504.3 745.0,505.0 746.3,505.5 747.8,505.4 749.2,505.8 750.2,507.1 751.1,508.7 751.7,510.0 752.1,510.5 752.4,510.6 752.5,510.7 753.3,544.0 753.5,553.7 753.8,567.1 754.2,577.3 754.7,582.4 755.2,584.3 755.8,582.3 756.3,575.3 756.9,564.5 757.5,552.3 758.3,538.4 759.2,523.2 760.0,510.7 760.7,502.6 761.2,497.2 761.7,494.0 762.0,493.9 762.2,496.0 762.5,496.7 762.9,494.1 763.5,490.0 764.2,486.7 765.2,484.9 766.4,483.9 767.5,483.3 768.5,483.0 769.3,483.1 770.0,484.2 770.4,487.2 770.7,491.1 770.8,494.0 771.3,560.7 771.8,561.7 772.6,563.1 773.3,564.0 774.0,563.7 774.6,562.9 775.0,562.3 775.8,494.0 776.0,494.1 776.3,494.1 776.7,493.3 777.1,491.1 777.7,488.1 778.3,485.8 779.0,484.8 779.9,484.6 780.8,485.0 781.9,486.1 783.1,487.9 784.2,490.0 785.1,492.4 786.0,495.2 786.7,498.3 787.3,502.4 787.8,506.8 788.3,510.0 788.9,509.6 789.4,508.0 790.0,510.7 790.6,522.7 791.1,539.1 791.7,550.7 792.2,553.4 792.7,551.3 793.3,547.3 794.1,542.4 795.0,535.6 795.8,527.3 796.5,516.0 797.0,503.2 797.5,494.0 797.8,492.2 797.9,494.0 798.3,493.3 799.0,486.5 799.9,477.2 800.8,470.0 801.8,465.5 802.9,463.2 804.0,465.8 805.2,479.1 806.3,497.3 807.5,505.8 808.6,494.3 809.8,473.0 810.8,458.3 811.7,457.7 812.5,463.7 813.3,469.2 814.1,471.3 814.9,473.1 815.8,476.7 817.0,485.8 818.3,496.7 819.7,500.8 821.2,490.7 822.8,473.7 824.2,463.3 825.2,465.7 825.9,474.7 826.7,485.0 827.6,498.6 828.7,513.5 830.0,519.0 831.7,504.5 833.8,480.4 835.8,467.5 837.7,479.7 839.6,503.0 841.7,515.7 844.1,504.0 846.7,481.9 849.2,469.2 851.4,479.1 853.5,498.4 855.8,508.2 858.5,495.3 861.5,472.7 864.2,460.8 866.5,473.1 868.6,496.0 870.8,509.0 873.4,499.9 876.1,480.9 878.3,467.5 879.8,466.1 880.8,470.3 881.7,476.7 882.6,486.2 883.4,497.8 884.2,505.8 885.0,506.6 885.8,503.7 886.7,501.7 887.8,503.4 888.9,506.1 890.0,506.3 890.9,501.7 891.7,494.7 892.5,488.3 893.2,483.3 893.9,479.1 894.7,476.7 895.6,477.6 896.5,480.4 897.5,481.7 898.6,479.7 899.7,476.3 900.8,473.3 901.9,471.3 903.1,469.7 904.2,469.2 905.2,470.2 906.1,472.1 907.5,474.2 909.6,475.9 912.2,477.7 915.0,480.0 918.1,483.0 921.6,486.5 925.0,490.0 928.3,493.3 931.7,496.7 935.0,500.0 938.6,503.6 942.2,507.2 945.0,509.8 946.4,510.9 946.9,511.0 947.5,510.7 948.3,509.7 949.1,508.4 950.0,508.2 951.0,510.5 952.2,513.9 953.3,515.7 954.4,514.3 955.5,511.3 956.7,509.0 958.0,508.9 959.5,509.5 960.8,508.2 961.8,504.2 962.8,498.3 964.0,490.0 965.8,477.5 967.9,462.7 970.0,450.0 971.9,441.3 973.8,434.9 976.0,430.0 978.6,426.8 981.4,425.1 985.0,424.0 989.9,423.3 995.4,423.2 1000.0,423.0 1003.2,422.3 1005.5,421.4 1007.0,420.8 1007.3,420.6 1007.3,420.7 1007.3,420.8 1007.3,585.4 1007.5,579.7 1007.7,571.7 1008.2,565.4 1008.9,563.2 1009.7,562.7 1010.7,560.4 1011.8,553.5 1013.0,544.8 1014.0,538.9 1014.6,537.5 1015.1,538.8 1015.6,542.2 1016.4,548.4 1017.2,556.5 1018.1,563.8 1018.9,569.1 1019.8,573.5 1020.6,577.0 1021.3,579.7 1022.0,581.5 1022.8,582.0 1023.7,580.5 1024.7,577.7 1025.6,575.4 1026.5,574.2 1027.3,573.6 1028.1,573.7 1029.0,574.6 1029.9,576.3 1030.6,578.7 1031.0,582.6 1031.2,587.3 1031.4,590.7 1031.6,591.0 1031.7,591.0 1031.8,590.7 1031.8,420.8 1035.6,420.8 1035.6,590.7 1036.2,589.2 1037.1,587.2 1038.0,585.4 1038.9,584.1 1039.7,583.1 1040.6,582.9 1041.4,583.8 1042.3,585.4 1043.0,587.0 1043.7,588.4 1044.3,589.8 1044.7,590.7 1044.7,420.8 1048.9,420.8 1048.9,590.7 1049.5,590.3 1050.4,589.9 1051.4,589.5 1052.5,589.4 1053.7,589.4 1054.7,589.5 1055.3,589.9 1055.7,590.3 1056.0,590.7 1056.0,420.8 1059.3,420.8 1059.3,590.7 1060.7,590.1 1062.7,589.4 1064.6,588.7 1066.2,588.2 1067.7,587.9 1068.8,587.9 1069.3,588.7 1069.5,589.8 1069.6,590.7 1069.6,420.8 1070.3,420.8 1070.3,590.7 1071.0,590.7 1071.0,420.8 1071.7,420.8 1071.7,590.7 1072.4,590.7 1072.4,420.8 1072.4,420.7 1072.4,420.6 1073.0,420.8 1075.4,421.7 1078.7,423.0 1081.6,424.1 1083.9,424.9 1085.9,425.5 1087.3,425.9" fill="none" stroke="#FFA500" stroke-width="1.4" stroke-linejoin="round"/>
<polyline points="81.7,508.2 95.9,516.5 115.5,528.1 130.0,537.0 132.5,540.7 132.5,541.8 132.5,542.0 133.7,541.5 135.2,540.0 136.7,539.0 138.4,538.9 140.1,539.2 141.7,539.8 142.6,540.7 143.4,542.0 145.0,543.2 148.2,544.3 152.3,545.3 155.8,546.5 158.1,548.1 159.8,549.7 161.7,550.7 164.1,550.3 166.6,549.1 169.2,548.7 171.9,549.9 174.5,551.9 176.7,553.2 178.0,553.0 178.8,552.1 179.7,551.5 181.1,551.8 182.7,552.5 184.2,552.7 185.4,552.0 186.6,550.9 188.3,550.2 191.2,550.3 194.6,550.9 197.5,552.0 199.3,554.0 200.5,556.5 201.7,558.7 203.1,560.5 204.4,562.1 205.8,562.8 207.1,562.3 208.4,560.9 210.0,559.8 212.1,559.3 214.4,559.1 216.7,558.7 219.0,558.0 221.3,557.2 223.3,556.5 224.9,556.0 226.2,555.7 227.5,555.7 228.8,556.1 230.1,556.9 231.7,558.2 233.8,560.3 236.2,562.9 238.3,564.8 239.6,565.4 240.6,565.4 241.7,565.7 243.3,566.9 245.2,568.5 246.7,569.5 247.6,569.2 248.3,568.4 249.2,568.5 250.7,570.6 252.4,573.6 254.2,575.7 255.8,576.0 257.5,575.4 259.2,574.8 261.0,574.6 262.9,574.3 265.0,573.7 267.6,572.7 270.4,571.3 273.3,569.8 276.2,567.9 279.1,565.8 281.7,564.0 283.7,562.6 285.3,561.4 286.7,560.7 287.7,560.6 288.5,561.0 289.2,561.2 290.0,560.9 290.7,560.5 291.7,560.3 292.9,560.5 294.2,561.0 295.8,561.5 297.7,562.0 299.9,562.6 301.7,562.8 303.0,562.5 303.9,561.8 305.0,561.5 306.3,561.8 307.8,562.3 309.2,562.8 310.6,562.9 311.9,562.9 313.3,563.2 314.7,563.8 316.0,564.6 317.5,565.7 319.2,567.2 321.0,568.9 322.5,570.3 323.5,571.2 324.1,571.8 325.0,572.0 326.3,571.7 327.7,570.9 329.2,569.8 330.6,568.5 332.0,566.8 333.3,564.8 334.5,562.1 335.7,559.0 336.7,556.5 337.5,554.7 338.1,553.5 338.8,553.2 339.7,554.4 340.7,556.4 341.7,558.2 342.4,559.3 343.1,560.1 344.2,560.3 345.9,559.9 347.9,558.9 350.0,557.3 352.3,554.4 354.7,551.0 356.7,549.0 358.0,549.9 358.8,552.2 359.7,553.7 360.8,553.1 362.0,551.6 363.3,550.7 364.8,551.4 366.4,552.7 368.0,553.2 369.5,552.0 371.0,549.9 372.5,548.2 374.0,547.1 375.4,546.3 376.7,546.0 377.7,546.7 378.6,547.9 380.0,548.7 382.5,548.3 385.6,547.4 388.3,547.0 390.2,547.6 391.8,548.7 393.3,549.3 394.8,549.0 396.4,548.3 398.3,547.7 400.9,547.3 403.8,547.1 406.7,547.0 409.5,547.3 412.4,547.7 415.0,547.7 417.4,546.6 419.7,544.9 421.7,544.0 423.2,544.6 424.3,545.9 425.8,546.5 428.0,545.6 430.4,544.2 432.5,543.2 433.8,543.5 434.8,544.4 435.8,544.8 437.1,544.0 438.5,542.6 440.0,542.0 441.6,542.8 443.4,544.3 445.0,545.7 446.4,546.9 447.7,548.1 449.2,549.0 451.2,549.2 453.6,549.2 455.8,549.8 457.8,551.6 459.8,554.0 461.7,556.5 463.6,558.7 465.5,560.8 467.5,563.2 469.7,566.6 472.1,570.3 474.2,571.5 475.9,567.9 477.4,561.9 478.7,558.2 479.7,559.3 480.5,562.6 481.7,565.7 483.4,567.7 485.3,569.4 487.5,570.7 489.9,571.6 492.5,572.1 495.0,572.0 497.3,570.9 499.5,569.2 501.7,567.3 504.0,565.0 506.3,562.5 508.3,561.5 509.8,562.8 511.1,565.6 512.5,569.0 514.1,573.9 515.9,579.4 517.5,582.3 518.9,580.7 520.2,576.6 521.7,572.3 523.6,568.1 525.7,563.8 527.5,561.5 528.8,562.6 529.7,565.8 530.8,569.0 532.2,571.9 533.6,574.9 535.0,577.3 536.2,579.1 537.2,580.4 538.3,580.7 539.4,579.4 540.6,577.1 541.7,574.8 542.7,572.7 543.7,570.5 545.0,569.3 546.7,569.4 548.7,570.4 550.8,571.5 552.9,572.8 555.2,574.2 557.5,574.8 560.0,573.7 562.6,571.7 565.0,570.3 567.1,570.2 568.9,570.7 570.8,571.0 572.7,570.4 574.6,569.6 576.7,569.8 579.3,572.1 582.3,575.3 585.0,577.3 587.4,576.8 589.6,575.1 591.7,574.0 593.6,574.1 595.5,574.8 597.5,575.7 599.8,577.1 602.4,578.8 605.0,579.8 607.8,579.2 610.7,577.9 613.3,577.3 615.6,578.1 617.7,579.6 619.2,580.7 619.7,581.1 619.6,581.2 620.0,580.7 621.3,579.1 623.1,576.9 625.0,575.7 627.1,576.4 629.3,578.1 631.7,579.0 634.1,577.8 636.6,575.8 639.2,575.3 642.2,578.3 645.3,582.8 648.3,585.3 650.8,583.3 653.2,579.4 655.8,577.3 659.0,579.8 662.5,584.2 665.8,586.5 668.8,583.8 671.7,579.0 674.2,576.5 676.4,578.8 678.4,583.5 680.0,587.3 681.2,589.1 682.0,590.1 682.5,590.7 682.5,420.8 683.8,420.8 683.8,590.7 683.8,591.0 683.8,591.0 684.2,590.7 686.2,585.4 689.0,578.3 691.7,574.8 694.2,578.3 696.6,585.4 698.3,590.7 698.3,420.8 698.7,422.2 699.3,424.0 700.0,425.0 700.7,424.2 701.4,422.6 702.0,421.3 702.4,420.9 702.6,420.8 702.8,420.8 702.8,590.7 704.9,584.9 708.0,577.1 710.8,573.2 713.3,577.1 715.6,584.9 717.2,590.7 717.2,420.8 717.5,422.0 717.8,423.6 718.3,425.0 718.8,426.0 719.4,426.8 720.0,426.7 720.7,425.1 721.5,422.6 722.0,420.8 722.0,590.7 723.9,585.4 726.7,578.3 729.2,574.8 731.4,578.3 733.3,585.4 734.7,590.7 734.7,420.8 735.0,421.7 735.5,422.9 736.0,424.0 736.6,425.0 737.3,425.9 738.0,426.0 738.8,424.6 739.7,422.4 740.3,420.8 740.3,590.7 742.2,585.8 744.8,579.3 747.5,576.0 750.2,579.3 752.8,585.8 754.7,590.7 754.7,420.8 755.1,421.9 755.7,423.3 756.3,424.0 756.9,423.3 757.6,421.9 758.0,420.8 758.0,590.7 758.9,588.9 760.2,586.4 761.7,584.8 763.2,585.0 764.8,586.2 766.7,587.3 769.1,588.1 771.7,588.9 774.2,589.3 776.3,589.3 778.2,588.9 780.0,588.2 781.8,586.9 783.4,585.4 785.0,584.5 786.4,585.0 787.7,586.1 789.2,586.5 791.3,585.2 793.7,583.3 795.8,582.3 797.5,583.1 799.0,584.8 800.0,586.5 800.5,588.1 800.5,589.6 800.5,590.7 800.5,420.8 800.9,422.2 801.4,424.0 802.0,425.0 802.5,424.5 803.0,423.1 803.5,422.0 803.9,421.4 804.3,421.0 804.5,420.8 804.5,590.7 804.6,590.8 804.7,590.9 805.0,590.7 805.7,589.9 806.6,588.8 807.5,588.2 808.5,588.8 809.6,589.9 810.3,590.7 810.3,420.8 812.0,420.8 812.0,590.7 813.2,588.5 814.9,585.5 816.7,584.0 818.8,585.5 821.0,588.5 822.5,590.7 822.5,420.8 822.9,422.2 823.4,424.1 824.0,425.0 824.6,424.1 825.3,422.2 825.8,420.8 825.8,590.7 826.9,587.9 828.4,584.2 830.0,582.3 831.6,584.2 833.2,587.9 834.3,590.7" fill="none" stroke="#FF0000" stroke-width="1.45" stroke-linejoin="round"/>
<polyline points="834.3,590.7 834.3,420.8 835.5,420.8 835.5,590.7 836.8,590.7 836.8,420.8 838.0,420.8 838.0,590.7" fill="none" stroke="#FF0000" stroke-width="1.45" stroke-linejoin="round" stroke-opacity="0.7"/>
<polyline points="838.0,590.7 839.3,587.4 841.2,583.0 843.3,580.7 845.5,583.2 847.8,587.8 850.0,589.8 852.0,585.7 854.0,579.1 855.8,575.7 857.7,579.1 859.5,585.7 860.8,590.7 860.8,420.8 861.2,422.2 861.9,424.1 862.5,425.0 863.1,424.1 863.8,422.2 864.2,420.8 864.2,590.7 865.8,584.8 868.0,576.8 870.0,571.5 871.3,571.3 872.2,573.9 873.3,577.3 874.6,582.1 875.9,587.8 877.5,590.5 879.3,587.8 881.2,582.2 883.3,577.3 885.6,574.1 887.9,571.7 890.0,571.0 891.6,573.4 893.0,577.7 894.2,580.7 895.2,580.9 896.2,580.0 897.5,579.8 899.5,581.5 901.9,584.0 904.2,585.3 905.9,584.4 907.5,582.4 910.0,580.7 913.8,579.9 918.5,579.5 923.3,579.0 928.4,578.4 933.7,577.7 938.3,576.5 941.7,574.4 944.4,571.8 946.7,569.8 948.5,569.0 949.9,568.8 951.7,568.2 954.3,566.4 957.2,564.1 960.0,562.7 962.4,563.1 964.6,564.4 966.6,565.4 968.1,565.5 969.4,565.3 970.8,565.4 972.6,565.9 974.5,566.7 976.6,567.9 978.8,570.0 981.1,572.5 983.3,574.6 985.3,575.8 987.2,576.6 989.1,577.1 991.1,577.4 993.0,577.5 994.9,577.1 996.7,576.0 998.3,574.4 999.9,573.4 1001.3,573.4 1002.5,573.9 1004.0,574.1 1005.8,573.8 1007.9,573.1 1009.8,572.4 1011.5,571.4 1013.1,570.2 1014.5,569.6 1015.5,569.8 1016.3,570.6 1017.3,571.7 1018.5,573.2 1019.9,574.9 1021.5,576.2 1023.6,576.5 1025.9,576.4 1028.1,576.6 1029.7,577.6 1031.1,579.0 1033.1,580.0 1036.2,580.1 1039.8,579.9 1043.0,580.0 1045.1,580.8 1046.7,582.0 1048.9,582.9 1052.1,583.3 1055.9,583.4 1059.7,583.7 1063.4,584.3 1067.0,584.9 1070.5,585.7 1073.7,586.6 1076.7,587.6 1079.6,588.4 1082.6,589.1 1085.4,589.6 1087.3,590.0" fill="none" stroke="#FF0000" stroke-width="1.45" stroke-linejoin="round"/>
<polyline points="81.7,508.2 95.9,508.2 115.5,508.3 130.0,508.5 133.0,509.0 133.0,509.7 133.0,510.2 133.9,510.4 134.8,510.3 135.8,509.8 136.9,508.3 138.0,506.3 139.2,505.3 140.5,506.0 141.8,507.6 143.3,509.0 144.9,509.6 146.6,509.9 148.3,510.2 150.1,510.3 151.8,510.4 153.3,510.7 154.3,511.2 155.0,511.9 155.8,513.2 156.9,515.5 158.0,518.3 159.2,520.7 160.3,522.2 161.4,523.2 162.5,524.0 163.7,525.0 164.8,525.8 165.8,525.7 166.5,524.0 167.0,521.4 167.5,519.0 168.0,517.1 168.6,515.6 169.2,514.8 169.9,515.5 170.7,517.0 171.7,517.8 173.2,517.0 175.0,515.6 176.7,514.8 178.2,515.2 179.5,516.3 180.8,517.3 182.0,518.2 183.0,519.0 184.2,519.3 185.6,518.5 187.0,517.2 188.3,516.2 189.2,516.2 189.9,516.6 190.8,516.2 192.1,514.1 193.7,511.3 195.0,509.3 196.0,508.6 196.7,508.8 197.5,509.8 198.3,512.3 199.1,515.6 200.0,517.8 201.1,517.6 202.2,516.2 203.3,515.2 204.2,515.3 205.1,515.8 205.8,516.5 206.3,517.4 206.7,518.6 207.5,519.3 209.0,519.5 210.8,519.2 212.5,518.7 213.7,517.5 214.8,516.0 215.8,515.2 217.0,516.0 218.1,517.5 219.2,518.5 220.1,518.3 220.9,517.6 221.7,516.5 222.5,514.8 223.3,512.8 224.2,511.2 225.2,510.6 226.3,510.4 227.5,509.8 228.9,508.3 230.4,506.4 231.7,504.3 232.6,502.2 233.4,499.8 234.2,496.7 235.3,492.0 236.4,486.5 237.5,482.5 238.4,481.3 239.2,481.6 240.0,481.3 240.8,479.7 241.6,477.5 242.5,475.0 243.6,471.8 244.7,468.2 245.8,465.8 246.7,465.6 247.5,466.6 248.3,466.7 249.1,465.3 249.9,463.1 250.8,460.0 251.9,455.5 253.1,450.2 254.2,445.8 255.1,442.9 255.9,440.8 256.7,439.2 257.5,438.5 258.3,438.3 259.2,436.7 260.3,432.0 261.6,425.8 262.5,421.3 262.9,420.5 263.0,420.5 263.0,420.8 263.0,590.7 263.6,588.0 264.6,584.1 265.8,580.7 267.3,578.7 269.1,577.2 270.8,574.8 272.2,570.8 273.6,565.9 275.0,560.7 276.6,555.3 278.2,549.5 280.0,544.0 281.9,538.6 284.0,533.4 285.8,529.0 287.4,525.9 288.7,523.5 290.0,520.7 291.1,516.9 292.1,512.6 293.0,509.0 293.7,506.7 294.5,504.9 295.8,502.5 298.3,498.7 301.5,494.3 304.2,490.0 305.9,485.7 307.1,481.4 308.3,478.3 309.5,477.1 310.6,477.0 311.7,476.7 312.7,475.9 313.8,474.9 315.0,473.0 316.6,469.8 318.3,465.7 320.0,460.8 321.6,454.3 323.1,447.1 324.2,441.7 324.8,439.4 325.0,438.9 325.3,439.2 325.7,440.5 326.2,442.6 326.7,444.2 327.3,444.5 327.9,444.3 328.7,445.0 329.6,447.6 330.7,451.1 331.7,454.2 332.6,456.0 333.4,457.4 334.2,459.2 335.0,462.1 335.9,465.5 336.7,468.3 337.4,470.3 338.1,471.6 338.8,472.0 339.7,470.9 340.7,468.8 341.7,466.7 342.6,464.8 343.6,463.0 344.7,462.0 346.1,462.0 347.7,462.7 349.2,464.2 350.6,466.7 352.0,469.9 353.3,473.3 354.6,477.5 356.0,481.8 357.2,484.2 358.3,482.7 359.4,479.3 360.5,477.5 361.9,479.8 363.3,483.7 364.7,485.8 365.8,483.6 366.9,479.7 368.0,478.0 369.4,481.3 370.8,486.9 372.2,490.3 373.5,489.4 374.6,486.3 375.8,483.3 377.0,480.6 378.1,477.8 379.2,476.3 380.3,476.9 381.5,478.7 382.5,480.0 383.2,480.0 383.8,479.5 385.0,479.7 387.3,481.4 390.1,483.8 392.5,485.3 393.8,485.4 394.7,484.6 395.8,483.3 397.4,481.1 399.1,478.4 400.8,476.7 402.3,476.9 403.8,478.2 405.0,479.2 406.0,479.7 406.8,480.0 407.5,480.0 408.1,479.5 408.6,478.7 409.2,478.3 409.8,478.7 410.4,479.5 411.3,479.7 412.7,478.7 414.4,477.2 415.8,476.3 416.7,476.4 417.4,477.1 418.3,478.3 419.6,480.5 421.2,483.2 422.5,485.0 423.4,485.1 424.1,484.4 425.0,483.3 426.2,481.8 427.5,480.0 428.7,479.2 429.7,479.9 430.7,481.5 431.7,483.3 432.7,485.0 433.8,486.9 435.0,489.2 436.3,492.1 437.8,495.3 439.2,498.3 440.6,500.8 441.9,503.2 443.3,505.7 444.7,508.9 446.0,512.3 447.5,514.8 449.1,516.1 450.9,516.7 452.5,516.5 454.0,514.8 455.4,512.5 456.7,512.0 457.8,515.1 458.8,520.0 459.7,524.0 460.6,525.1 461.5,525.3 462.5,527.3 463.6,533.1 464.7,540.9 465.8,547.3 466.8,551.5 467.7,554.4 468.7,556.0 469.9,555.9 471.2,554.5 472.5,552.3 473.7,549.6 474.8,546.1 475.8,542.3 476.7,537.1 477.5,531.5 478.3,529.0 479.1,531.7 479.9,537.6 480.8,544.0 481.9,551.0 483.0,558.5 484.2,563.2 485.2,563.1 486.3,560.2 487.5,557.3 489.1,554.9 490.8,552.5 492.5,550.7 493.9,550.1 495.2,550.1 496.7,549.8 498.9,548.9 501.3,547.6 503.3,545.7 504.5,543.4 505.2,540.4 505.8,535.7 506.2,528.2 506.5,519.0 506.7,510.7 507.0,504.7 507.2,499.6 507.5,494.0 507.8,485.6 508.0,476.7 508.3,472.5 508.6,477.3 509.0,486.8 509.2,494.0 510.0,527.3 510.1,533.0 510.2,541.0 510.8,547.3 512.1,550.4 513.9,551.7 515.8,552.3 517.9,552.5 520.0,551.8 521.7,549.8 522.6,547.0 523.0,542.9 523.3,535.7 523.8,523.0 524.2,507.2 524.5,494.0 524.6,485.7 524.6,480.0 525.0,475.0 526.3,470.1 528.0,466.1 529.2,463.3 529.6,431.7 529.8,579.0 529.9,571.4 530.2,561.0 530.8,553.2 531.9,550.6 533.4,550.6 535.0,550.7 536.7,550.3 538.5,550.1 540.0,549.8 541.2,549.0 542.1,548.2 543.0,548.2 543.8,549.6 544.4,551.7 545.0,554.0 545.6,556.7 546.2,559.4 546.7,560.7 547.1,559.5 547.5,556.7 548.3,554.0 549.7,551.8 551.4,549.6 553.3,547.3 555.3,544.9 557.3,542.4 559.2,539.8 560.7,536.6 562.1,533.2 563.3,530.7 564.4,529.6 565.4,529.3 566.7,529.0 568.8,528.7 571.3,528.4 573.3,527.3 574.3,525.6 574.9,523.2 575.3,519.0 575.7,511.0 576.1,501.1 576.3,494.0 577.0,463.3 577.3,471.3 577.6,482.7 578.0,494.0 578.3,504.9 578.6,515.8 579.2,524.0 580.4,527.9 581.9,529.1 583.3,529.8 584.5,530.7 585.5,531.0 586.7,531.0 588.1,530.2 589.6,529.0 590.8,529.0 591.5,531.3 591.8,534.8 592.0,537.3 593.0,590.7 593.0,420.8 593.5,424.4 594.3,429.3 595.0,433.3 595.7,435.8 596.4,437.2 597.0,436.7 597.4,432.8 597.8,427.0 598.0,422.5 598.0,420.9 598.0,420.8 598.0,420.8 598.0,590.7 598.3,532.3 599.3,532.4 600.8,532.4 602.5,532.0 604.3,531.0 606.4,529.6 608.3,528.2 610.1,527.0 611.9,525.9 613.3,524.8 614.1,524.2 614.6,523.7 615.0,521.5 615.3,514.8 615.5,506.5 615.8,503.2 616.1,510.0 616.5,521.9 617.0,530.7 617.7,532.5 618.5,531.2 619.2,529.8 619.4,529.6 619.5,529.3 620.0,528.2 621.4,526.0 623.3,522.9 625.0,519.0 626.3,514.0 627.4,508.2 628.3,502.3 629.0,496.2 629.5,490.1 630.0,485.0 630.5,480.5 630.9,477.0 631.3,476.7 631.7,481.5 632.1,489.5 632.5,496.7 633.0,502.0 633.6,506.5 634.2,510.0 634.9,512.4 635.7,513.8 636.7,514.2 637.9,513.1 639.4,511.0 640.8,509.2 642.3,508.3 643.8,507.6 645.0,506.7 645.8,505.0 646.4,503.1 646.7,501.7 647.5,460.0 648.3,423.3 649.2,460.0 649.7,510.0 649.9,511.1 650.2,512.6 650.8,513.3 651.9,512.6 653.4,511.2 655.0,510.0 656.6,509.6 658.4,509.5 660.0,509.2 661.5,508.5 662.9,507.7 664.2,507.0 665.3,506.8 666.4,506.8 667.5,506.3 668.8,505.0 670.3,503.1 671.7,500.8 673.1,497.8 674.6,494.3 675.8,491.7 676.8,490.8 677.5,490.8 678.3,490.0 679.2,488.1 680.0,485.5 680.8,481.7 681.4,474.4 682.0,466.0 682.5,463.3 683.0,472.0 683.5,486.4 684.2,496.7 685.4,498.3 686.8,495.8 688.3,493.3 689.9,491.9 691.7,490.4 693.3,489.7 694.8,490.0 696.3,491.0 697.5,492.5 698.4,493.9 699.1,495.9 699.7,500.0 700.2,507.7 700.5,517.6 700.8,527.3 701.1,536.7 701.5,545.9 701.7,552.3 702.5,510.7 702.6,502.7 702.8,491.6 703.3,483.3 704.2,480.8 705.4,481.0 706.7,480.8 708.3,479.0 710.2,476.7 711.7,474.2 712.8,471.2 713.5,468.0 714.2,465.0 714.8,462.1 715.3,459.4 715.8,458.3 716.4,461.2 717.0,465.6 717.5,465.0 718.0,454.4 718.4,438.7 718.7,426.7 718.9,422.1 719.1,421.1 719.2,420.8 719.7,572.3 720.8,471.7 721.4,471.9 722.2,472.3 723.3,473.0 724.9,474.3 726.7,475.9 728.3,476.7 729.3,476.3 730.1,475.2 730.8,473.3 731.6,470.8 732.5,467.6 733.3,463.3 734.2,457.5 735.1,450.5 735.8,443.3 736.2,435.2 736.5,426.7 736.7,420.8 736.9,420.5 737.1,420.5 737.2,420.8 737.2,590.7 738.0,590.7 738.0,420.8 738.8,420.8 738.8,590.7 739.6,590.7 739.6,420.8 739.7,427.0 739.9,435.7 740.3,443.3 740.8,448.6 741.6,452.7 742.5,455.8 743.7,457.6 745.2,458.2 746.7,458.3 748.4,457.9 750.2,456.9 751.7,455.8 752.8,455.5 753.6,455.1 754.2,451.7 754.7,442.2 755.0,429.8 755.3,420.8 755.5,420.5 755.7,420.5 755.8,420.8 756.2,577.3 757.0,500.0 757.3,490.9 757.6,478.3 758.0,468.3 758.3,464.1 758.6,462.5 759.2,460.0 760.1,454.7 761.3,448.4 762.5,443.3 763.8,440.2 765.3,438.2 766.7,436.7 768.1,435.5 769.6,434.9 770.8,435.0 771.7,437.1 772.4,439.9 773.0,440.0 773.5,434.7 773.9,426.7 774.2,420.8 775.0,519.0 776.3,420.8 776.5,423.4 776.9,427.1 777.5,430.0 778.4,431.3 779.6,431.8 780.8,432.5 782.2,434.1 783.7,435.9 785.0,436.7 786.0,435.9 786.8,434.1 787.5,431.7 788.2,428.1 788.8,423.8 789.2,420.8 789.5,420.5 789.6,420.5 789.7,420.8 789.7,590.7 790.0,514.0 790.7,503.9 791.6,489.6 792.5,476.7 793.1,467.1 793.6,459.0 794.2,451.7 794.9,445.4 795.8,440.0 796.7,435.0 797.9,429.9 799.1,425.1 800.0,421.7 800.3,420.5 800.3,420.6 800.3,420.8 800.3,590.7 801.4,588.3 803.0,584.9 804.0,582.3 803.9,581.4 803.4,581.2 803.3,580.7 804.1,579.2 805.4,577.4 806.7,575.7 808.0,574.2 809.4,572.9 810.8,572.3 812.2,572.7 813.6,574.0 815.0,575.7 816.4,578.8 817.9,582.3 819.2,584.0 820.3,581.9 821.3,577.9 822.5,574.8 824.2,573.9 826.0,573.9 827.5,573.7 828.4,572.7 828.9,571.5 829.2,570.7 830.0,534.0 830.8,572.3 831.9,573.1 833.4,574.2 835.0,574.8 836.7,574.4 838.6,573.5 840.0,572.3 840.8,570.6 841.1,568.7 841.3,567.3 842.2,527.3 843.0,577.3 843.4,579.2 844.1,581.6 845.0,582.3 846.2,579.8 847.7,575.6 849.2,572.3 850.6,571.2 852.1,571.1 853.3,570.7 854.3,569.2 855.1,567.4 855.8,566.5 856.3,567.5 856.8,569.4 857.5,570.7 858.7,570.8 860.2,570.3 861.7,569.0 863.1,566.5 864.5,563.2 865.8,560.7 867.1,559.6 868.3,559.2 869.2,559.0 870.9,420.8 871.3,420.8 871.9,590.7 872.0,586.8 872.3,581.3 872.5,577.3 872.6,576.3 872.8,576.8 873.3,576.5 874.5,574.9 876.0,572.5 877.5,569.0 878.7,563.4 879.8,556.6 880.8,550.7 881.7,546.2 882.5,542.6 883.3,540.7 884.1,541.7 885.0,544.3 885.8,545.7 886.7,544.5 887.5,542.1 888.3,539.0 888.9,534.0 889.5,528.4 890.0,526.5 890.4,531.5 890.8,540.2 891.3,547.3 891.9,550.4 892.5,551.9 893.3,553.2 894.3,555.2 895.5,557.0 896.7,558.2 897.8,558.2 898.9,557.4 900.0,557.0 901.0,557.6 902.1,558.5 903.3,558.7 904.8,557.5 906.4,555.6 908.3,554.0 910.5,553.3 912.8,553.0 915.0,552.3 916.7,550.8 918.3,548.9 920.0,547.7 922.2,547.8 924.5,548.6 926.7,548.7 928.6,547.5 930.2,545.7 931.7,544.3 932.9,544.1 933.9,544.2 935.0,543.7 936.4,541.9 937.8,539.3 939.2,536.5 940.4,533.7 941.5,530.6 942.5,527.3 943.4,523.4 944.3,519.2 945.0,515.7 945.6,513.5 946.0,512.0 946.7,510.7 947.7,509.8 948.9,509.2 950.0,508.0 950.9,506.2 951.9,503.8 953.0,500.0 954.4,494.4 956.1,487.5 958.0,480.0 960.2,471.9 962.6,463.1 965.0,455.0 967.4,447.6 969.7,440.8 972.0,435.0 974.2,430.4 976.3,426.8 978.0,424.0 979.3,422.2 980.2,421.3 980.8,420.8 981.0,590.7 981.4,588.9 982.1,586.2 983.3,582.0 985.2,575.6 987.6,567.8 990.0,560.5 992.1,554.5 994.3,549.2 996.5,544.0 999.0,539.0 1001.7,534.2 1004.0,529.7 1005.6,525.3 1006.9,521.2 1008.2,517.3 1009.9,513.5 1011.7,510.0 1013.2,507.3 1014.1,505.8 1014.7,505.1 1015.3,505.0 1016.0,505.6 1016.6,506.7 1017.3,508.1 1018.1,509.7 1018.9,511.5 1019.8,513.1 1020.7,514.5 1021.7,515.6 1022.8,515.9 1024.0,514.6 1025.2,512.3 1026.4,510.6 1027.6,509.6 1028.7,509.1 1029.8,509.8 1030.9,512.8 1032.1,517.0 1033.1,519.7 1033.9,519.3 1034.7,517.4 1035.6,515.6 1036.8,514.6 1038.3,513.8 1039.7,513.1 1041.1,512.2 1042.6,511.4 1043.9,511.4 1045.1,513.0 1046.1,515.4 1047.2,516.9 1048.2,516.6 1049.3,515.3 1050.5,514.3 1052.1,514.0 1053.8,513.9 1055.5,513.6 1056.9,512.9 1058.3,512.1 1059.7,511.4 1061.2,510.9 1062.9,510.5 1064.6,510.1 1066.6,509.7 1068.7,509.4 1070.5,509.3 1071.1,509.6 1071.4,510.2 1073.0,510.6 1077.4,510.8 1083.2,510.9 1087.3,510.9" fill="none" stroke="#0000FF" stroke-width="1.4" stroke-linejoin="round"/>
</g>
<path d="M81.5 600.4 v3 M196.9 600.4 v3 M312.4 600.4 v3 M427.8 600.4 v3 M543.2 600.4 v3 M658.7 600.4 v3 M774.1 600.4 v3 M889.5 600.4 v3 M1004.9 600.4 v3 M81.5 435.9 h-3 M81.5 459.4 h-3 M81.5 482.9 h-3 M81.5 506.4 h-3 M81.5 529.9 h-3 M81.5 553.4 h-3 M81.5 576.9 h-3" stroke="#666" stroke-width="1.1" fill="none"/>
<rect x="81.5" y="412.5" width="1005.8" height="187.9" fill="none" stroke="#666" stroke-width="1.35"/>
<text x="76" y="442.8" text-anchor="end">150</text>
<text x="76" y="466.6" text-anchor="end">110</text>
<text x="76" y="490.5" text-anchor="end">50</text>
<text x="76" y="514.3" text-anchor="end">0</text>
<text x="76" y="538.1" text-anchor="end">−50</text>
<text x="76" y="562.0" text-anchor="end">−100</text>
<text x="76" y="585.8" text-anchor="end">−150</text>
<text transform="translate(32,506.4) rotate(-90)" text-anchor="middle" style="letter-spacing:0.68px">Yaw (deg)</text>
<rect x="908.3" y="416.3" width="173.1" height="90.3" rx="4" fill="#fff" fill-opacity="1" stroke="#d0d0d0" stroke-width="1.1"/>
<path d="M916.9 429.5 H957.8" stroke="#000000" stroke-width="2"/>
<text x="968.8" y="434.2">ground truth</text>
<path d="M916.9 451.4 H957.8" stroke="#FFA500" stroke-width="2"/>
<text x="968.8" y="456.1">ECF</text>
<path d="M916.9 473.3 H957.8" stroke="#FF0000" stroke-width="2"/>
<text x="968.8" y="478.0">Raw IMU</text>
<path d="M916.9 495.2 H957.8" stroke="#0000FF" stroke-width="2"/>
<text x="968.8" y="499.9">Proposed</text>
<text x="81.5" y="622.9" text-anchor="middle">0.0</text>
<text x="196.9" y="622.9" text-anchor="middle">0.2</text>
<text x="312.4" y="622.9" text-anchor="middle">0.4</text>
<text x="427.8" y="622.9" text-anchor="middle">0.6</text>
<text x="543.2" y="622.9" text-anchor="middle">0.8</text>
<text x="658.7" y="622.9" text-anchor="middle">1.0</text>
<text x="774.1" y="622.9" text-anchor="middle">1.2</text>
<text x="889.5" y="622.9" text-anchor="middle">1.4</text>
<text x="1004.9" y="622.9" text-anchor="middle">1.6</text>
<text x="584.5" y="644.7" text-anchor="middle">time (min)</text>
</svg></body></html>
